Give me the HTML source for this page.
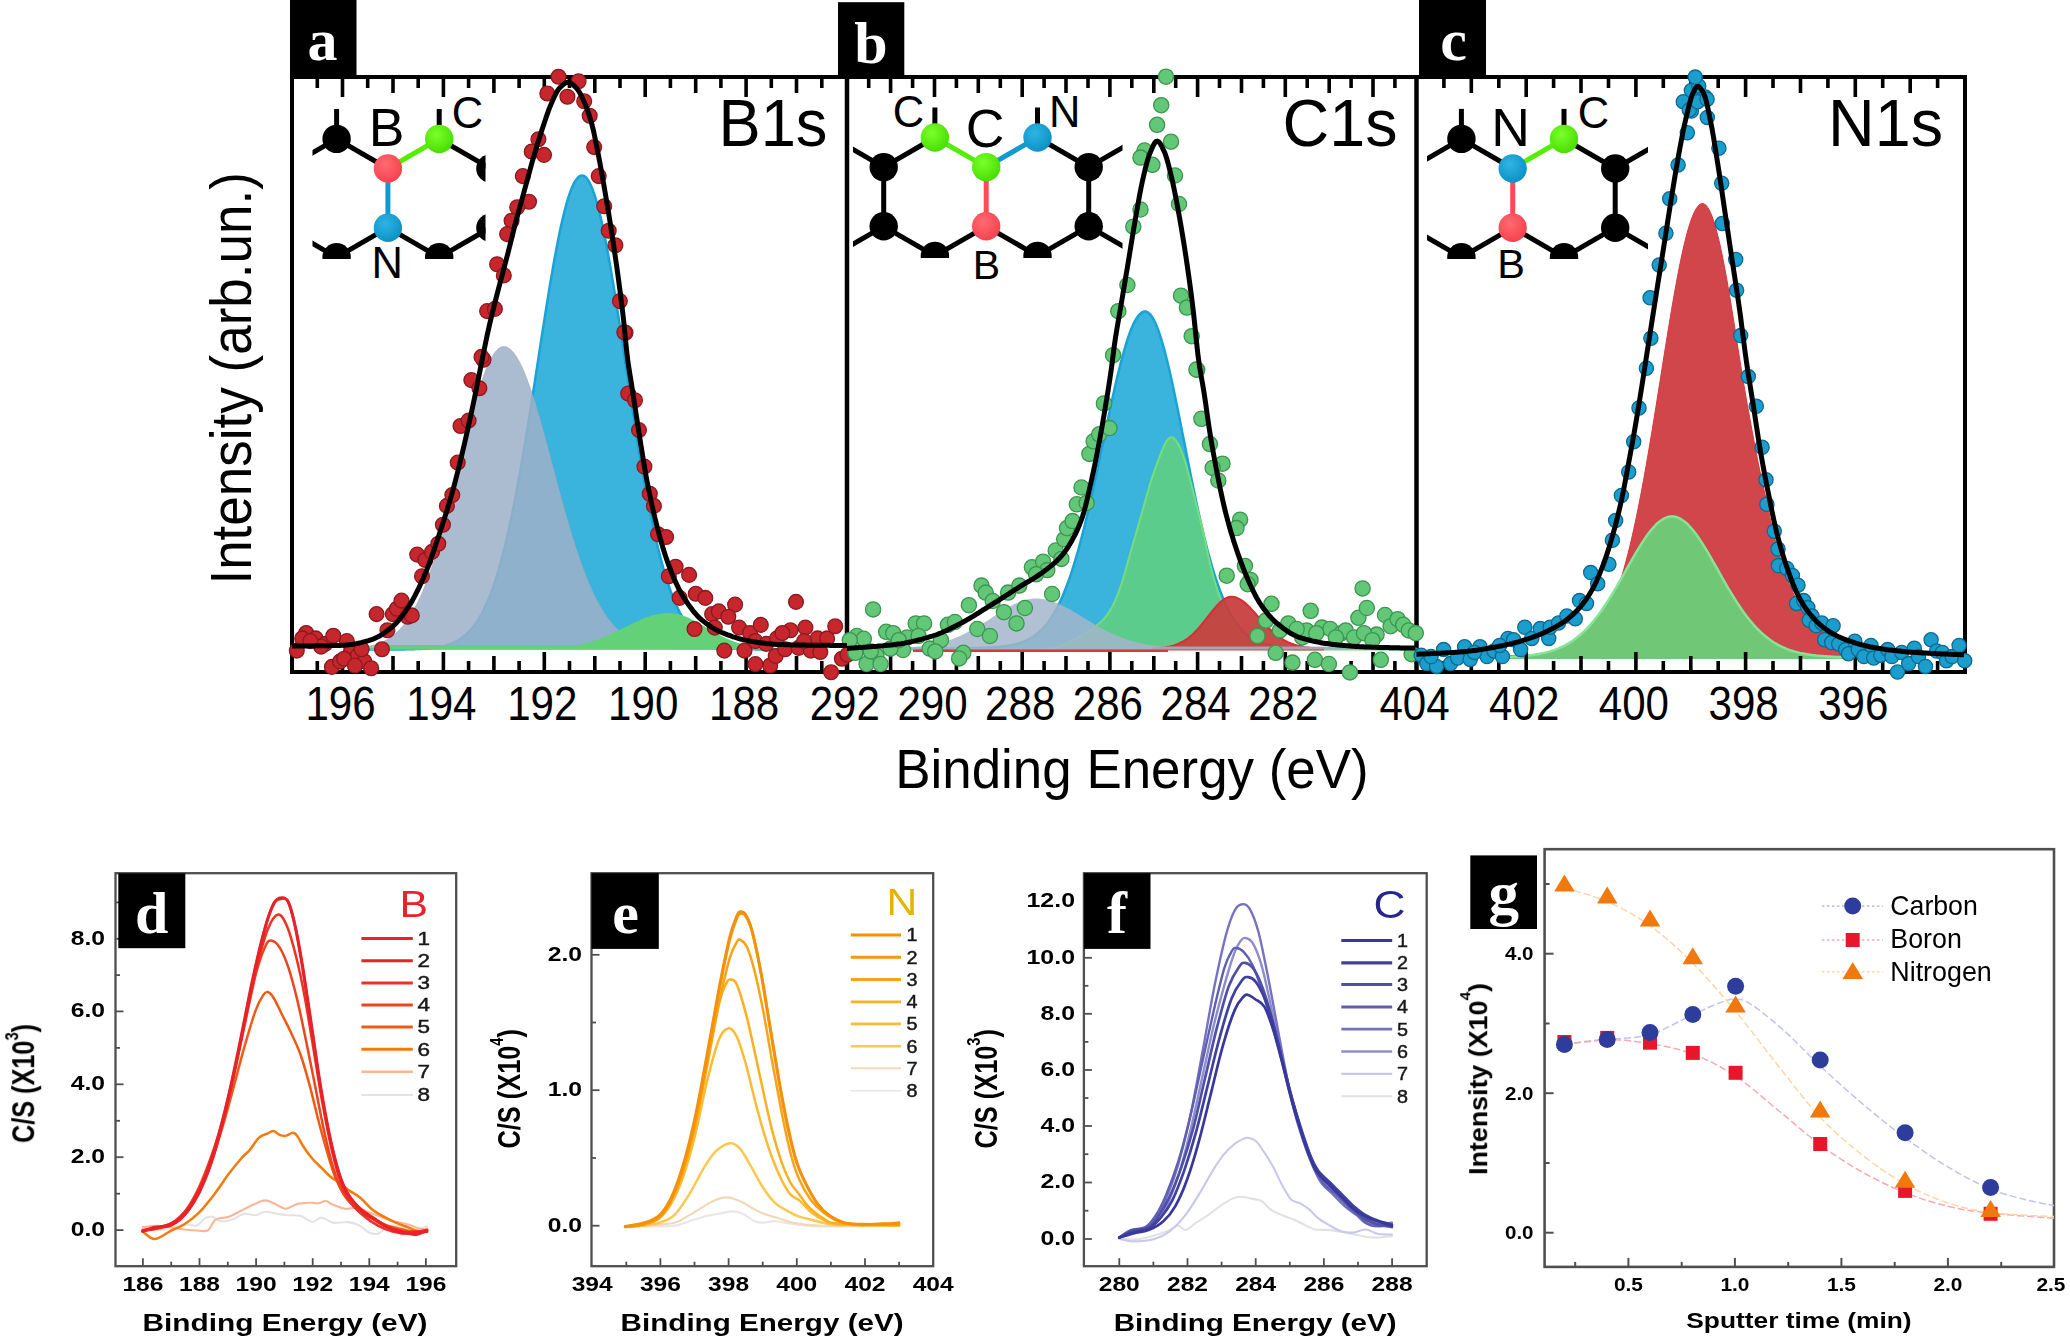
<!DOCTYPE html>
<html lang="en"><head><meta charset="utf-8"><title>XPS spectra figure</title>
<style>
html,body{margin:0;padding:0;background:#fff;}
body{width:2070px;height:1344px;overflow:hidden;}
svg{display:block;}
text{white-space:pre;}
</style></head><body>
<svg width="2070" height="1344" viewBox="0 0 2070 1344">
<rect width="2070" height="1344" fill="#fff"/>
<defs><filter id="soft" x="-2%" y="-2%" width="104%" height="104%"><feGaussianBlur stdDeviation="0.7"/></filter></defs>
<g id="top_fills">
<clipPath id="clipA"><rect x="292.0" y="77.0" width="555.0" height="595.0"/></clipPath>
<clipPath id="clipB"><rect x="847.0" y="77.0" width="569.5" height="595.0"/></clipPath>
<clipPath id="clipC"><rect x="1416.5" y="77.0" width="548.5" height="595.0"/></clipPath>
<path d="M360 649.5L362 649.5L364 649.5L366 649.5L368 649.5L370 649.5L372 649.5L374 649.5L376 649.5L378 649.5L380 649.5L382 649.5L384 649.5L386 649.5L388 649.5L390 649.5L392 649.5L394 649.4L396 649.4L398 649.4L400 649.4L402 649.4L404 649.4L406 649.3L408 649.3L410 649.3L412 649.2L414 649.2L416 649.1L418 649L420 648.9L422 648.8L424 648.7L426 648.6L428 648.4L430 648.2L432 648L434 647.8L436 647.5L438 647.2L440 646.8L442 646.4L444 645.9L446 645.4L448 644.7L450 644.1L452 643.3L454 642.4L456 641.4L458 640.3L460 639.1L462 637.7L464 636.1L466 634.4L468 632.6L470 630.5L472 628.2L474 625.7L476 622.9L478 619.9L480 616.6L482 613L484 609.1L486 604.9L488 600.3L490 595.4L492 590.1L494 584.4L496 578.3L498 571.8L500 564.9L502 557.6L504 549.9L506 541.7L508 533L510 524L512 514.5L514 504.6L516 494.3L518 483.6L520 472.6L522 461.1L524 449.4L526 437.3L528 425L530 412.5L532 399.8L534 386.9L536 373.9L538 360.9L540 347.9L542 335L544 322.1L546 309.5L548 297.1L550 284.9L552 273.2L554 261.8L556 250.9L558 240.6L560 230.8L562 221.7L564 213.3L566 205.6L568 198.7L570 192.7L572 187.5L574 183.2L576 179.9L578 177.4L580 176L582 175.5L584 176L586 177.5L588 180L590 183.5L592 188L594 193.3L596 199.6L598 206.8L600 214.7L602 223.4L604 232.9L606 242.9L608 253.6L610 264.9L612 276.6L614 288.7L616 301.2L618 313.9L620 326.9L622 340L624 353.3L626 366.5L628 379.8L630 393L632 406L634 418.9L636 431.6L638 444L640 456.1L642 467.9L644 479.3L646 490.4L648 501L650 511.3L652 521.1L654 530.4L656 539.3L658 547.8L660 555.8L662 563.4L664 570.5L666 577.2L668 583.5L670 589.3L672 594.8L674 599.8L676 604.5L678 608.8L680 612.8L682 616.5L684 619.9L686 623L688 625.8L690 628.3L692 630.6L694 632.8L696 634.7L698 636.4L700 637.9L702 639.3L704 640.5L706 641.6L708 642.6L710 643.5L712 644.3L714 644.9L716 645.5L718 646.1L720 646.5L722 646.9L724 647.3L726 647.6L728 647.9L730 648.1L732 648.3L734 648.5L736 648.6L738 648.8L740 648.9L742 649L744 649.1L746 649.1L748 649.2L750 649.2L752 649.3L754 649.3L756 649.4L758 649.4L760 649.4L762 649.4L764 649.4L766 649.4L768 649.5L770 649.5L772 649.5L774 649.5L776 649.5L778 649.5L780 649.5L782 649.5L784 649.5L786 649.5L788 649.5L790 649.5L792 649.5L794 649.5L796 649.5L798 649.5L798 649.5 L360 649.5 Z" fill="#3ab3dd"/>
<path d="M360 649.5L362 649.5L364 649.5L366 649.5L368 649.5L370 649.5L372 649.5L374 649.5L376 649.5L378 649.5L380 649.5L382 649.5L384 649.5L386 649.5L388 649.5L390 649.5L392 649.5L394 649.4L396 649.4L398 649.4L400 649.4L402 649.4L404 649.4L406 649.3L408 649.3L410 649.3L412 649.2L414 649.2L416 649.1L418 649L420 648.9L422 648.8L424 648.7L426 648.6L428 648.4L430 648.2L432 648L434 647.8L436 647.5L438 647.2L440 646.8L442 646.4L444 645.9L446 645.4L448 644.7L450 644.1L452 643.3L454 642.4L456 641.4L458 640.3L460 639.1L462 637.7L464 636.1L466 634.4L468 632.6L470 630.5L472 628.2L474 625.7L476 622.9L478 619.9L480 616.6L482 613L484 609.1L486 604.9L488 600.3L490 595.4L492 590.1L494 584.4L496 578.3L498 571.8L500 564.9L502 557.6L504 549.9L506 541.7L508 533L510 524L512 514.5L514 504.6L516 494.3L518 483.6L520 472.6L522 461.1L524 449.4L526 437.3L528 425L530 412.5L532 399.8L534 386.9L536 373.9L538 360.9L540 347.9L542 335L544 322.1L546 309.5L548 297.1L550 284.9L552 273.2L554 261.8L556 250.9L558 240.6L560 230.8L562 221.7L564 213.3L566 205.6L568 198.7L570 192.7L572 187.5L574 183.2L576 179.9L578 177.4L580 176L582 175.5L584 176L586 177.5L588 180L590 183.5L592 188L594 193.3L596 199.6L598 206.8L600 214.7L602 223.4L604 232.9L606 242.9L608 253.6L610 264.9L612 276.6L614 288.7L616 301.2L618 313.9L620 326.9L622 340L624 353.3L626 366.5L628 379.8L630 393L632 406L634 418.9L636 431.6L638 444L640 456.1L642 467.9L644 479.3L646 490.4L648 501L650 511.3L652 521.1L654 530.4L656 539.3L658 547.8L660 555.8L662 563.4L664 570.5L666 577.2L668 583.5L670 589.3L672 594.8L674 599.8L676 604.5L678 608.8L680 612.8L682 616.5L684 619.9L686 623L688 625.8L690 628.3L692 630.6L694 632.8L696 634.7L698 636.4L700 637.9L702 639.3L704 640.5L706 641.6L708 642.6L710 643.5L712 644.3L714 644.9L716 645.5L718 646.1L720 646.5L722 646.9L724 647.3L726 647.6L728 647.9L730 648.1L732 648.3L734 648.5L736 648.6L738 648.8L740 648.9L742 649L744 649.1L746 649.1L748 649.2L750 649.2L752 649.3L754 649.3L756 649.4L758 649.4L760 649.4L762 649.4L764 649.4L766 649.4L768 649.5L770 649.5L772 649.5L774 649.5L776 649.5L778 649.5L780 649.5L782 649.5L784 649.5L786 649.5L788 649.5L790 649.5L792 649.5L794 649.5L796 649.5L798 649.5" fill="none" stroke="#1aa3d6" stroke-width="2.5"/>
<path d="M360 647.8L362 647.6L364 647.3L366 646.9L368 646.5L370 646.1L372 645.6L374 645.1L376 644.5L378 643.8L380 643L382 642.2L384 641.2L386 640.2L388 639L390 637.8L392 636.4L394 634.8L396 633.1L398 631.3L400 629.2L402 627L404 624.6L406 622L408 619.2L410 616.2L412 612.9L414 609.4L416 605.7L418 601.7L420 597.5L422 593L424 588.2L426 583.1L428 577.8L430 572.2L432 566.3L434 560.2L436 553.8L438 547.2L440 540.3L442 533.2L444 525.9L446 518.3L448 510.6L450 502.8L452 494.8L454 486.7L456 478.5L458 470.3L460 462.1L462 453.8L464 445.7L466 437.6L468 429.6L470 421.8L472 414.2L474 406.8L476 399.7L478 392.9L480 386.4L482 380.3L484 374.7L486 369.5L488 364.7L490 360.5L492 356.8L494 353.6L496 351L498 349L500 347.5L502 346.7L504 346.5L506 346.8L508 347.7L510 349L512 350.8L514 353.2L516 356L518 359.2L520 362.9L522 367L524 371.6L526 376.5L528 381.8L530 387.4L532 393.3L534 399.6L536 406L538 412.7L540 419.6L542 426.7L544 433.9L546 441.3L548 448.7L550 456.2L552 463.7L554 471.2L556 478.7L558 486.2L560 493.6L562 500.9L564 508.1L566 515.2L568 522.1L570 528.9L572 535.6L574 542L576 548.2L578 554.3L580 560.1L582 565.7L584 571.1L586 576.3L588 581.2L590 585.9L592 590.4L594 594.7L596 598.7L598 602.5L600 606.1L602 609.5L604 612.7L606 615.7L608 618.5L610 621.1L612 623.6L614 625.9L616 628L618 629.9L620 631.7L622 633.4L624 634.9L626 636.3L628 637.6L630 638.8L632 639.9L634 640.9L636 641.8L638 642.6L640 643.3L642 644L644 644.6L646 645.2L648 645.6L650 646.1L652 646.5L654 646.8L656 647.2L658 647.4L660 647.7L662 647.9L664 648.1L666 648.3L668 648.4L670 648.6L672 648.7L674 648.8L676 648.9L678 649L680 649.1L682 649.1L684 649.2L686 649.2L688 649.3L690 649.3L692 649.3L694 649.3L696 649.4L698 649.4L700 649.4L702 649.4L704 649.4L706 649.4L708 649.5L710 649.5L712 649.5L714 649.5L716 649.5L718 649.5L720 649.5L722 649.5L724 649.5L726 649.5L728 649.5L730 649.5L732 649.5L734 649.5L736 649.5L738 649.5L740 649.5L742 649.5L744 649.5L746 649.5L748 649.5L750 649.5L752 649.5L754 649.5L756 649.5L758 649.5L760 649.5L762 649.5L764 649.5L766 649.5L768 649.5L770 649.5L772 649.5L774 649.5L776 649.5L778 649.5L780 649.5L782 649.5L784 649.5L786 649.5L788 649.5L790 649.5L792 649.5L794 649.5L796 649.5L798 649.5L798 649.5 L360 649.5 Z" fill="#9db1c8" fill-opacity="0.86"/>
<path d="M360 647.8L362 647.6L364 647.3L366 646.9L368 646.5L370 646.1L372 645.6L374 645.1L376 644.5L378 643.8L380 643L382 642.2L384 641.2L386 640.2L388 639L390 637.8L392 636.4L394 634.8L396 633.1L398 631.3L400 629.2L402 627L404 624.6L406 622L408 619.2L410 616.2L412 612.9L414 609.4L416 605.7L418 601.7L420 597.5L422 593L424 588.2L426 583.1L428 577.8L430 572.2L432 566.3L434 560.2L436 553.8L438 547.2L440 540.3L442 533.2L444 525.9L446 518.3L448 510.6L450 502.8L452 494.8L454 486.7L456 478.5L458 470.3L460 462.1L462 453.8L464 445.7L466 437.6L468 429.6L470 421.8L472 414.2L474 406.8L476 399.7L478 392.9L480 386.4L482 380.3L484 374.7L486 369.5L488 364.7L490 360.5L492 356.8L494 353.6L496 351L498 349L500 347.5L502 346.7L504 346.5L506 346.8L508 347.7L510 349L512 350.8L514 353.2L516 356L518 359.2L520 362.9L522 367L524 371.6L526 376.5L528 381.8L530 387.4L532 393.3L534 399.6L536 406L538 412.7L540 419.6L542 426.7L544 433.9L546 441.3L548 448.7L550 456.2L552 463.7L554 471.2L556 478.7L558 486.2L560 493.6L562 500.9L564 508.1L566 515.2L568 522.1L570 528.9L572 535.6L574 542L576 548.2L578 554.3L580 560.1L582 565.7L584 571.1L586 576.3L588 581.2L590 585.9L592 590.4L594 594.7L596 598.7L598 602.5L600 606.1L602 609.5L604 612.7L606 615.7L608 618.5L610 621.1L612 623.6L614 625.9L616 628L618 629.9L620 631.7L622 633.4L624 634.9L626 636.3L628 637.6L630 638.8L632 639.9L634 640.9L636 641.8L638 642.6L640 643.3L642 644L644 644.6L646 645.2L648 645.6L650 646.1L652 646.5L654 646.8L656 647.2L658 647.4L660 647.7L662 647.9L664 648.1L666 648.3L668 648.4L670 648.6L672 648.7L674 648.8L676 648.9L678 649L680 649.1L682 649.1L684 649.2L686 649.2L688 649.3L690 649.3L692 649.3L694 649.3L696 649.4L698 649.4L700 649.4L702 649.4L704 649.4L706 649.4L708 649.5L710 649.5L712 649.5L714 649.5L716 649.5L718 649.5L720 649.5L722 649.5L724 649.5L726 649.5L728 649.5L730 649.5L732 649.5L734 649.5L736 649.5L738 649.5L740 649.5L742 649.5L744 649.5L746 649.5L748 649.5L750 649.5L752 649.5L754 649.5L756 649.5L758 649.5L760 649.5L762 649.5L764 649.5L766 649.5L768 649.5L770 649.5L772 649.5L774 649.5L776 649.5L778 649.5L780 649.5L782 649.5L784 649.5L786 649.5L788 649.5L790 649.5L792 649.5L794 649.5L796 649.5L798 649.5" fill="none" stroke="#a9a9b8" stroke-width="1" stroke-opacity="0.6"/>
<path d="M360 649.5L362 649.5L364 649.5L366 649.3L368 648.8L370 648.4L372 647.9L374 647.5L376 647L378 646.6L380 646.1L382 645.7L384 645.2L386 645L388 645L390 645L392 645L394 645L396 645L398 645L400 645L402 645L404 645L406 645L408 645L410 645L412 645L414 645L416 645L418 645L420 645L422 645L424 645L426 645L428 645L430 645L432 645L434 645L436 645L438 645L440 645L442 645L444 645L446 645L448 645L450 645L452 645L454 645L456 645L458 645L460 645L462 645L464 645L466 645L468 645L470 645L472 645L474 645L476 645L478 645L480 645L482 645L484 645L486 645L488 645L490 645L492 645L494 645L496 645L498 645L500 645L502 645L504 645L506 645L508 645L510 645L512 645L514 645L516 645L518 645L520 645L522 645L524 645L526 645L528 645L530 645L532 645L534 645L536 645L538 645L540 645L542 645L544 645L546 645L548 645L550 645L552 645L554 645L556 645L558 645L560 645L562 645L564 645L566 645L568 645L570 645L572 645L574 645L576 645L578 645L580 644.7L582 644.2L584 643.7L586 643.2L588 642.7L590 642.1L592 641.5L594 640.8L596 640.1L598 639.4L600 638.7L602 637.9L604 637.1L606 636.2L608 635.4L610 634.5L612 633.5L614 632.6L616 631.6L618 630.7L620 629.7L622 628.7L624 627.7L626 626.7L628 625.7L630 624.7L632 623.7L634 622.7L636 621.8L638 620.9L640 620L642 619.1L644 618.3L646 617.6L648 616.8L650 616.2L652 615.5L654 615L656 614.5L658 614.1L660 613.7L662 613.4L664 613.2L666 613.1L668 613L670 613L672 613.1L674 613.4L676 613.7L678 614.1L680 614.6L682 615.2L684 615.9L686 616.7L688 617.5L690 618.4L692 619.4L694 620.4L696 621.5L698 622.6L700 623.7L702 624.9L704 626.1L706 627.3L708 628.4L710 629.6L712 630.8L714 631.9L716 633.1L718 634.2L720 635.2L722 636.2L724 637.2L726 638.2L728 639.1L730 640L732 640.8L734 641.5L736 642.3L738 642.9L740 643.6L742 644.1L744 644.7L746 645.1L748 645.5L750 645.8L752 646L754 646.4L756 646.6L758 647L760 647.2L762 647.5L764 647.9L766 648.1L768 648.4L770 648.6L772 648.7L774 648.8L776 648.9L778 649L780 649.1L782 649.1L784 649.2L786 649.2L788 649.3L790 649.3L792 649.3L794 649.4L796 649.4L798 649.4L798 649.5 L360 649.5 Z" fill="#63d177"/>
<path d="M900 648.8L902 648.8L904 648.8L906 648.8L908 648.8L910 648.8L912 648.8L914 648.7L916 648.7L918 648.7L920 648.7L922 648.7L924 648.7L926 648.7L928 648.6L930 648.6L932 648.6L934 648.6L936 648.6L938 648.6L940 648.5L942 648.5L944 648.5L946 648.5L948 648.5L950 648.4L952 648.4L954 648.4L956 648.4L958 648.4L960 648.3L962 648.3L964 648.3L966 648.2L968 648.2L970 648.2L972 648.1L974 648.1L976 648L978 648L980 647.9L982 647.8L984 647.8L986 647.7L988 647.6L990 647.5L992 647.4L994 647.3L996 647.1L998 646.9L1000 646.8L1002 646.6L1004 646.3L1006 646L1008 645.7L1010 645.4L1012 645L1014 644.6L1016 644.1L1018 643.6L1020 643L1022 642.3L1024 641.5L1026 640.6L1028 639.7L1030 638.6L1032 637.4L1034 636.1L1036 634.6L1038 633L1040 631.3L1042 629.3L1044 627.2L1046 624.9L1048 622.3L1050 619.5L1052 616.5L1054 613.3L1056 609.7L1058 605.9L1060 601.8L1062 597.5L1064 592.8L1066 587.8L1068 582.4L1070 576.8L1072 570.8L1074 564.5L1076 557.9L1078 551L1080 543.7L1082 536.1L1084 528.3L1086 520.1L1088 511.7L1090 503.1L1092 494.2L1094 485.1L1096 475.9L1098 466.5L1100 457L1102 447.5L1104 437.9L1106 428.4L1108 418.9L1110 409.5L1112 400.3L1114 391.3L1116 382.5L1118 374.1L1120 366L1122 358.3L1124 351L1126 344.2L1128 338L1130 332.3L1132 327.3L1134 322.9L1136 319.2L1138 316.2L1140 313.9L1142 312.4L1144 311.6L1146 311.6L1148 312.5L1150 314.2L1152 316.8L1154 320.2L1156 324.4L1158 329.4L1160 335.1L1162 341.5L1164 348.6L1166 356.2L1168 364.3L1170 372.9L1172 381.9L1174 391.2L1176 400.9L1178 410.7L1180 420.8L1182 430.9L1184 441.1L1186 451.3L1188 461.5L1190 471.5L1192 481.5L1194 491.2L1196 500.8L1198 510.1L1200 519.1L1202 527.9L1204 536.3L1206 544.3L1208 552.1L1210 559.4L1212 566.4L1214 573L1216 579.2L1218 585.1L1220 590.6L1222 595.8L1224 600.6L1226 605L1228 609.1L1230 612.9L1232 616.4L1234 619.7L1236 622.6L1238 625.3L1240 627.7L1242 630L1244 632L1246 633.8L1248 635.4L1250 636.9L1252 638.2L1254 639.4L1256 640.4L1258 641.4L1260 642.2L1262 643L1264 643.6L1266 644.2L1268 644.7L1270 645.1L1272 645.5L1274 645.9L1276 646.2L1278 646.4L1280 646.7L1282 646.9L1284 647.1L1286 647.2L1288 647.4L1290 647.5L1292 647.6L1294 647.7L1296 647.8L1298 647.9L1300 647.9L1302 648L1304 648L1306 648.1L1308 648.1L1310 648.2L1312 648.2L1314 648.3L1316 648.3L1318 648.3L1320 648.4L1322 648.4L1324 648.4L1326 648.4L1328 648.5L1330 648.5L1332 648.5L1334 648.5L1336 648.5L1338 648.6L1340 648.6L1342 648.6L1344 648.6L1346 648.6L1348 648.6L1350 648.7L1352 648.7L1354 648.7L1356 648.7L1358 648.7L1360 648.7L1362 648.7L1364 648.8L1366 648.8L1368 648.8L1370 648.8L1372 648.8L1374 648.8L1376 648.8L1378 648.8L1380 648.9L1382 648.9L1384 648.9L1386 648.9L1388 648.9L1390 648.9L1392 648.9L1394 648.9L1396 648.9L1398 648.9L1400 648.9L1402 649L1404 649L1406 649L1408 649L1410 649L1410 649.5 L900 649.5 Z" fill="#3ab3dd"/>
<path d="M900 648.8L902 648.8L904 648.8L906 648.8L908 648.8L910 648.8L912 648.8L914 648.7L916 648.7L918 648.7L920 648.7L922 648.7L924 648.7L926 648.7L928 648.6L930 648.6L932 648.6L934 648.6L936 648.6L938 648.6L940 648.5L942 648.5L944 648.5L946 648.5L948 648.5L950 648.4L952 648.4L954 648.4L956 648.4L958 648.4L960 648.3L962 648.3L964 648.3L966 648.2L968 648.2L970 648.2L972 648.1L974 648.1L976 648L978 648L980 647.9L982 647.8L984 647.8L986 647.7L988 647.6L990 647.5L992 647.4L994 647.3L996 647.1L998 646.9L1000 646.8L1002 646.6L1004 646.3L1006 646L1008 645.7L1010 645.4L1012 645L1014 644.6L1016 644.1L1018 643.6L1020 643L1022 642.3L1024 641.5L1026 640.6L1028 639.7L1030 638.6L1032 637.4L1034 636.1L1036 634.6L1038 633L1040 631.3L1042 629.3L1044 627.2L1046 624.9L1048 622.3L1050 619.5L1052 616.5L1054 613.3L1056 609.7L1058 605.9L1060 601.8L1062 597.5L1064 592.8L1066 587.8L1068 582.4L1070 576.8L1072 570.8L1074 564.5L1076 557.9L1078 551L1080 543.7L1082 536.1L1084 528.3L1086 520.1L1088 511.7L1090 503.1L1092 494.2L1094 485.1L1096 475.9L1098 466.5L1100 457L1102 447.5L1104 437.9L1106 428.4L1108 418.9L1110 409.5L1112 400.3L1114 391.3L1116 382.5L1118 374.1L1120 366L1122 358.3L1124 351L1126 344.2L1128 338L1130 332.3L1132 327.3L1134 322.9L1136 319.2L1138 316.2L1140 313.9L1142 312.4L1144 311.6L1146 311.6L1148 312.5L1150 314.2L1152 316.8L1154 320.2L1156 324.4L1158 329.4L1160 335.1L1162 341.5L1164 348.6L1166 356.2L1168 364.3L1170 372.9L1172 381.9L1174 391.2L1176 400.9L1178 410.7L1180 420.8L1182 430.9L1184 441.1L1186 451.3L1188 461.5L1190 471.5L1192 481.5L1194 491.2L1196 500.8L1198 510.1L1200 519.1L1202 527.9L1204 536.3L1206 544.3L1208 552.1L1210 559.4L1212 566.4L1214 573L1216 579.2L1218 585.1L1220 590.6L1222 595.8L1224 600.6L1226 605L1228 609.1L1230 612.9L1232 616.4L1234 619.7L1236 622.6L1238 625.3L1240 627.7L1242 630L1244 632L1246 633.8L1248 635.4L1250 636.9L1252 638.2L1254 639.4L1256 640.4L1258 641.4L1260 642.2L1262 643L1264 643.6L1266 644.2L1268 644.7L1270 645.1L1272 645.5L1274 645.9L1276 646.2L1278 646.4L1280 646.7L1282 646.9L1284 647.1L1286 647.2L1288 647.4L1290 647.5L1292 647.6L1294 647.7L1296 647.8L1298 647.9L1300 647.9L1302 648L1304 648L1306 648.1L1308 648.1L1310 648.2L1312 648.2L1314 648.3L1316 648.3L1318 648.3L1320 648.4L1322 648.4L1324 648.4L1326 648.4L1328 648.5L1330 648.5L1332 648.5L1334 648.5L1336 648.5L1338 648.6L1340 648.6L1342 648.6L1344 648.6L1346 648.6L1348 648.6L1350 648.7L1352 648.7L1354 648.7L1356 648.7L1358 648.7L1360 648.7L1362 648.7L1364 648.8L1366 648.8L1368 648.8L1370 648.8L1372 648.8L1374 648.8L1376 648.8L1378 648.8L1380 648.9L1382 648.9L1384 648.9L1386 648.9L1388 648.9L1390 648.9L1392 648.9L1394 648.9L1396 648.9L1398 648.9L1400 648.9L1402 649L1404 649L1406 649L1408 649L1410 649" fill="none" stroke="#1aa3d6" stroke-width="2.5"/>
<path d="M900 649.5L902 649.5L904 649.5L906 649.5L908 649.5L910 649.5L912 649.5L914 649.5L916 649.5L918 649.5L920 649.5L922 649.5L924 649.5L926 649.5L928 649.5L930 649.5L932 649.5L934 649.5L936 649.5L938 649.5L940 649.5L942 649.5L944 649.5L946 649.5L948 649.5L950 649.5L952 649.5L954 649.5L956 649.5L958 649.5L960 649.5L962 649.5L964 649.5L966 649.5L968 649.5L970 649.5L972 649.5L974 649.5L976 649.5L978 649.5L980 649.5L982 649.5L984 649.5L986 649.5L988 649.5L990 649.5L992 649.5L994 649.5L996 649.5L998 649.5L1000 649.5L1002 649.5L1004 649.5L1006 649.5L1008 649.5L1010 649.5L1012 649.5L1014 649.5L1016 649.5L1018 649.5L1020 649.5L1022 649.5L1024 649.5L1026 649.5L1028 649.5L1030 649.5L1032 649.5L1034 649.5L1036 649.5L1038 649.5L1040 649.5L1042 649.4L1044 649.3L1046 649L1048 648.8L1050 648.4L1052 648.1L1054 647.7L1056 647.3L1058 646.8L1060 646.1L1062 645.4L1064 644.6L1066 643.8L1068 642.9L1070 642L1072 641L1074 640L1076 638.8L1078 637.6L1080 636.4L1082 635.1L1084 633.8L1086 632.5L1088 631.3L1090 630L1092 628.8L1094 627.4L1096 626L1098 624.4L1100 622.7L1102 620.9L1104 618.8L1106 616.4L1108 613.6L1110 610.4L1112 607L1114 603.2L1116 598.8L1118 593.7L1120 588.1L1122 582.2L1124 575.9L1126 568.8L1128 561.5L1130 554.3L1132 547.4L1134 540.4L1136 533.5L1138 526.5L1140 519.4L1142 512.4L1144 505.3L1146 498.2L1148 491.1L1150 484.2L1152 477.9L1154 472L1156 466.3L1158 460.8L1160 455.7L1162 450.5L1164 445.6L1166 442L1168 439.5L1170 437.6L1172 437L1174 438.3L1176 440.7L1178 443.5L1180 447.5L1182 452.5L1184 458L1186 464.4L1188 471.7L1190 479.2L1192 486.9L1194 495.1L1196 503.3L1198 511.2L1200 518.9L1202 526.9L1204 535.7L1206 545.4L1208 554.8L1210 563.4L1212 571.6L1214 579L1216 585.5L1218 591.5L1220 596.9L1222 601.7L1224 606.3L1226 610.6L1228 614.5L1230 618L1232 621.2L1234 624.3L1236 627.2L1238 629.8L1240 632.1L1242 634L1244 635.7L1246 637.3L1248 638.7L1250 640.1L1252 641.3L1254 642.4L1256 643.3L1258 644L1260 644.6L1262 645.2L1264 645.7L1266 646.2L1268 646.7L1270 647.1L1272 647.5L1274 647.8L1276 648.1L1278 648.3L1280 648.5L1282 648.7L1284 648.8L1286 648.9L1288 649.1L1290 649.2L1292 649.3L1294 649.4L1296 649.4L1298 649.5L1300 649.5L1302 649.5L1304 649.5L1306 649.5L1308 649.5L1310 649.5L1312 649.5L1314 649.5L1316 649.5L1318 649.5L1320 649.5L1322 649.5L1324 649.5L1326 649.5L1328 649.5L1330 649.5L1332 649.5L1334 649.5L1336 649.5L1338 649.5L1340 649.5L1342 649.5L1344 649.5L1346 649.5L1348 649.5L1350 649.5L1352 649.5L1354 649.5L1356 649.5L1358 649.5L1360 649.5L1362 649.5L1364 649.5L1366 649.5L1368 649.5L1370 649.5L1372 649.5L1374 649.5L1376 649.5L1378 649.5L1380 649.5L1382 649.5L1384 649.5L1386 649.5L1388 649.5L1390 649.5L1392 649.5L1394 649.5L1396 649.5L1398 649.5L1400 649.5L1402 649.5L1404 649.5L1406 649.5L1408 649.5L1410 649.5L1410 649.5 L900 649.5 Z" fill="#5bcc8c"/>
<path d="M900 649.5L902 649.5L904 649.5L906 649.5L908 649.5L910 649.5L912 649.5L914 649.5L916 649.5L918 649.5L920 649.5L922 649.5L924 649.5L926 649.5L928 649.5L930 649.5L932 649.5L934 649.5L936 649.5L938 649.5L940 649.5L942 649.5L944 649.5L946 649.5L948 649.5L950 649.5L952 649.5L954 649.5L956 649.5L958 649.5L960 649.5L962 649.5L964 649.5L966 649.5L968 649.5L970 649.5L972 649.5L974 649.5L976 649.5L978 649.5L980 649.5L982 649.5L984 649.5L986 649.5L988 649.5L990 649.5L992 649.5L994 649.5L996 649.5L998 649.5L1000 649.5L1002 649.5L1004 649.5L1006 649.5L1008 649.5L1010 649.5L1012 649.5L1014 649.5L1016 649.5L1018 649.5L1020 649.5L1022 649.5L1024 649.5L1026 649.5L1028 649.5L1030 649.5L1032 649.5L1034 649.5L1036 649.5L1038 649.5L1040 649.5L1042 649.4L1044 649.3L1046 649L1048 648.8L1050 648.4L1052 648.1L1054 647.7L1056 647.3L1058 646.8L1060 646.1L1062 645.4L1064 644.6L1066 643.8L1068 642.9L1070 642L1072 641L1074 640L1076 638.8L1078 637.6L1080 636.4L1082 635.1L1084 633.8L1086 632.5L1088 631.3L1090 630L1092 628.8L1094 627.4L1096 626L1098 624.4L1100 622.7L1102 620.9L1104 618.8L1106 616.4L1108 613.6L1110 610.4L1112 607L1114 603.2L1116 598.8L1118 593.7L1120 588.1L1122 582.2L1124 575.9L1126 568.8L1128 561.5L1130 554.3L1132 547.4L1134 540.4L1136 533.5L1138 526.5L1140 519.4L1142 512.4L1144 505.3L1146 498.2L1148 491.1L1150 484.2L1152 477.9L1154 472L1156 466.3L1158 460.8L1160 455.7L1162 450.5L1164 445.6L1166 442L1168 439.5L1170 437.6L1172 437L1174 438.3L1176 440.7L1178 443.5L1180 447.5L1182 452.5L1184 458L1186 464.4L1188 471.7L1190 479.2L1192 486.9L1194 495.1L1196 503.3L1198 511.2L1200 518.9L1202 526.9L1204 535.7L1206 545.4L1208 554.8L1210 563.4L1212 571.6L1214 579L1216 585.5L1218 591.5L1220 596.9L1222 601.7L1224 606.3L1226 610.6L1228 614.5L1230 618L1232 621.2L1234 624.3L1236 627.2L1238 629.8L1240 632.1L1242 634L1244 635.7L1246 637.3L1248 638.7L1250 640.1L1252 641.3L1254 642.4L1256 643.3L1258 644L1260 644.6L1262 645.2L1264 645.7L1266 646.2L1268 646.7L1270 647.1L1272 647.5L1274 647.8L1276 648.1L1278 648.3L1280 648.5L1282 648.7L1284 648.8L1286 648.9L1288 649.1L1290 649.2L1292 649.3L1294 649.4L1296 649.4L1298 649.5L1300 649.5L1302 649.5L1304 649.5L1306 649.5L1308 649.5L1310 649.5L1312 649.5L1314 649.5L1316 649.5L1318 649.5L1320 649.5L1322 649.5L1324 649.5L1326 649.5L1328 649.5L1330 649.5L1332 649.5L1334 649.5L1336 649.5L1338 649.5L1340 649.5L1342 649.5L1344 649.5L1346 649.5L1348 649.5L1350 649.5L1352 649.5L1354 649.5L1356 649.5L1358 649.5L1360 649.5L1362 649.5L1364 649.5L1366 649.5L1368 649.5L1370 649.5L1372 649.5L1374 649.5L1376 649.5L1378 649.5L1380 649.5L1382 649.5L1384 649.5L1386 649.5L1388 649.5L1390 649.5L1392 649.5L1394 649.5L1396 649.5L1398 649.5L1400 649.5L1402 649.5L1404 649.5L1406 649.5L1408 649.5L1410 649.5" fill="none" stroke="#76dd7c" stroke-width="2"/>
<rect x="913" y="649" width="255" height="3" fill="#d43b41"/>
<path d="M1152 648.6L1154 648.5L1156 648.3L1158 648.2L1160 648L1162 647.8L1164 647.6L1166 647.3L1168 646.9L1170 646.5L1172 646L1174 645.5L1176 644.8L1178 644L1180 643.1L1182 642.1L1184 641L1186 639.7L1188 638.3L1190 636.7L1192 635L1194 633.1L1196 631.1L1198 628.9L1200 626.7L1202 624.3L1204 621.8L1206 619.2L1208 616.7L1210 614.1L1212 611.5L1214 609.1L1216 606.7L1218 604.5L1220 602.5L1222 600.8L1224 599.3L1226 598.2L1228 597.3L1230 596.9L1232 596.8L1234 597L1236 597.6L1238 598.4L1240 599.4L1242 600.7L1244 602.2L1246 603.9L1248 605.8L1250 607.8L1252 609.9L1254 612.1L1256 614.3L1258 616.6L1260 618.8L1262 621.1L1264 623.3L1266 625.4L1268 627.5L1270 629.4L1272 631.3L1274 633.1L1276 634.7L1278 636.3L1280 637.7L1282 639L1284 640.2L1286 641.3L1288 642.3L1290 643.1L1292 643.9L1294 644.6L1296 645.2L1298 645.8L1300 646.2L1302 646.6L1304 647L1306 647.3L1308 647.5L1310 647.8L1312 648L1314 648.1L1316 648.3L1318 648.4L1320 648.5L1322 648.6L1324 648.6L1324 650.5 L1152 650.5 Z" fill="#c7403f" fill-opacity="0.95"/>
<path d="M1152 648.6L1154 648.5L1156 648.3L1158 648.2L1160 648L1162 647.8L1164 647.6L1166 647.3L1168 646.9L1170 646.5L1172 646L1174 645.5L1176 644.8L1178 644L1180 643.1L1182 642.1L1184 641L1186 639.7L1188 638.3L1190 636.7L1192 635L1194 633.1L1196 631.1L1198 628.9L1200 626.7L1202 624.3L1204 621.8L1206 619.2L1208 616.7L1210 614.1L1212 611.5L1214 609.1L1216 606.7L1218 604.5L1220 602.5L1222 600.8L1224 599.3L1226 598.2L1228 597.3L1230 596.9L1232 596.8L1234 597L1236 597.6L1238 598.4L1240 599.4L1242 600.7L1244 602.2L1246 603.9L1248 605.8L1250 607.8L1252 609.9L1254 612.1L1256 614.3L1258 616.6L1260 618.8L1262 621.1L1264 623.3L1266 625.4L1268 627.5L1270 629.4L1272 631.3L1274 633.1L1276 634.7L1278 636.3L1280 637.7L1282 639L1284 640.2L1286 641.3L1288 642.3L1290 643.1L1292 643.9L1294 644.6L1296 645.2L1298 645.8L1300 646.2L1302 646.6L1304 647L1306 647.3L1308 647.5L1310 647.8L1312 648L1314 648.1L1316 648.3L1318 648.4L1320 648.5L1322 648.6L1324 648.6" fill="none" stroke="#db2f37" stroke-width="2.2"/>
<path d="M900 647.9L902 647.8L904 647.7L906 647.6L908 647.5L910 647.3L912 647.2L914 647L916 646.8L918 646.6L920 646.4L922 646.1L924 645.9L926 645.6L928 645.3L930 644.9L932 644.6L934 644.2L936 643.7L938 643.3L940 642.8L942 642.3L944 641.7L946 641.2L948 640.5L950 639.9L952 639.2L954 638.4L956 637.6L958 636.8L960 636L962 635L964 634.1L966 633.1L968 632.1L970 631L972 629.9L974 628.8L976 627.7L978 626.5L980 625.2L982 624L984 622.7L986 621.5L988 620.2L990 618.9L992 617.5L994 616.2L996 614.9L998 613.6L1000 612.3L1002 611.1L1004 609.9L1006 608.7L1008 607.5L1010 606.4L1012 605.3L1014 604.3L1016 603.4L1018 602.5L1020 601.7L1022 601L1024 600.3L1026 599.8L1028 599.3L1030 599L1032 598.7L1034 598.6L1036 598.5L1038 598.5L1040 598.7L1042 598.9L1044 599.2L1046 599.6L1048 600.1L1050 600.6L1052 601.3L1054 602L1056 602.7L1058 603.6L1060 604.5L1062 605.4L1064 606.4L1066 607.5L1068 608.5L1070 609.6L1072 610.8L1074 612L1076 613.1L1078 614.3L1080 615.6L1082 616.8L1084 618L1086 619.2L1088 620.4L1090 621.6L1092 622.8L1094 624L1096 625.2L1098 626.3L1100 627.4L1102 628.5L1104 629.6L1106 630.6L1108 631.6L1110 632.6L1112 633.5L1114 634.4L1116 635.3L1118 636.1L1120 636.9L1122 637.7L1124 638.4L1126 639.1L1128 639.7L1130 640.4L1132 641L1134 641.5L1136 642.1L1138 642.5L1140 643L1142 643.5L1144 643.9L1146 644.3L1148 644.6L1150 644.9L1152 645.3L1154 645.6L1156 645.8L1158 646.1L1160 646.3L1162 646.5L1164 646.5L1166 646.5L1168 646.5L1170 646.5L1172 646.5L1174 646.5L1176 646.5L1178 646.5L1180 646.5L1182 646.5L1184 646.5L1186 646.5L1188 646.5L1190 646.5L1192 646.5L1194 646.5L1196 646.5L1198 646.5L1200 646.5L1202 646.5L1204 646.5L1206 646.5L1208 646.5L1210 646.5L1212 646.5L1214 646.5L1216 646.5L1218 646.5L1220 646.5L1222 646.5L1224 646.5L1226 646.5L1228 646.5L1230 646.5L1232 646.5L1234 646.5L1236 646.5L1238 646.5L1240 646.5L1242 646.5L1244 646.5L1246 646.5L1248 646.5L1250 646.5L1252 646.5L1254 646.5L1256 646.5L1258 646.5L1260 646.5L1262 646.5L1264 646.5L1266 646.5L1268 646.5L1270 646.5L1272 646.5L1274 646.5L1276 646.5L1278 646.5L1280 646.5L1282 646.5L1284 646.5L1286 646.5L1288 646.5L1290 646.5L1292 646.5L1294 646.5L1296 646.5L1298 646.5L1300 646.5L1302 646.5L1304 646.5L1306 646.5L1308 646.5L1310 646.5L1312 646.5L1314 646.5L1316 646.5L1318 646.5L1320 646.5L1322 646.5L1324 646.5L1326 646.5L1328 646.5L1330 646.5L1332 646.5L1334 646.5L1336 646.5L1338 646.5L1340 646.5L1342 646.5L1344 646.5L1346 646.5L1348 646.5L1350 646.5L1352 646.5L1354 646.5L1356 646.6L1358 646.7L1360 646.9L1362 647L1364 647.2L1366 647.3L1368 647.5L1370 647.6L1372 647.8L1374 647.9L1376 648.1L1378 648.2L1380 648.4L1382 648.5L1384 648.7L1386 648.8L1388 649L1390 649.1L1392 649.3L1394 649.3L1396 649.3L1398 649.3L1400 649.3L1402 649.3L1404 649.3L1406 649.3L1408 649.3L1410 649.3L1410 649.5 L900 649.5 Z" fill="#a3b5ca" fill-opacity="0.85"/>
<path d="M1480 656.3L1482 656.2L1484 656.2L1486 656.2L1488 656.1L1490 656.1L1492 656L1494 656L1496 655.9L1498 655.9L1500 655.8L1502 655.8L1504 655.7L1506 655.7L1508 655.6L1510 655.6L1512 655.5L1514 655.4L1516 655.4L1518 655.3L1520 655.2L1522 655.1L1524 655.1L1526 655L1528 654.9L1530 654.8L1532 654.7L1534 654.6L1536 654.4L1538 654.3L1540 654.2L1542 654L1544 653.9L1546 653.7L1548 653.5L1550 653.3L1552 653L1554 652.8L1556 652.5L1558 652.1L1560 651.8L1562 651.4L1564 650.9L1566 650.4L1568 649.9L1570 649.3L1572 648.6L1574 647.8L1576 647L1578 646L1580 645L1582 643.8L1584 642.5L1586 641.1L1588 639.5L1590 637.7L1592 635.8L1594 633.7L1596 631.4L1598 628.8L1600 626.1L1602 623L1604 619.7L1606 616.1L1608 612.2L1610 608L1612 603.5L1614 598.6L1616 593.3L1618 587.7L1620 581.7L1622 575.3L1624 568.5L1626 561.2L1628 553.6L1630 545.5L1632 537L1634 528.1L1636 518.8L1638 509L1640 498.9L1642 488.4L1644 477.5L1646 466.3L1648 454.8L1650 443L1652 431L1654 418.8L1656 406.4L1658 393.8L1660 381.2L1662 368.6L1664 356L1666 343.5L1668 331.2L1670 319L1672 307.1L1674 295.6L1676 284.5L1678 273.8L1680 263.7L1682 254.1L1684 245.3L1686 237.1L1688 229.7L1690 223.2L1692 217.5L1694 212.7L1696 208.9L1698 206.1L1700 204.3L1702 203.5L1704 203.8L1706 205.2L1708 207.8L1710 211.5L1712 216.2L1714 221.9L1716 228.7L1718 236.4L1720 244.9L1722 254.2L1724 264.3L1726 275L1728 286.3L1730 298.1L1732 310.3L1734 322.9L1736 335.7L1738 348.5L1740 361.1L1742 373.4L1744 385.5L1746 397.2L1748 408.5L1750 419.4L1752 430.3L1754 441.1L1756 451.8L1758 461.9L1760 471.4L1762 480.7L1764 489.8L1766 498.8L1768 508.2L1770 517.6L1772 526.8L1774 535.2L1776 542.9L1778 550L1780 556.8L1782 563.1L1784 569.1L1786 574.8L1788 580.3L1790 585.5L1792 590.3L1794 594.7L1796 598.6L1798 602.3L1800 605.7L1802 608.8L1804 611.7L1806 614.4L1808 616.8L1810 619.1L1812 621.3L1814 623.3L1816 625.2L1818 627L1820 628.6L1822 630.2L1824 631.6L1826 632.9L1828 634.1L1830 635.2L1832 638.1L1834 640.7L1836 643.1L1838 645.3L1840 647.4L1842 649.3L1844 651L1846 652.6L1848 654.1L1850 655.5L1852 656.7L1854 657.9L1856 659L1858 659L1860 659L1862 659L1864 659L1866 659L1868 659L1870 659L1872 659L1874 659L1876 659L1878 659L1880 659L1882 659L1884 659L1886 659L1888 659L1890 659L1892 659L1894 659L1896 659L1898 659L1898 659 L1480 659 Z" fill="#d0464b"/>
<path d="M1480 656.3L1482 656.2L1484 656.2L1486 656.2L1488 656.1L1490 656.1L1492 656L1494 656L1496 655.9L1498 655.9L1500 655.8L1502 655.8L1504 655.7L1506 655.7L1508 655.6L1510 655.6L1512 655.5L1514 655.4L1516 655.4L1518 655.3L1520 655.2L1522 655.1L1524 655.1L1526 655L1528 654.9L1530 654.8L1532 654.7L1534 654.6L1536 654.4L1538 654.3L1540 654.2L1542 654L1544 653.9L1546 653.7L1548 653.5L1550 653.3L1552 653L1554 652.8L1556 652.5L1558 652.1L1560 651.8L1562 651.4L1564 650.9L1566 650.4L1568 649.9L1570 649.3L1572 648.6L1574 647.8L1576 647L1578 646L1580 645L1582 643.8L1584 642.5L1586 641.1L1588 639.5L1590 637.7L1592 635.8L1594 633.7L1596 631.4L1598 628.8L1600 626.1L1602 623L1604 619.7L1606 616.1L1608 612.2L1610 608L1612 603.5L1614 598.6L1616 593.3L1618 587.7L1620 581.7L1622 575.3L1624 568.5L1626 561.2L1628 553.6L1630 545.5L1632 537L1634 528.1L1636 518.8L1638 509L1640 498.9L1642 488.4L1644 477.5L1646 466.3L1648 454.8L1650 443L1652 431L1654 418.8L1656 406.4L1658 393.8L1660 381.2L1662 368.6L1664 356L1666 343.5L1668 331.2L1670 319L1672 307.1L1674 295.6L1676 284.5L1678 273.8L1680 263.7L1682 254.1L1684 245.3L1686 237.1L1688 229.7L1690 223.2L1692 217.5L1694 212.7L1696 208.9L1698 206.1L1700 204.3L1702 203.5L1704 203.8L1706 205.2L1708 207.8L1710 211.5L1712 216.2L1714 221.9L1716 228.7L1718 236.4L1720 244.9L1722 254.2L1724 264.3L1726 275L1728 286.3L1730 298.1L1732 310.3L1734 322.9L1736 335.7L1738 348.5L1740 361.1L1742 373.4L1744 385.5L1746 397.2L1748 408.5L1750 419.4L1752 430.3L1754 441.1L1756 451.8L1758 461.9L1760 471.4L1762 480.7L1764 489.8L1766 498.8L1768 508.2L1770 517.6L1772 526.8L1774 535.2L1776 542.9L1778 550L1780 556.8L1782 563.1L1784 569.1L1786 574.8L1788 580.3L1790 585.5L1792 590.3L1794 594.7L1796 598.6L1798 602.3L1800 605.7L1802 608.8L1804 611.7L1806 614.4L1808 616.8L1810 619.1L1812 621.3L1814 623.3L1816 625.2L1818 627L1820 628.6L1822 630.2L1824 631.6L1826 632.9L1828 634.1L1830 635.2L1832 638.1L1834 640.7L1836 643.1L1838 645.3L1840 647.4L1842 649.3L1844 651L1846 652.6L1848 654.1L1850 655.5L1852 656.7L1854 657.9L1856 659L1858 659L1860 659L1862 659L1864 659L1866 659L1868 659L1870 659L1872 659L1874 659L1876 659L1878 659L1880 659L1882 659L1884 659L1886 659L1888 659L1890 659L1892 659L1894 659L1896 659L1898 659" fill="none" stroke="#d9383f" stroke-width="1"/>
<path d="M1480 657.6L1482 657.6L1484 657.6L1486 657.5L1488 657.5L1490 657.4L1492 657.4L1494 657.3L1496 657.3L1498 657.2L1500 657.2L1502 657.1L1504 657L1506 657L1508 656.9L1510 656.8L1512 656.7L1514 656.6L1516 656.5L1518 656.3L1520 656.2L1522 656L1524 655.9L1526 655.7L1528 655.5L1530 655.2L1532 655L1534 654.7L1536 654.4L1538 654.1L1540 653.7L1542 653.3L1544 652.9L1546 652.4L1548 651.9L1550 651.4L1552 650.7L1554 650.1L1556 649.4L1558 648.6L1560 647.7L1562 646.8L1564 645.9L1566 644.8L1568 643.7L1570 642.5L1572 641.2L1574 639.8L1576 638.3L1578 636.7L1580 635.1L1582 633.3L1584 631.4L1586 629.5L1588 627.4L1590 625.2L1592 622.9L1594 620.5L1596 618L1598 615.4L1600 612.7L1602 609.9L1604 607L1606 604L1608 600.9L1610 597.7L1612 594.5L1614 591.1L1616 587.8L1618 584.3L1620 580.8L1622 577.3L1624 573.8L1626 570.2L1628 566.7L1630 563.1L1632 559.6L1634 556.2L1636 552.7L1638 549.4L1640 546.1L1642 542.9L1644 539.9L1646 536.9L1648 534.1L1650 531.5L1652 529L1654 526.8L1656 524.7L1658 522.8L1660 521.2L1662 519.8L1664 518.6L1666 517.7L1668 517L1670 516.6L1672 516.5L1674 516.6L1676 517L1678 517.7L1680 518.6L1682 519.8L1684 521.2L1686 522.8L1688 524.7L1690 526.8L1692 529L1694 531.5L1696 534.1L1698 536.9L1700 539.9L1702 542.9L1704 546.1L1706 549.4L1708 552.7L1710 556.2L1712 559.6L1714 563.1L1716 566.7L1718 570.2L1720 573.8L1722 577.3L1724 580.8L1726 584.3L1728 587.8L1730 591.1L1732 594.5L1734 597.7L1736 600.9L1738 604L1740 607L1742 609.9L1744 612.7L1746 615.4L1748 618L1750 620.5L1752 622.9L1754 625.2L1756 627.4L1758 629.5L1760 631.4L1762 633.3L1764 635.1L1766 636.7L1768 638.3L1770 639.8L1772 641.2L1774 642.5L1776 643.7L1778 644.8L1780 645.9L1782 646.8L1784 647.7L1786 648.6L1788 649.4L1790 650.1L1792 650.7L1794 651.4L1796 651.9L1798 652.4L1800 652.9L1802 653.3L1804 653.7L1806 654.1L1808 654.4L1810 654.7L1812 655L1814 655.2L1816 655.5L1818 655.7L1820 655.9L1822 656L1824 656.2L1826 656.3L1828 656.5L1830 656.6L1832 656.7L1834 656.8L1836 656.9L1838 657L1840 657L1842 657.1L1844 657.2L1846 657.2L1848 657.3L1850 657.3L1852 657.4L1854 657.4L1856 657.5L1858 657.5L1860 657.6L1862 657.6L1864 657.6L1866 657.7L1868 657.7L1870 657.7L1872 657.7L1874 657.8L1876 657.8L1878 657.8L1880 657.8L1882 657.9L1884 657.9L1886 657.9L1888 657.9L1890 657.9L1892 658L1894 658L1896 658L1898 658L1898 659 L1480 659 Z" fill="#70c876"/>
<path d="M1480 657.6L1482 657.6L1484 657.6L1486 657.5L1488 657.5L1490 657.4L1492 657.4L1494 657.3L1496 657.3L1498 657.2L1500 657.2L1502 657.1L1504 657L1506 657L1508 656.9L1510 656.8L1512 656.7L1514 656.6L1516 656.5L1518 656.3L1520 656.2L1522 656L1524 655.9L1526 655.7L1528 655.5L1530 655.2L1532 655L1534 654.7L1536 654.4L1538 654.1L1540 653.7L1542 653.3L1544 652.9L1546 652.4L1548 651.9L1550 651.4L1552 650.7L1554 650.1L1556 649.4L1558 648.6L1560 647.7L1562 646.8L1564 645.9L1566 644.8L1568 643.7L1570 642.5L1572 641.2L1574 639.8L1576 638.3L1578 636.7L1580 635.1L1582 633.3L1584 631.4L1586 629.5L1588 627.4L1590 625.2L1592 622.9L1594 620.5L1596 618L1598 615.4L1600 612.7L1602 609.9L1604 607L1606 604L1608 600.9L1610 597.7L1612 594.5L1614 591.1L1616 587.8L1618 584.3L1620 580.8L1622 577.3L1624 573.8L1626 570.2L1628 566.7L1630 563.1L1632 559.6L1634 556.2L1636 552.7L1638 549.4L1640 546.1L1642 542.9L1644 539.9L1646 536.9L1648 534.1L1650 531.5L1652 529L1654 526.8L1656 524.7L1658 522.8L1660 521.2L1662 519.8L1664 518.6L1666 517.7L1668 517L1670 516.6L1672 516.5L1674 516.6L1676 517L1678 517.7L1680 518.6L1682 519.8L1684 521.2L1686 522.8L1688 524.7L1690 526.8L1692 529L1694 531.5L1696 534.1L1698 536.9L1700 539.9L1702 542.9L1704 546.1L1706 549.4L1708 552.7L1710 556.2L1712 559.6L1714 563.1L1716 566.7L1718 570.2L1720 573.8L1722 577.3L1724 580.8L1726 584.3L1728 587.8L1730 591.1L1732 594.5L1734 597.7L1736 600.9L1738 604L1740 607L1742 609.9L1744 612.7L1746 615.4L1748 618L1750 620.5L1752 622.9L1754 625.2L1756 627.4L1758 629.5L1760 631.4L1762 633.3L1764 635.1L1766 636.7L1768 638.3L1770 639.8L1772 641.2L1774 642.5L1776 643.7L1778 644.8L1780 645.9L1782 646.8L1784 647.7L1786 648.6L1788 649.4L1790 650.1L1792 650.7L1794 651.4L1796 651.9L1798 652.4L1800 652.9L1802 653.3L1804 653.7L1806 654.1L1808 654.4L1810 654.7L1812 655L1814 655.2L1816 655.5L1818 655.7L1820 655.9L1822 656L1824 656.2L1826 656.3L1828 656.5L1830 656.6L1832 656.7L1834 656.8L1836 656.9L1838 657L1840 657L1842 657.1L1844 657.2L1846 657.2L1848 657.3L1850 657.3L1852 657.4L1854 657.4L1856 657.5L1858 657.5L1860 657.6L1862 657.6L1864 657.6L1866 657.7L1868 657.7L1870 657.7L1872 657.7L1874 657.8L1876 657.8L1878 657.8L1880 657.8L1882 657.9L1884 657.9L1886 657.9L1888 657.9L1890 657.9L1892 658L1894 658L1896 658L1898 658" fill="none" stroke="#85e596" stroke-width="2.5"/>
</g>
<g id="top_frame">
<g stroke="#000" fill="none">
<rect x="292.0" y="77.0" width="1673.0" height="595.0" stroke-width="4"/>
<line x1="847.0" y1="77.0" x2="847.0" y2="672.0" stroke-width="4.5"/>
<line x1="1416.5" y1="77.0" x2="1416.5" y2="672.0" stroke-width="4.5"/>
</g>
<g stroke="#000" stroke-width="3.6">
<line x1="317.3" y1="77" x2="317.3" y2="88"/>
<line x1="317.3" y1="672" x2="317.3" y2="661"/>
<line x1="342.5" y1="77" x2="342.5" y2="97"/>
<line x1="342.5" y1="672" x2="342.5" y2="652"/>
<line x1="367.7" y1="77" x2="367.7" y2="88"/>
<line x1="367.7" y1="672" x2="367.7" y2="661"/>
<line x1="393" y1="77" x2="393" y2="93"/>
<line x1="393" y1="672" x2="393" y2="656"/>
<line x1="418.2" y1="77" x2="418.2" y2="88"/>
<line x1="418.2" y1="672" x2="418.2" y2="661"/>
<line x1="443.4" y1="77" x2="443.4" y2="97"/>
<line x1="443.4" y1="672" x2="443.4" y2="652"/>
<line x1="468.6" y1="77" x2="468.6" y2="88"/>
<line x1="468.6" y1="672" x2="468.6" y2="661"/>
<line x1="493.9" y1="77" x2="493.9" y2="93"/>
<line x1="493.9" y1="672" x2="493.9" y2="656"/>
<line x1="519.1" y1="77" x2="519.1" y2="88"/>
<line x1="519.1" y1="672" x2="519.1" y2="661"/>
<line x1="544.3" y1="77" x2="544.3" y2="97"/>
<line x1="544.3" y1="672" x2="544.3" y2="652"/>
<line x1="569.5" y1="77" x2="569.5" y2="88"/>
<line x1="569.5" y1="672" x2="569.5" y2="661"/>
<line x1="594.8" y1="77" x2="594.8" y2="93"/>
<line x1="594.8" y1="672" x2="594.8" y2="656"/>
<line x1="620" y1="77" x2="620" y2="88"/>
<line x1="620" y1="672" x2="620" y2="661"/>
<line x1="645.2" y1="77" x2="645.2" y2="97"/>
<line x1="645.2" y1="672" x2="645.2" y2="652"/>
<line x1="670.4" y1="77" x2="670.4" y2="88"/>
<line x1="670.4" y1="672" x2="670.4" y2="661"/>
<line x1="695.7" y1="77" x2="695.7" y2="93"/>
<line x1="695.7" y1="672" x2="695.7" y2="656"/>
<line x1="720.9" y1="77" x2="720.9" y2="88"/>
<line x1="720.9" y1="672" x2="720.9" y2="661"/>
<line x1="746.1" y1="77" x2="746.1" y2="97"/>
<line x1="746.1" y1="672" x2="746.1" y2="652"/>
<line x1="771.3" y1="77" x2="771.3" y2="88"/>
<line x1="771.3" y1="672" x2="771.3" y2="661"/>
<line x1="796.5" y1="77" x2="796.5" y2="93"/>
<line x1="796.5" y1="672" x2="796.5" y2="656"/>
<line x1="821.8" y1="77" x2="821.8" y2="88"/>
<line x1="821.8" y1="672" x2="821.8" y2="661"/>
</g>
<g stroke="#000" stroke-width="3.6">
<line x1="868.7" y1="77" x2="868.7" y2="88"/>
<line x1="868.7" y1="672" x2="868.7" y2="661"/>
<line x1="890.6" y1="77" x2="890.6" y2="93"/>
<line x1="890.6" y1="672" x2="890.6" y2="656"/>
<line x1="912.6" y1="77" x2="912.6" y2="88"/>
<line x1="912.6" y1="672" x2="912.6" y2="661"/>
<line x1="934.5" y1="77" x2="934.5" y2="97"/>
<line x1="934.5" y1="672" x2="934.5" y2="652"/>
<line x1="956.4" y1="77" x2="956.4" y2="88"/>
<line x1="956.4" y1="672" x2="956.4" y2="661"/>
<line x1="978.3" y1="77" x2="978.3" y2="93"/>
<line x1="978.3" y1="672" x2="978.3" y2="656"/>
<line x1="1000.3" y1="77" x2="1000.3" y2="88"/>
<line x1="1000.3" y1="672" x2="1000.3" y2="661"/>
<line x1="1022.2" y1="77" x2="1022.2" y2="97"/>
<line x1="1022.2" y1="672" x2="1022.2" y2="652"/>
<line x1="1044.1" y1="77" x2="1044.1" y2="88"/>
<line x1="1044.1" y1="672" x2="1044.1" y2="661"/>
<line x1="1066" y1="77" x2="1066" y2="93"/>
<line x1="1066" y1="672" x2="1066" y2="656"/>
<line x1="1088" y1="77" x2="1088" y2="88"/>
<line x1="1088" y1="672" x2="1088" y2="661"/>
<line x1="1109.9" y1="77" x2="1109.9" y2="97"/>
<line x1="1109.9" y1="672" x2="1109.9" y2="652"/>
<line x1="1131.8" y1="77" x2="1131.8" y2="88"/>
<line x1="1131.8" y1="672" x2="1131.8" y2="661"/>
<line x1="1153.8" y1="77" x2="1153.8" y2="93"/>
<line x1="1153.8" y1="672" x2="1153.8" y2="656"/>
<line x1="1175.7" y1="77" x2="1175.7" y2="88"/>
<line x1="1175.7" y1="672" x2="1175.7" y2="661"/>
<line x1="1197.6" y1="77" x2="1197.6" y2="97"/>
<line x1="1197.6" y1="672" x2="1197.6" y2="652"/>
<line x1="1219.5" y1="77" x2="1219.5" y2="88"/>
<line x1="1219.5" y1="672" x2="1219.5" y2="661"/>
<line x1="1241.5" y1="77" x2="1241.5" y2="93"/>
<line x1="1241.5" y1="672" x2="1241.5" y2="656"/>
<line x1="1263.4" y1="77" x2="1263.4" y2="88"/>
<line x1="1263.4" y1="672" x2="1263.4" y2="661"/>
<line x1="1285.3" y1="77" x2="1285.3" y2="97"/>
<line x1="1285.3" y1="672" x2="1285.3" y2="652"/>
<line x1="1307.2" y1="77" x2="1307.2" y2="88"/>
<line x1="1307.2" y1="672" x2="1307.2" y2="661"/>
<line x1="1329.2" y1="77" x2="1329.2" y2="93"/>
<line x1="1329.2" y1="672" x2="1329.2" y2="656"/>
<line x1="1351.1" y1="77" x2="1351.1" y2="88"/>
<line x1="1351.1" y1="672" x2="1351.1" y2="661"/>
<line x1="1373" y1="77" x2="1373" y2="97"/>
<line x1="1373" y1="672" x2="1373" y2="652"/>
<line x1="1394.9" y1="77" x2="1394.9" y2="88"/>
<line x1="1394.9" y1="672" x2="1394.9" y2="661"/>
</g>
<g stroke="#000" stroke-width="3.6">
<line x1="1443.9" y1="77" x2="1443.9" y2="88"/>
<line x1="1443.9" y1="672" x2="1443.9" y2="661"/>
<line x1="1471.3" y1="77" x2="1471.3" y2="93"/>
<line x1="1471.3" y1="672" x2="1471.3" y2="656"/>
<line x1="1498.8" y1="77" x2="1498.8" y2="88"/>
<line x1="1498.8" y1="672" x2="1498.8" y2="661"/>
<line x1="1526.2" y1="77" x2="1526.2" y2="97"/>
<line x1="1526.2" y1="672" x2="1526.2" y2="652"/>
<line x1="1553.6" y1="77" x2="1553.6" y2="88"/>
<line x1="1553.6" y1="672" x2="1553.6" y2="661"/>
<line x1="1581" y1="77" x2="1581" y2="93"/>
<line x1="1581" y1="672" x2="1581" y2="656"/>
<line x1="1608.5" y1="77" x2="1608.5" y2="88"/>
<line x1="1608.5" y1="672" x2="1608.5" y2="661"/>
<line x1="1635.9" y1="77" x2="1635.9" y2="97"/>
<line x1="1635.9" y1="672" x2="1635.9" y2="652"/>
<line x1="1663.3" y1="77" x2="1663.3" y2="88"/>
<line x1="1663.3" y1="672" x2="1663.3" y2="661"/>
<line x1="1690.8" y1="77" x2="1690.8" y2="93"/>
<line x1="1690.8" y1="672" x2="1690.8" y2="656"/>
<line x1="1718.2" y1="77" x2="1718.2" y2="88"/>
<line x1="1718.2" y1="672" x2="1718.2" y2="661"/>
<line x1="1745.6" y1="77" x2="1745.6" y2="97"/>
<line x1="1745.6" y1="672" x2="1745.6" y2="652"/>
<line x1="1773" y1="77" x2="1773" y2="88"/>
<line x1="1773" y1="672" x2="1773" y2="661"/>
<line x1="1800.5" y1="77" x2="1800.5" y2="93"/>
<line x1="1800.5" y1="672" x2="1800.5" y2="656"/>
<line x1="1827.9" y1="77" x2="1827.9" y2="88"/>
<line x1="1827.9" y1="672" x2="1827.9" y2="661"/>
<line x1="1855.3" y1="77" x2="1855.3" y2="97"/>
<line x1="1855.3" y1="672" x2="1855.3" y2="652"/>
<line x1="1882.7" y1="77" x2="1882.7" y2="88"/>
<line x1="1882.7" y1="672" x2="1882.7" y2="661"/>
<line x1="1910.2" y1="77" x2="1910.2" y2="93"/>
<line x1="1910.2" y1="672" x2="1910.2" y2="656"/>
<line x1="1937.6" y1="77" x2="1937.6" y2="88"/>
<line x1="1937.6" y1="672" x2="1937.6" y2="661"/>
</g>
<text x="340.5" y="719.5" font-family="'Liberation Sans',sans-serif" font-size="48" font-weight="normal" fill="#000" text-anchor="middle" textLength="70.2" lengthAdjust="spacingAndGlyphs">196</text>
<text x="441.4" y="719.5" font-family="'Liberation Sans',sans-serif" font-size="48" font-weight="normal" fill="#000" text-anchor="middle" textLength="70.2" lengthAdjust="spacingAndGlyphs">194</text>
<text x="542.3" y="719.5" font-family="'Liberation Sans',sans-serif" font-size="48" font-weight="normal" fill="#000" text-anchor="middle" textLength="70.2" lengthAdjust="spacingAndGlyphs">192</text>
<text x="643.2" y="719.5" font-family="'Liberation Sans',sans-serif" font-size="48" font-weight="normal" fill="#000" text-anchor="middle" textLength="70.2" lengthAdjust="spacingAndGlyphs">190</text>
<text x="744.1" y="719.5" font-family="'Liberation Sans',sans-serif" font-size="48" font-weight="normal" fill="#000" text-anchor="middle" textLength="70.2" lengthAdjust="spacingAndGlyphs">188</text>
<text x="844.8" y="719.5" font-family="'Liberation Sans',sans-serif" font-size="48" font-weight="normal" fill="#000" text-anchor="middle" textLength="70.2" lengthAdjust="spacingAndGlyphs">292</text>
<text x="932.5" y="719.5" font-family="'Liberation Sans',sans-serif" font-size="48" font-weight="normal" fill="#000" text-anchor="middle" textLength="70.2" lengthAdjust="spacingAndGlyphs">290</text>
<text x="1020.2" y="719.5" font-family="'Liberation Sans',sans-serif" font-size="48" font-weight="normal" fill="#000" text-anchor="middle" textLength="70.2" lengthAdjust="spacingAndGlyphs">288</text>
<text x="1107.9" y="719.5" font-family="'Liberation Sans',sans-serif" font-size="48" font-weight="normal" fill="#000" text-anchor="middle" textLength="70.2" lengthAdjust="spacingAndGlyphs">286</text>
<text x="1195.6" y="719.5" font-family="'Liberation Sans',sans-serif" font-size="48" font-weight="normal" fill="#000" text-anchor="middle" textLength="70.2" lengthAdjust="spacingAndGlyphs">284</text>
<text x="1283.3" y="719.5" font-family="'Liberation Sans',sans-serif" font-size="48" font-weight="normal" fill="#000" text-anchor="middle" textLength="70.2" lengthAdjust="spacingAndGlyphs">282</text>
<text x="1414.5" y="719.5" font-family="'Liberation Sans',sans-serif" font-size="48" font-weight="normal" fill="#000" text-anchor="middle" textLength="70.2" lengthAdjust="spacingAndGlyphs">404</text>
<text x="1524.2" y="719.5" font-family="'Liberation Sans',sans-serif" font-size="48" font-weight="normal" fill="#000" text-anchor="middle" textLength="70.2" lengthAdjust="spacingAndGlyphs">402</text>
<text x="1633.9" y="719.5" font-family="'Liberation Sans',sans-serif" font-size="48" font-weight="normal" fill="#000" text-anchor="middle" textLength="70.2" lengthAdjust="spacingAndGlyphs">400</text>
<text x="1743.6" y="719.5" font-family="'Liberation Sans',sans-serif" font-size="48" font-weight="normal" fill="#000" text-anchor="middle" textLength="70.2" lengthAdjust="spacingAndGlyphs">398</text>
<text x="1853.3" y="719.5" font-family="'Liberation Sans',sans-serif" font-size="48" font-weight="normal" fill="#000" text-anchor="middle" textLength="70.2" lengthAdjust="spacingAndGlyphs">396</text>
<text x="895.2" y="788" font-family="'Liberation Sans',sans-serif" font-size="55" font-weight="normal" fill="#000" text-anchor="start" textLength="473.5" lengthAdjust="spacingAndGlyphs">Binding Energy (eV)</text>
<text x="251" y="584.6" font-family="'Liberation Sans',sans-serif" font-size="56.5" font-weight="normal" fill="#000" text-anchor="start" textLength="412.5" lengthAdjust="spacingAndGlyphs" transform="rotate(-90 251 584.6)">Intensity (arb.un.)</text>
<text x="718.5" y="146" font-family="'Liberation Sans',sans-serif" font-size="66" font-weight="normal" fill="#000" text-anchor="start" textLength="109" lengthAdjust="spacingAndGlyphs">B1s</text>
<text x="1282.5" y="146" font-family="'Liberation Sans',sans-serif" font-size="66" font-weight="normal" fill="#000" text-anchor="start" textLength="115" lengthAdjust="spacingAndGlyphs">C1s</text>
<text x="1828" y="146" font-family="'Liberation Sans',sans-serif" font-size="66" font-weight="normal" fill="#000" text-anchor="start" textLength="115" lengthAdjust="spacingAndGlyphs">N1s</text>
<rect x="290" y="0" width="66.5" height="75" fill="#000"/>
<text x="322.5" y="59.8" font-family="'Liberation Serif',serif" font-size="60" font-weight="bold" fill="#fff" text-anchor="middle">a</text>
<rect x="838" y="2.2" width="66.3" height="73" fill="#000"/>
<text x="871" y="62.8" font-family="'Liberation Serif',serif" font-size="60" font-weight="bold" fill="#fff" text-anchor="middle">b</text>
<rect x="1419" y="0" width="67" height="75" fill="#000"/>
<text x="1453.6" y="59.8" font-family="'Liberation Serif',serif" font-size="60" font-weight="bold" fill="#fff" text-anchor="middle">c</text>
</g>
<g id="top_mol">
<defs>
<radialGradient id="gr_r" cx="0.4" cy="0.35" r="0.7"><stop offset="0" stop-color="#ff6a72"/><stop offset="1" stop-color="#f4404c"/></radialGradient>
<radialGradient id="gr_g" cx="0.4" cy="0.35" r="0.7"><stop offset="0" stop-color="#7cff2a"/><stop offset="1" stop-color="#44dc00"/></radialGradient>
<radialGradient id="gr_b" cx="0.4" cy="0.35" r="0.7"><stop offset="0" stop-color="#2fb4e4"/><stop offset="1" stop-color="#0a8fc4"/></radialGradient>
<radialGradient id="gr_k" cx="0.4" cy="0.35" r="0.7"><stop offset="0" stop-color="#000"/><stop offset="1" stop-color="#000"/></radialGradient>
</defs>
<clipPath id="molA"><rect x="312.5" y="100" width="173" height="159"/></clipPath>
<g clip-path="url(#molA)">
<line x1="336.6" y1="138.9" x2="285.4" y2="168.5" stroke="#000" stroke-width="5.0"/>
<line x1="336.6" y1="138.9" x2="387.9" y2="168.5" stroke="#000" stroke-width="5.0"/>
<line x1="336.6" y1="138.9" x2="336.6" y2="108.9" stroke="#000" stroke-width="5.0"/>
<line x1="439.2" y1="138.9" x2="439.2" y2="108.9" stroke="#000" stroke-width="5.0"/>
<line x1="439.2" y1="138.9" x2="490.4" y2="168.5" stroke="#000" stroke-width="5.0"/>
<line x1="490.4" y1="227.7" x2="439.2" y2="257.3" stroke="#000" stroke-width="5.0"/>
<line x1="336.6" y1="257.3" x2="285.4" y2="227.7" stroke="#000" stroke-width="5.0"/>
<line x1="387.9" y1="227.7" x2="336.6" y2="257.3" stroke="#000" stroke-width="5.0"/>
<line x1="387.9" y1="227.7" x2="439.2" y2="257.3" stroke="#000" stroke-width="5.0"/>
<line x1="387.9" y1="168.5" x2="439.2" y2="138.9" stroke="#55ee00" stroke-width="5.0"/>
<line x1="387.9" y1="168.5" x2="387.9" y2="227.7" stroke="#0f9bd0" stroke-width="5.0"/>
<circle cx="336.6" cy="138.9" r="14.2" fill="url(#gr_k)"/>
<circle cx="490.4" cy="168.5" r="14.2" fill="url(#gr_k)"/>
<circle cx="490.4" cy="227.7" r="14.2" fill="url(#gr_k)"/>
<circle cx="336.6" cy="257.3" r="14.2" fill="url(#gr_k)"/>
<circle cx="439.2" cy="257.3" r="14.2" fill="url(#gr_k)"/>
<circle cx="387.9" cy="168.5" r="14.2" fill="url(#gr_r)"/>
<circle cx="439.2" cy="138.9" r="14.2" fill="url(#gr_g)"/>
<circle cx="387.9" cy="227.7" r="14.2" fill="url(#gr_b)"/>
</g>
<text x="386.5" y="146.2" font-family="'Liberation Sans',sans-serif" font-size="53.5" font-weight="normal" fill="#000" text-anchor="middle">B</text>
<text x="467.5" y="128.3" font-family="'Liberation Sans',sans-serif" font-size="43.5" font-weight="normal" fill="#000" text-anchor="middle">C</text>
<text x="387.2" y="278" font-family="'Liberation Sans',sans-serif" font-size="43.5" font-weight="normal" fill="#000" text-anchor="middle">N</text>
<clipPath id="molB"><rect x="853" y="100" width="269.5" height="158"/></clipPath>
<g clip-path="url(#molB)">
<line x1="934.9" y1="137.5" x2="934.9" y2="107.5" stroke="#000" stroke-width="5.0"/>
<line x1="1037.5" y1="137.5" x2="1037.5" y2="107.5" stroke="#000" stroke-width="5.0"/>
<line x1="883.7" y1="167.1" x2="934.9" y2="137.5" stroke="#000" stroke-width="5.0"/>
<line x1="883.7" y1="167.1" x2="883.7" y2="226.3" stroke="#000" stroke-width="5.0"/>
<line x1="883.7" y1="167.1" x2="832.4" y2="137.5" stroke="#000" stroke-width="5.0"/>
<line x1="883.7" y1="226.3" x2="832.4" y2="255.9" stroke="#000" stroke-width="5.0"/>
<line x1="883.7" y1="226.3" x2="934.9" y2="255.9" stroke="#000" stroke-width="5.0"/>
<line x1="934.9" y1="255.9" x2="986.2" y2="226.3" stroke="#000" stroke-width="5.0"/>
<line x1="986.2" y1="226.3" x2="1037.5" y2="255.9" stroke="#000" stroke-width="5.0"/>
<line x1="1037.5" y1="255.9" x2="1088.7" y2="226.3" stroke="#000" stroke-width="5.0"/>
<line x1="1088.7" y1="226.3" x2="1088.7" y2="167.1" stroke="#000" stroke-width="5.0"/>
<line x1="1088.7" y1="167.1" x2="1037.5" y2="137.5" stroke="#000" stroke-width="5.0"/>
<line x1="1088.7" y1="167.1" x2="1140" y2="137.5" stroke="#000" stroke-width="5.0"/>
<line x1="1088.7" y1="226.3" x2="1140" y2="255.9" stroke="#000" stroke-width="5.0"/>
<line x1="934.9" y1="137.5" x2="986.2" y2="167.1" stroke="#55ee00" stroke-width="5.0"/>
<line x1="986.2" y1="167.1" x2="1037.5" y2="137.5" stroke="#0f9bd0" stroke-width="5.0"/>
<line x1="986.2" y1="167.1" x2="986.2" y2="226.3" stroke="#ff4a55" stroke-width="5.0"/>
<circle cx="883.7" cy="167.1" r="14.2" fill="url(#gr_k)"/>
<circle cx="883.7" cy="226.3" r="14.2" fill="url(#gr_k)"/>
<circle cx="1088.7" cy="167.1" r="14.2" fill="url(#gr_k)"/>
<circle cx="1088.7" cy="226.3" r="14.2" fill="url(#gr_k)"/>
<circle cx="934.9" cy="255.9" r="14.2" fill="url(#gr_k)"/>
<circle cx="1037.5" cy="255.9" r="14.2" fill="url(#gr_k)"/>
<circle cx="934.9" cy="137.5" r="14.2" fill="url(#gr_g)"/>
<circle cx="986.2" cy="167.1" r="14.2" fill="url(#gr_g)"/>
<circle cx="1037.5" cy="137.5" r="14.2" fill="url(#gr_b)"/>
<circle cx="986.2" cy="226.3" r="14.2" fill="url(#gr_r)"/>
</g>
<text x="908.5" y="127" font-family="'Liberation Sans',sans-serif" font-size="43.5" font-weight="normal" fill="#000" text-anchor="middle">C</text>
<text x="985" y="146.6" font-family="'Liberation Sans',sans-serif" font-size="53.5" font-weight="normal" fill="#000" text-anchor="middle">C</text>
<text x="1064.8" y="127" font-family="'Liberation Sans',sans-serif" font-size="43.5" font-weight="normal" fill="#000" text-anchor="middle">N</text>
<text x="986.4" y="278.8" font-family="'Liberation Sans',sans-serif" font-size="41" font-weight="normal" fill="#000" text-anchor="middle">B</text>
<clipPath id="molC"><rect x="1427" y="100" width="221" height="159"/></clipPath>
<g clip-path="url(#molC)">
<line x1="1461.4" y1="138.9" x2="1461.4" y2="108.9" stroke="#000" stroke-width="5.0"/>
<line x1="1564" y1="138.9" x2="1564" y2="108.9" stroke="#000" stroke-width="5.0"/>
<line x1="1461.4" y1="138.9" x2="1410.2" y2="168.5" stroke="#000" stroke-width="5.0"/>
<line x1="1461.4" y1="138.9" x2="1512.7" y2="168.5" stroke="#000" stroke-width="5.0"/>
<line x1="1564" y1="138.9" x2="1615.2" y2="168.5" stroke="#000" stroke-width="5.0"/>
<line x1="1615.2" y1="168.5" x2="1615.2" y2="227.7" stroke="#000" stroke-width="5.0"/>
<line x1="1615.2" y1="227.7" x2="1564" y2="257.3" stroke="#000" stroke-width="5.0"/>
<line x1="1564" y1="257.3" x2="1512.7" y2="227.7" stroke="#000" stroke-width="5.0"/>
<line x1="1512.7" y1="227.7" x2="1461.4" y2="257.3" stroke="#000" stroke-width="5.0"/>
<line x1="1461.4" y1="257.3" x2="1410.2" y2="227.7" stroke="#000" stroke-width="5.0"/>
<line x1="1615.2" y1="168.5" x2="1666.5" y2="138.9" stroke="#000" stroke-width="5.0"/>
<line x1="1615.2" y1="227.7" x2="1666.5" y2="257.3" stroke="#000" stroke-width="5.0"/>
<line x1="1512.7" y1="168.5" x2="1564" y2="138.9" stroke="#55ee00" stroke-width="5.0"/>
<line x1="1512.7" y1="168.5" x2="1512.7" y2="227.7" stroke="#ff4a55" stroke-width="5.0"/>
<circle cx="1461.4" cy="138.9" r="14.2" fill="url(#gr_k)"/>
<circle cx="1615.2" cy="168.5" r="14.2" fill="url(#gr_k)"/>
<circle cx="1615.2" cy="227.7" r="14.2" fill="url(#gr_k)"/>
<circle cx="1461.4" cy="257.3" r="14.2" fill="url(#gr_k)"/>
<circle cx="1564" cy="257.3" r="14.2" fill="url(#gr_k)"/>
<circle cx="1512.7" cy="168.5" r="14.2" fill="url(#gr_b)"/>
<circle cx="1564" cy="138.9" r="14.2" fill="url(#gr_g)"/>
<circle cx="1512.7" cy="227.7" r="14.2" fill="url(#gr_r)"/>
</g>
<text x="1510.5" y="146.2" font-family="'Liberation Sans',sans-serif" font-size="53.5" font-weight="normal" fill="#000" text-anchor="middle">N</text>
<text x="1593.5" y="128.3" font-family="'Liberation Sans',sans-serif" font-size="43.5" font-weight="normal" fill="#000" text-anchor="middle">C</text>
<text x="1511" y="278" font-family="'Liberation Sans',sans-serif" font-size="41.5" font-weight="normal" fill="#000" text-anchor="middle">B</text>
</g>
<g id="top_dots">
<g fill="#c8262d" stroke="#8a1a20" stroke-width="1.3">
<circle cx="296.8" cy="650.6" r="7.4"/>
<circle cx="306.2" cy="633" r="7.4"/>
<circle cx="302.2" cy="638.4" r="7.4"/>
<circle cx="315.7" cy="638.4" r="7.4"/>
<circle cx="325.2" cy="643.9" r="7.4"/>
<circle cx="321.1" cy="646.6" r="7.4"/>
<circle cx="331.9" cy="666.9" r="7.4"/>
<circle cx="340.1" cy="661.4" r="7.4"/>
<circle cx="346.8" cy="641.1" r="7.4"/>
<circle cx="350.9" cy="652" r="7.4"/>
<circle cx="357.6" cy="656" r="7.4"/>
<circle cx="364.4" cy="661.4" r="7.4"/>
<circle cx="371.2" cy="668.2" r="7.4"/>
<circle cx="382" cy="649.3" r="7.4"/>
<circle cx="376.6" cy="614.1" r="7.4"/>
<circle cx="387.4" cy="630.3" r="7.4"/>
<circle cx="392.8" cy="614.1" r="7.4"/>
<circle cx="396.9" cy="608.7" r="7.4"/>
<circle cx="401.5" cy="600.6" r="7.4"/>
<circle cx="407.7" cy="616.8" r="7.4"/>
<circle cx="411.8" cy="615.4" r="7.4"/>
<circle cx="417.2" cy="554.6" r="7.4"/>
<circle cx="425.3" cy="560" r="7.4"/>
<circle cx="422" cy="576.2" r="7.4"/>
<circle cx="432" cy="551.9" r="7.4"/>
<circle cx="438.3" cy="543.7" r="7.4"/>
<circle cx="442.9" cy="524.8" r="7.4"/>
<circle cx="446.9" cy="505.9" r="7.4"/>
<circle cx="452.3" cy="495" r="7.4"/>
<circle cx="457.7" cy="462.6" r="7.4"/>
<circle cx="460.5" cy="426" r="7.4"/>
<circle cx="468.6" cy="420.6" r="7.4"/>
<circle cx="471.3" cy="380.1" r="7.4"/>
<circle cx="479.4" cy="388.2" r="7.4"/>
<circle cx="483.5" cy="359.8" r="7.4"/>
<circle cx="625.5" cy="332.7" r="7.4"/>
<circle cx="628.2" cy="393.6" r="7.4"/>
<circle cx="635" cy="400.3" r="7.4"/>
<circle cx="639" cy="430.1" r="7.4"/>
<circle cx="644.4" cy="466.6" r="7.4"/>
<circle cx="649.8" cy="493.7" r="7.4"/>
<circle cx="653.9" cy="505.9" r="7.4"/>
<circle cx="658" cy="534.3" r="7.4"/>
<circle cx="666.1" cy="537" r="7.4"/>
<circle cx="668.8" cy="576.2" r="7.4"/>
<circle cx="675.6" cy="566.7" r="7.4"/>
<circle cx="689.1" cy="574.9" r="7.4"/>
<circle cx="679.6" cy="597.9" r="7.4"/>
<circle cx="695.8" cy="593.8" r="7.4"/>
<circle cx="705.3" cy="597.9" r="7.4"/>
<circle cx="694.5" cy="629" r="7.4"/>
<circle cx="712.1" cy="614.1" r="7.4"/>
<circle cx="718.8" cy="611.4" r="7.4"/>
<circle cx="735.1" cy="604.6" r="7.4"/>
<circle cx="714.8" cy="627.6" r="7.4"/>
<circle cx="728.3" cy="616.8" r="7.4"/>
<circle cx="739.1" cy="627.6" r="7.4"/>
<circle cx="724.3" cy="650.6" r="7.4"/>
<circle cx="744.5" cy="650.6" r="7.4"/>
<circle cx="750" cy="633" r="7.4"/>
<circle cx="760.8" cy="624.9" r="7.4"/>
<circle cx="755.4" cy="641.1" r="7.4"/>
<circle cx="766.2" cy="643.9" r="7.4"/>
<circle cx="777" cy="638.4" r="7.4"/>
<circle cx="770.2" cy="665.5" r="7.4"/>
<circle cx="775.7" cy="656" r="7.4"/>
<circle cx="785.1" cy="649.3" r="7.4"/>
<circle cx="790.5" cy="630.3" r="7.4"/>
<circle cx="796" cy="601.9" r="7.4"/>
<circle cx="798.7" cy="647.9" r="7.4"/>
<circle cx="805.4" cy="627.6" r="7.4"/>
<circle cx="810.8" cy="650.6" r="7.4"/>
<circle cx="817.6" cy="638.4" r="7.4"/>
<circle cx="827.1" cy="638.4" r="7.4"/>
<circle cx="835.2" cy="626.3" r="7.4"/>
<circle cx="831.1" cy="672.3" r="7.4"/>
<circle cx="841.9" cy="658.7" r="7.4"/>
<circle cx="847.4" cy="654.7" r="7.4"/>
<circle cx="310.3" cy="641.1" r="7.4"/>
<circle cx="333.3" cy="635.7" r="7.4"/>
<circle cx="344.1" cy="658.7" r="7.4"/>
<circle cx="354.9" cy="665.5" r="7.4"/>
<circle cx="361.7" cy="649.3" r="7.4"/>
<circle cx="755.4" cy="664.1" r="7.4"/>
<circle cx="782.4" cy="633" r="7.4"/>
<circle cx="820.3" cy="652" r="7.4"/>
<circle cx="804.1" cy="641.1" r="7.4"/>
<circle cx="558.5" cy="76.7" r="7.4"/>
<circle cx="578.6" cy="81.2" r="7.4"/>
<circle cx="547.3" cy="93.5" r="7.4"/>
<circle cx="567.4" cy="96.8" r="7.4"/>
<circle cx="584.2" cy="101.3" r="7.4"/>
<circle cx="589.7" cy="115.8" r="7.4"/>
<circle cx="594.2" cy="147.1" r="7.4"/>
<circle cx="538.4" cy="139.2" r="7.4"/>
<circle cx="531.7" cy="151.5" r="7.4"/>
<circle cx="544" cy="154.9" r="7.4"/>
<circle cx="522.8" cy="176.1" r="7.4"/>
<circle cx="598.7" cy="176.1" r="7.4"/>
<circle cx="529" cy="201.7" r="7.4"/>
<circle cx="517.2" cy="207.3" r="7.4"/>
<circle cx="604.2" cy="206.2" r="7.4"/>
<circle cx="511.6" cy="220.7" r="7.4"/>
<circle cx="507.1" cy="234.1" r="7.4"/>
<circle cx="608.7" cy="230.8" r="7.4"/>
<circle cx="615.4" cy="245.3" r="7.4"/>
<circle cx="497.1" cy="264.2" r="7.4"/>
<circle cx="503.8" cy="275.4" r="7.4"/>
<circle cx="619.9" cy="301.1" r="7.4"/>
<circle cx="487.1" cy="311.1" r="7.4"/>
<circle cx="494.9" cy="308.9" r="7.4"/>
<circle cx="624.3" cy="332.3" r="7.4"/>
<circle cx="481.5" cy="356.9" r="7.4"/>
</g>
<g fill="#62c878" stroke="#3c9650" stroke-width="1.3">
<circle cx="873.1" cy="609.4" r="7.6"/>
<circle cx="856.8" cy="636" r="7.6"/>
<circle cx="863.8" cy="638.8" r="7.6"/>
<circle cx="886.2" cy="631.8" r="7.6"/>
<circle cx="893.2" cy="633.2" r="7.6"/>
<circle cx="915.7" cy="623.4" r="7.6"/>
<circle cx="924.1" cy="623.4" r="7.6"/>
<circle cx="907.2" cy="637.4" r="7.6"/>
<circle cx="903" cy="650" r="7.6"/>
<circle cx="876.4" cy="655.6" r="7.6"/>
<circle cx="866.6" cy="664" r="7.6"/>
<circle cx="880.6" cy="664" r="7.6"/>
<circle cx="855.4" cy="652.8" r="7.6"/>
<circle cx="929.7" cy="648.6" r="7.6"/>
<circle cx="940.9" cy="640.2" r="7.6"/>
<circle cx="947.9" cy="624.8" r="7.6"/>
<circle cx="954.9" cy="622" r="7.6"/>
<circle cx="963.3" cy="652.8" r="7.6"/>
<circle cx="959.1" cy="658.4" r="7.6"/>
<circle cx="968.9" cy="605.2" r="7.6"/>
<circle cx="977.3" cy="629" r="7.6"/>
<circle cx="989.9" cy="636" r="7.6"/>
<circle cx="981.5" cy="585.6" r="7.6"/>
<circle cx="985.7" cy="592.6" r="7.6"/>
<circle cx="992.7" cy="601" r="7.6"/>
<circle cx="1003.9" cy="612.2" r="7.6"/>
<circle cx="1008.1" cy="592.6" r="7.6"/>
<circle cx="1016.5" cy="623.4" r="7.6"/>
<circle cx="1024.9" cy="608" r="7.6"/>
<circle cx="1019.3" cy="585.6" r="7.6"/>
<circle cx="1031.9" cy="567.3" r="7.6"/>
<circle cx="1043.1" cy="561.7" r="7.6"/>
<circle cx="1047.3" cy="570.1" r="7.6"/>
<circle cx="1036.1" cy="574.3" r="7.6"/>
<circle cx="1052.1" cy="594" r="7.6"/>
<circle cx="1055.7" cy="550.5" r="7.6"/>
<circle cx="1064.2" cy="539.3" r="7.6"/>
<circle cx="1061.4" cy="558.9" r="7.6"/>
<circle cx="1067" cy="528.1" r="7.6"/>
<circle cx="1072.6" cy="521.1" r="7.6"/>
<circle cx="1076.8" cy="504.3" r="7.6"/>
<circle cx="1086.6" cy="502.9" r="7.6"/>
<circle cx="1081.5" cy="487.5" r="7.6"/>
<circle cx="1089.4" cy="453.9" r="7.6"/>
<circle cx="1093.6" cy="441.3" r="7.6"/>
<circle cx="1099.2" cy="434.3" r="7.6"/>
<circle cx="1109.5" cy="428.1" r="7.6"/>
<circle cx="1103.9" cy="403.4" r="7.6"/>
<circle cx="1197.2" cy="369.8" r="7.6"/>
<circle cx="1201.4" cy="418.8" r="7.6"/>
<circle cx="1209.9" cy="444.1" r="7.6"/>
<circle cx="1222.5" cy="463.7" r="7.6"/>
<circle cx="1212.7" cy="467.9" r="7.6"/>
<circle cx="1218.3" cy="480.5" r="7.6"/>
<circle cx="1240.1" cy="519.7" r="7.6"/>
<circle cx="1236.5" cy="528.1" r="7.6"/>
<circle cx="1226.7" cy="575.7" r="7.6"/>
<circle cx="1244.9" cy="565.9" r="7.6"/>
<circle cx="1250.5" cy="579.9" r="7.6"/>
<circle cx="1247.7" cy="584.2" r="7.6"/>
<circle cx="1257.5" cy="636" r="7.6"/>
<circle cx="1265.9" cy="620.6" r="7.6"/>
<circle cx="1271.5" cy="603.8" r="7.6"/>
<circle cx="1275.7" cy="652.8" r="7.6"/>
<circle cx="1279.9" cy="630.4" r="7.6"/>
<circle cx="1288.3" cy="623.4" r="7.6"/>
<circle cx="1292.5" cy="662.6" r="7.6"/>
<circle cx="1302.3" cy="637.4" r="7.6"/>
<circle cx="1310.7" cy="610.8" r="7.6"/>
<circle cx="1306.5" cy="630.4" r="7.6"/>
<circle cx="1314.9" cy="659.8" r="7.6"/>
<circle cx="1321.9" cy="627.6" r="7.6"/>
<circle cx="1328.9" cy="664" r="7.6"/>
<circle cx="1330.3" cy="629" r="7.6"/>
<circle cx="1341.5" cy="633.2" r="7.6"/>
<circle cx="1345.7" cy="630.4" r="7.6"/>
<circle cx="1349.9" cy="672.4" r="7.6"/>
<circle cx="1354.1" cy="637.4" r="7.6"/>
<circle cx="1358.4" cy="617.8" r="7.6"/>
<circle cx="1362.6" cy="588.4" r="7.6"/>
<circle cx="1366.8" cy="608" r="7.6"/>
<circle cx="1376.6" cy="634.6" r="7.6"/>
<circle cx="1380.8" cy="659.8" r="7.6"/>
<circle cx="1385" cy="615" r="7.6"/>
<circle cx="1390.6" cy="626.2" r="7.6"/>
<circle cx="1397.6" cy="619.2" r="7.6"/>
<circle cx="1403.2" cy="624.8" r="7.6"/>
<circle cx="1408.8" cy="630.4" r="7.6"/>
<circle cx="1411.6" cy="654.2" r="7.6"/>
<circle cx="1415.8" cy="633.2" r="7.6"/>
<circle cx="849.8" cy="640.2" r="7.6"/>
<circle cx="870.8" cy="651.4" r="7.6"/>
<circle cx="890.4" cy="648.6" r="7.6"/>
<circle cx="898.8" cy="640.2" r="7.6"/>
<circle cx="918.5" cy="636" r="7.6"/>
<circle cx="935.3" cy="651.4" r="7.6"/>
<circle cx="1296.7" cy="629" r="7.6"/>
<circle cx="1316.3" cy="633.2" r="7.6"/>
<circle cx="1335.9" cy="637.4" r="7.6"/>
<circle cx="1364" cy="633.2" r="7.6"/>
<circle cx="1372.4" cy="640.2" r="7.6"/>
<circle cx="1166" cy="76.7" r="7.6"/>
<circle cx="1161.2" cy="105.2" r="7.6"/>
<circle cx="1157.1" cy="124.8" r="7.6"/>
<circle cx="1171" cy="141.7" r="7.6"/>
<circle cx="1144.5" cy="150.5" r="7.6"/>
<circle cx="1152.4" cy="164.8" r="7.6"/>
<circle cx="1140.5" cy="157.6" r="7.6"/>
<circle cx="1175" cy="175.5" r="7.6"/>
<circle cx="1179" cy="204" r="7.6"/>
<circle cx="1140.5" cy="209.5" r="7.6"/>
<circle cx="1133.3" cy="226.7" r="7.6"/>
<circle cx="1127.4" cy="285" r="7.6"/>
<circle cx="1181" cy="295.7" r="7.6"/>
<circle cx="1186.9" cy="307.6" r="7.6"/>
<circle cx="1118.3" cy="311.2" r="7.6"/>
<circle cx="1191.7" cy="336.2" r="7.6"/>
<circle cx="1113.1" cy="355.2" r="7.6"/>
<circle cx="1196.4" cy="369.5" r="7.6"/>
</g>
<g fill="#1b9dcd" stroke="#0d6a90" stroke-width="1.3">
<circle cx="1612.4" cy="540.3" r="7.1"/>
<circle cx="1615.6" cy="520.5" r="7.1"/>
<circle cx="1621.4" cy="495.4" r="7.1"/>
<circle cx="1628.7" cy="471.9" r="7.1"/>
<circle cx="1633.7" cy="441.8" r="7.1"/>
<circle cx="1639" cy="408" r="7.1"/>
<circle cx="1646.4" cy="368.2" r="7.1"/>
<circle cx="1650.9" cy="338.3" r="7.1"/>
<circle cx="1650.1" cy="297.7" r="7.1"/>
<circle cx="1659.2" cy="265" r="7.1"/>
<circle cx="1665.9" cy="233.2" r="7.1"/>
<circle cx="1669.7" cy="198.8" r="7.1"/>
<circle cx="1678.1" cy="165" r="7.1"/>
<circle cx="1687.3" cy="132.8" r="7.1"/>
<circle cx="1691.4" cy="111.1" r="7.1"/>
<circle cx="1691.4" cy="90.5" r="7.1"/>
<circle cx="1698.7" cy="85.9" r="7.1"/>
<circle cx="1705.2" cy="96.9" r="7.1"/>
<circle cx="1707.3" cy="117.4" r="7.1"/>
<circle cx="1718.9" cy="148.2" r="7.1"/>
<circle cx="1721.7" cy="183.2" r="7.1"/>
<circle cx="1722.3" cy="223.5" r="7.1"/>
<circle cx="1735.7" cy="259.5" r="7.1"/>
<circle cx="1736.6" cy="290.2" r="7.1"/>
<circle cx="1740.7" cy="335.6" r="7.1"/>
<circle cx="1748.3" cy="376.5" r="7.1"/>
<circle cx="1756.3" cy="406.3" r="7.1"/>
<circle cx="1762.1" cy="447.2" r="7.1"/>
<circle cx="1766" cy="479.8" r="7.1"/>
<circle cx="1766.9" cy="504.3" r="7.1"/>
<circle cx="1774.3" cy="531.2" r="7.1"/>
<circle cx="1778" cy="549.1" r="7.1"/>
<circle cx="1695.2" cy="77.1" r="7.1"/>
<circle cx="1683.3" cy="101.7" r="7.1"/>
<circle cx="1689.3" cy="110" r="7.1"/>
<circle cx="1697.6" cy="101.7" r="7.1"/>
<circle cx="1707.1" cy="99.3" r="7.1"/>
<circle cx="1421.2" cy="655.2" r="7.1"/>
<circle cx="1426.8" cy="663.6" r="7.1"/>
<circle cx="1436.6" cy="666.4" r="7.1"/>
<circle cx="1443.6" cy="649.6" r="7.1"/>
<circle cx="1450.6" cy="663.6" r="7.1"/>
<circle cx="1457.6" cy="658" r="7.1"/>
<circle cx="1464.6" cy="646.8" r="7.1"/>
<circle cx="1470.2" cy="659.4" r="7.1"/>
<circle cx="1480" cy="646.8" r="7.1"/>
<circle cx="1487" cy="656.6" r="7.1"/>
<circle cx="1494" cy="651" r="7.1"/>
<circle cx="1502.4" cy="656.6" r="7.1"/>
<circle cx="1508" cy="638.4" r="7.1"/>
<circle cx="1513.6" cy="639.8" r="7.1"/>
<circle cx="1520.6" cy="649.6" r="7.1"/>
<circle cx="1524.8" cy="627.2" r="7.1"/>
<circle cx="1531.8" cy="638.4" r="7.1"/>
<circle cx="1540.3" cy="628.6" r="7.1"/>
<circle cx="1548.7" cy="638.4" r="7.1"/>
<circle cx="1550.1" cy="627.2" r="7.1"/>
<circle cx="1558.5" cy="623" r="7.1"/>
<circle cx="1566.9" cy="616" r="7.1"/>
<circle cx="1575.3" cy="618.8" r="7.1"/>
<circle cx="1579.5" cy="600.6" r="7.1"/>
<circle cx="1586.5" cy="603.4" r="7.1"/>
<circle cx="1590.7" cy="572.6" r="7.1"/>
<circle cx="1597.7" cy="583.8" r="7.1"/>
<circle cx="1608.9" cy="564.2" r="7.1"/>
<circle cx="1431" cy="656.6" r="7.1"/>
<circle cx="1474.4" cy="652.4" r="7.1"/>
<circle cx="1499.6" cy="645.4" r="7.1"/>
<circle cx="1778.4" cy="565.6" r="7.1"/>
<circle cx="1786.8" cy="568.4" r="7.1"/>
<circle cx="1792.4" cy="575.4" r="7.1"/>
<circle cx="1798" cy="585.2" r="7.1"/>
<circle cx="1796.6" cy="603.4" r="7.1"/>
<circle cx="1803.6" cy="600.6" r="7.1"/>
<circle cx="1807.8" cy="607.6" r="7.1"/>
<circle cx="1812" cy="616" r="7.1"/>
<circle cx="1809.2" cy="620.2" r="7.1"/>
<circle cx="1816.2" cy="625.8" r="7.1"/>
<circle cx="1821.8" cy="623" r="7.1"/>
<circle cx="1833.1" cy="625.8" r="7.1"/>
<circle cx="1824.6" cy="639.8" r="7.1"/>
<circle cx="1831.7" cy="642.6" r="7.1"/>
<circle cx="1838.7" cy="644" r="7.1"/>
<circle cx="1845.7" cy="649.6" r="7.1"/>
<circle cx="1848.5" cy="653.8" r="7.1"/>
<circle cx="1854.8" cy="641.2" r="7.1"/>
<circle cx="1858.3" cy="649.6" r="7.1"/>
<circle cx="1863.9" cy="656.6" r="7.1"/>
<circle cx="1870.9" cy="645.4" r="7.1"/>
<circle cx="1873.7" cy="658" r="7.1"/>
<circle cx="1880.7" cy="655.2" r="7.1"/>
<circle cx="1887.7" cy="649.6" r="7.1"/>
<circle cx="1891.9" cy="656.6" r="7.1"/>
<circle cx="1897.5" cy="672" r="7.1"/>
<circle cx="1901.7" cy="652.4" r="7.1"/>
<circle cx="1908.7" cy="663.6" r="7.1"/>
<circle cx="1914.3" cy="648.2" r="7.1"/>
<circle cx="1918.5" cy="656.6" r="7.1"/>
<circle cx="1925.5" cy="666.4" r="7.1"/>
<circle cx="1931.1" cy="639.8" r="7.1"/>
<circle cx="1936.7" cy="651" r="7.1"/>
<circle cx="1942.3" cy="652.4" r="7.1"/>
<circle cx="1946.5" cy="660.8" r="7.1"/>
<circle cx="1952.1" cy="656.6" r="7.1"/>
<circle cx="1959.1" cy="645.4" r="7.1"/>
<circle cx="1964.7" cy="660.8" r="7.1"/>
</g>
</g>
<g id="top_black">
<path d="M292 646L293.5 646L295 646L296.5 646L298 646L299.5 646L301 646L302.5 646L304 646L305.5 645.9L307 645.9L308.5 645.9L310 645.9L311.5 645.9L313 645.9L314.5 645.9L316 645.8L317.5 645.8L319 645.8L320.5 645.8L322 645.8L323.5 645.8L325 645.7L326.5 645.7L328 645.7L329.5 645.7L331 645.6L332.5 645.6L334 645.5L335.5 645.5L337 645.5L338.5 645.4L340 645.4L341.5 645.3L343 645.2L344.5 645.2L346 645.1L347.5 645L349 644.8L350.5 644.6L352 644.4L353.5 644.2L355 643.9L356.5 643.6L358 643.3L359.5 642.9L361 642.6L362.5 642.2L364 641.8L365.5 641.4L367 641L368.5 640.6L370 640.1L371.5 639.6L373 639.1L374.5 638.5L376 637.8L377.5 637.1L379 636.3L380.5 635.4L382 634.4L383.5 633.5L385 632.4L386.5 631.3L388 630.2L389.5 629L391 627.8L392.5 626.6L394 625.2L395.5 623.8L397 622.2L398.5 620.5L400 618.7L401.5 616.8L403 614.8L404.5 612.7L406 610.5L407.5 608.3L409 606L410.5 603.6L412 601.1L413.5 598.4L415 595.6L416.5 592.7L418 589.7L419.5 586.5L421 583.3L422.5 579.9L424 576.5L425.5 573L427 569.4L428.5 565.5L430 561.4L431.5 557.2L433 552.9L434.5 548.5L436 544L437.5 539.5L439 535L440.5 530.5L442 525.9L443.5 521.3L445 516.6L446.5 511.9L448 507L449.5 502L451 496.9L452.5 491.6L454 486.1L455.5 480.4L457 474.5L458.5 468.5L460 462.4L461.5 456.1L463 449.8L464.5 443.5L466 436.9L467.5 430.3L469 423.5L470.5 416.7L472 409.7L473.5 402.7L475 395.5L476.5 388.1L478 380.5L479.5 372.9L481 365.4L482.5 358L484 350.7L485.5 343.3L487 336.1L488.5 329.2L490 322.6L491.5 316.3L493 310.2L494.5 304.3L496 298.5L497.5 292.7L499 286.9L500.5 281.2L502 275.6L503.5 270L505 264.4L506.5 258.7L508 252.9L509.5 246.9L511 240.9L512.5 234.8L514 228.8L515.5 223L517 217.3L518.5 211.8L520 206.4L521.5 201L523 195.6L524.5 190.2L526 184.7L527.5 179.2L529 173.6L530.5 168.1L532 162.7L533.5 157.4L535 152.3L536.5 147.2L538 142.3L539.5 137.5L541 132.8L542.5 128.2L544 123.7L545.5 119.2L547 114.9L548.5 110.6L550 106.7L551.5 103.1L553 99.7L554.5 96.4L556 93.4L557.5 90.7L559 88.6L560.5 87L562 85.6L563.5 84.3L565 83.2L566.5 82.5L568 82.3L569.5 82.6L571 83.3L572.5 84.4L574 85.7L575.5 87.1L577 88.7L578.5 90.7L580 93.2L581.5 96.1L583 99.4L584.5 102.8L586 106.3L587.5 110.2L589 114.6L590.5 119.4L592 124.7L593.5 130.8L595 137.9L596.5 145.3L598 152.9L599.5 160.8L601 168.9L602.5 177.3L604 185.9L605.5 194.6L607 203.4L608.5 212.4L610 221.7L611.5 231.2L613 240.9L614.5 251.1L616 261.5L617.5 272.1L619 283.1L620.5 294.6L622 306.6L623.5 319.3L625 334.2L626.5 349.5L628 362.2L629.5 372L631 381L632.5 390.6L634 400.4L635.5 410.2L637 420L638.5 429.7L640 439.1L641.5 448.6L643 457.9L644.5 467L646 475.6L647.5 483.6L649 491.1L650.5 498.3L652 505.3L653.5 511.9L655 518.3L656.5 524.4L658 530.2L659.5 535.8L661 541.1L662.5 546.3L664 551.3L665.5 556L667 560.4L668.5 564.6L670 568.5L671.5 572.3L673 576L674.5 579.6L676 582.9L677.5 586.1L679 589.2L680.5 592L682 594.6L683.5 597.1L685 599.4L686.5 601.7L688 604L689.5 606.1L691 608.1L692.5 610.1L694 612L695.5 613.7L697 615.4L698.5 616.9L700 618.4L701.5 619.7L703 620.9L704.5 622.1L706 623.2L707.5 624.3L709 625.4L710.5 626.4L712 627.4L713.5 628.3L715 629.2L716.5 630L718 630.8L719.5 631.5L721 632.2L722.5 632.8L724 633.4L725.5 634L727 634.6L728.5 635.2L730 635.7L731.5 636.2L733 636.8L734.5 637.2L736 637.7L737.5 638.2L739 638.6L740.5 639L742 639.4L743.5 639.8L745 640.1L746.5 640.4L748 640.7L749.5 641L751 641.3L752.5 641.5L754 641.8L755.5 642L757 642.3L758.5 642.5L760 642.7L761.5 642.9L763 643.1L764.5 643.3L766 643.5L767.5 643.7L769 643.8L770.5 644L772 644.1L773.5 644.2L775 644.3L776.5 644.4L778 644.4L779.5 644.5L781 644.6L782.5 644.6L784 644.7L785.5 644.7L787 644.8L788.5 644.8L790 644.8L791.5 644.9L793 644.9L794.5 645L796 645L797.5 645L799 645.1L800.5 645.1L802 645.1L803.5 645.1L805 645.1L806.5 645.2L808 645.2L809.5 645.2L811 645.2L812.5 645.2L814 645.2L815.5 645.2L817 645.3L818.5 645.3L820 645.3L821.5 645.3L823 645.3L824.5 645.3L826 645.3L827.5 645.3L829 645.3L830.5 645.4L832 645.4L833.5 645.4L835 645.4L836.5 645.4L838 645.4L839.5 645.4L841 645.4L842.5 645.4L844 645.4L845.5 645.4L847 645.4" fill="none" stroke="#000" stroke-width="5" stroke-linejoin="round" stroke-linecap="butt"/>
<path d="M847 648.4L848.5 648.3L850 648.2L851.5 648.1L853 648L854.5 647.9L856 647.8L857.5 647.7L859 647.6L860.5 647.5L862 647.4L863.5 647.3L865 647.2L866.5 647.1L868 647L869.5 646.8L871 646.7L872.5 646.6L874 646.5L875.5 646.4L877 646.3L878.5 646.1L880 646L881.5 645.9L883 645.8L884.5 645.6L886 645.5L887.5 645.3L889 645.2L890.5 645L892 644.9L893.5 644.7L895 644.5L896.5 644.3L898 644.1L899.5 643.9L901 643.7L902.5 643.4L904 643.2L905.5 642.9L907 642.6L908.5 642.3L910 642L911.5 641.7L913 641.3L914.5 641L916 640.6L917.5 640.2L919 639.8L920.5 639.5L922 639.1L923.5 638.6L925 638.2L926.5 637.8L928 637.4L929.5 636.9L931 636.5L932.5 636L934 635.5L935.5 635L937 634.5L938.5 633.9L940 633.3L941.5 632.7L943 632L944.5 631.3L946 630.7L947.5 629.9L949 629.2L950.5 628.5L952 627.7L953.5 627L955 626.2L956.5 625.5L958 624.7L959.5 623.9L961 623.1L962.5 622.4L964 621.5L965.5 620.7L967 619.8L968.5 619L970 618.1L971.5 617.2L973 616.3L974.5 615.4L976 614.4L977.5 613.5L979 612.6L980.5 611.6L982 610.7L983.5 609.7L985 608.8L986.5 607.8L988 606.9L989.5 606L991 605L992.5 604.1L994 603.2L995.5 602.2L997 601.3L998.5 600.3L1000 599.4L1001.5 598.4L1003 597.4L1004.5 596.5L1006 595.5L1007.5 594.5L1009 593.6L1010.5 592.6L1012 591.6L1013.5 590.7L1015 589.7L1016.5 588.8L1018 587.8L1019.5 586.9L1021 585.9L1022.5 585L1024 584.1L1025.5 583.2L1027 582.3L1028.5 581.5L1030 580.6L1031.5 579.7L1033 578.8L1034.5 577.8L1036 576.9L1037.5 575.9L1039 574.9L1040.5 573.9L1042 572.8L1043.5 571.7L1045 570.6L1046.5 569.5L1048 568.3L1049.5 567.1L1051 565.9L1052.5 564.7L1054 563.4L1055.5 562L1057 560.6L1058.5 559.1L1060 557.5L1061.5 555.9L1063 554.1L1064.5 552.2L1066 550.1L1067.5 547.8L1069 545.5L1070.5 543L1072 540.4L1073.5 537.6L1075 534.8L1076.5 531.7L1078 528.3L1079.5 524.7L1081 520.8L1082.5 516.6L1084 511.7L1085.5 506.1L1087 499.9L1088.5 493.4L1090 486.8L1091.5 480.2L1093 473.4L1094.5 466.2L1096 458.9L1097.5 451.2L1099 443.4L1100.5 435.2L1102 426.8L1103.5 418.1L1105 409.2L1106.5 400.2L1108 391L1109.5 381.4L1111 371.3L1112.5 360.2L1114 347.9L1115.5 337.6L1117 328.4L1118.5 319.7L1120 311.1L1121.5 302.3L1123 293.3L1124.5 284.4L1126 275.5L1127.5 266.6L1129 257.6L1130.5 248.4L1132 239.2L1133.5 230L1135 221.1L1136.5 212.6L1138 204.1L1139.5 195.8L1141 187.9L1142.5 180.8L1144 174.2L1145.5 167.9L1147 162.1L1148.5 157L1150 152.9L1151.5 149.4L1153 146L1154.5 143.2L1156 141.4L1157.5 141.1L1159 142.1L1160.5 144.1L1162 146.9L1163.5 150L1165 153.3L1166.5 157.7L1168 163L1169.5 168.9L1171 175L1172.5 181.4L1174 188.4L1175.5 195.9L1177 203.8L1178.5 211.9L1180 220.2L1181.5 228.9L1183 238L1184.5 247.4L1186 257.2L1187.5 267.3L1189 277.8L1190.5 288.8L1192 300.4L1193.5 312.7L1195 327L1196.5 341.8L1198 355.4L1199.5 366.1L1201 375.1L1202.5 383.5L1204 392.3L1205.5 402.3L1207 413L1208.5 423.6L1210 433.4L1211.5 442.5L1213 451.1L1214.5 459.4L1216 467.4L1217.5 475.1L1219 482.6L1220.5 489.9L1222 497L1223.5 503.8L1225 510.1L1226.5 516L1228 521.6L1229.5 527L1231 532.2L1232.5 537.1L1234 541.9L1235.5 546.5L1237 551L1238.5 555.4L1240 559.6L1241.5 563.7L1243 567.6L1244.5 571.4L1246 575L1247.5 578.5L1249 581.9L1250.5 585.2L1252 588.5L1253.5 591.6L1255 594.6L1256.5 597.5L1258 600.1L1259.5 602.6L1261 604.8L1262.5 607L1264 609.1L1265.5 611L1267 612.9L1268.5 614.8L1270 616.5L1271.5 618.1L1273 619.7L1274.5 621.1L1276 622.5L1277.5 623.7L1279 625L1280.5 626.1L1282 627.3L1283.5 628.4L1285 629.5L1286.5 630.6L1288 631.6L1289.5 632.6L1291 633.5L1292.5 634.3L1294 635.1L1295.5 635.8L1297 636.5L1298.5 637.1L1300 637.6L1301.5 638L1303 638.5L1304.5 638.9L1306 639.3L1307.5 639.7L1309 640.1L1310.5 640.5L1312 640.9L1313.5 641.2L1315 641.5L1316.5 641.8L1318 642.1L1319.5 642.4L1321 642.7L1322.5 643L1324 643.2L1325.5 643.4L1327 643.6L1328.5 643.8L1330 644L1331.5 644.2L1333 644.4L1334.5 644.5L1336 644.7L1337.5 644.9L1339 645L1340.5 645.2L1342 645.3L1343.5 645.4L1345 645.6L1346.5 645.7L1348 645.8L1349.5 645.9L1351 646.1L1352.5 646.2L1354 646.3L1355.5 646.4L1357 646.5L1358.5 646.6L1360 646.7L1361.5 646.7L1363 646.8L1364.5 646.9L1366 647L1367.5 647L1369 647.1L1370.5 647.1L1372 647.2L1373.5 647.2L1375 647.3L1376.5 647.3L1378 647.4L1379.5 647.4L1381 647.4L1382.5 647.5L1384 647.5L1385.5 647.6L1387 647.6L1388.5 647.6L1390 647.7L1391.5 647.7L1393 647.7L1394.5 647.8L1396 647.8L1397.5 647.8L1399 647.8L1400.5 647.9L1402 647.9L1403.5 647.9L1405 647.9L1406.5 648L1408 648L1409.5 648L1411 648L1412.5 648L1414 648L1415.5 648" fill="none" stroke="#000" stroke-width="5" stroke-linejoin="round" stroke-linecap="butt"/>
<path d="M1416.5 654.2L1418 654.2L1419.5 654.1L1421 654.1L1422.5 654L1424 653.9L1425.5 653.9L1427 653.8L1428.5 653.8L1430 653.7L1431.5 653.6L1433 653.6L1434.5 653.5L1436 653.4L1437.5 653.3L1439 653.3L1440.5 653.2L1442 653.1L1443.5 653L1445 652.9L1446.5 652.8L1448 652.8L1449.5 652.7L1451 652.6L1452.5 652.5L1454 652.4L1455.5 652.3L1457 652.2L1458.5 652L1460 651.9L1461.5 651.8L1463 651.7L1464.5 651.5L1466 651.4L1467.5 651.3L1469 651.1L1470.5 650.9L1472 650.8L1473.5 650.6L1475 650.4L1476.5 650.2L1478 650L1479.5 649.7L1481 649.5L1482.5 649.3L1484 649.1L1485.5 648.8L1487 648.5L1488.5 648.3L1490 648L1491.5 647.7L1493 647.5L1494.5 647.2L1496 646.9L1497.5 646.6L1499 646.3L1500.5 646L1502 645.7L1503.5 645.4L1505 645L1506.5 644.7L1508 644.4L1509.5 644.1L1511 643.7L1512.5 643.4L1514 643L1515.5 642.6L1517 642.2L1518.5 641.8L1520 641.3L1521.5 640.9L1523 640.4L1524.5 640L1526 639.5L1527.5 639L1529 638.5L1530.5 638L1532 637.5L1533.5 636.9L1535 636.4L1536.5 635.8L1538 635.2L1539.5 634.6L1541 634L1542.5 633.4L1544 632.7L1545.5 632L1547 631.3L1548.5 630.6L1550 629.8L1551.5 629.1L1553 628.3L1554.5 627.4L1556 626.6L1557.5 625.7L1559 624.8L1560.5 623.9L1562 623L1563.5 622L1565 620.9L1566.5 619.8L1568 618.7L1569.5 617.4L1571 616.2L1572.5 614.9L1574 613.5L1575.5 612L1577 610.5L1578.5 609L1580 607.3L1581.5 605.5L1583 603.6L1584.5 601.6L1586 599.5L1587.5 597.3L1589 595L1590.5 592.5L1592 590L1593.5 587.2L1595 584.3L1596.5 581.1L1598 577.7L1599.5 574.2L1601 570.4L1602.5 566.6L1604 562.6L1605.5 558.4L1607 553.9L1608.5 549.2L1610 544.4L1611.5 539.3L1613 534.1L1614.5 528.6L1616 523L1617.5 517.1L1619 510.9L1620.5 504.5L1622 497.7L1623.5 490.4L1625 482.6L1626.5 474.5L1628 466.4L1629.5 458.3L1631 450.2L1632.5 442L1634 433.6L1635.5 425L1637 416.1L1638.5 407L1640 397.7L1641.5 388.3L1643 378.8L1644.5 369.1L1646 359.4L1647.5 349.8L1649 340.2L1650.5 330.6L1652 321L1653.5 311.5L1655 301.9L1656.5 292.4L1658 282.9L1659.5 273.5L1661 264.1L1662.5 254.7L1664 245.2L1665.5 235.7L1667 226L1668.5 216.4L1670 206.8L1671.5 197.5L1673 188.2L1674.5 179L1676 170L1677.5 161.3L1679 153L1680.5 144.9L1682 137L1683.5 129.5L1685 122.5L1686.5 116.1L1688 109.7L1689.5 103.7L1691 98.4L1692.5 94.2L1694 91L1695.5 88.1L1697 86.4L1698.5 86.4L1700 87.7L1701.5 89.7L1703 92.2L1704.5 95.3L1706 100.2L1707.5 106.5L1709 113.6L1710.5 120.9L1712 128.6L1713.5 137.1L1715 146.4L1716.5 155.9L1718 165.4L1719.5 175.1L1721 185.2L1722.5 195.4L1724 205.6L1725.5 215.8L1727 225.8L1728.5 235.9L1730 246L1731.5 256L1733 265.9L1734.5 275.7L1736 285.4L1737.5 295.2L1739 305.5L1740.5 316.4L1742 328L1743.5 339.8L1745 351.3L1746.5 362.1L1748 372.1L1749.5 381.6L1751 391L1752.5 400.4L1754 410L1755.5 419.8L1757 429.7L1758.5 439.4L1760 448.5L1761.5 457.2L1763 465.5L1764.5 473.5L1766 481.4L1767.5 489L1769 496.5L1770.5 504L1772 511.3L1773.5 518.5L1775 525.3L1776.5 531.7L1778 537.6L1779.5 543.2L1781 548.5L1782.5 553.6L1784 558.5L1785.5 563.2L1787 567.6L1788.5 571.9L1790 576.1L1791.5 580.1L1793 584L1794.5 587.6L1796 591.1L1797.5 594.2L1799 597.1L1800.5 599.9L1802 602.5L1803.5 605L1805 607.3L1806.5 609.5L1808 611.6L1809.5 613.6L1811 615.3L1812.5 617.1L1814 618.7L1815.5 620.3L1817 621.8L1818.5 623.2L1820 624.6L1821.5 625.9L1823 627.1L1824.5 628.3L1826 629.4L1827.5 630.4L1829 631.4L1830.5 632.3L1832 633.2L1833.5 634L1835 634.8L1836.5 635.6L1838 636.4L1839.5 637.1L1841 637.7L1842.5 638.4L1844 639L1845.5 639.6L1847 640.2L1848.5 640.7L1850 641.2L1851.5 641.7L1853 642.2L1854.5 642.7L1856 643.2L1857.5 643.6L1859 644.1L1860.5 644.5L1862 644.9L1863.5 645.3L1865 645.6L1866.5 646L1868 646.3L1869.5 646.7L1871 647L1872.5 647.2L1874 647.5L1875.5 647.8L1877 648L1878.5 648.3L1880 648.5L1881.5 648.8L1883 649L1884.5 649.2L1886 649.4L1887.5 649.7L1889 649.9L1890.5 650.1L1892 650.3L1893.5 650.5L1895 650.6L1896.5 650.8L1898 651L1899.5 651.1L1901 651.3L1902.5 651.5L1904 651.6L1905.5 651.7L1907 651.9L1908.5 652L1910 652.1L1911.5 652.2L1913 652.3L1914.5 652.4L1916 652.5L1917.5 652.6L1919 652.7L1920.5 652.8L1922 652.9L1923.5 653L1925 653.1L1926.5 653.1L1928 653.2L1929.5 653.3L1931 653.4L1932.5 653.4L1934 653.5L1935.5 653.6L1937 653.7L1938.5 653.7L1940 653.8L1941.5 653.9L1943 653.9L1944.5 654L1946 654.1L1947.5 654.1L1949 654.2L1950.5 654.3L1952 654.3L1953.5 654.4L1955 654.4L1956.5 654.5L1958 654.6L1959.5 654.6L1961 654.7L1962.5 654.7L1964 654.8" fill="none" stroke="#000" stroke-width="5" stroke-linejoin="round" stroke-linecap="butt"/>
</g>
<g id="bottom" filter="url(#soft)">
<rect x="115.5" y="873.2" width="340.7" height="393" fill="none" stroke="#505050" stroke-width="2.3"/>
<g stroke="#505050" stroke-width="1.8">
<line x1="142.9" y1="1266.2" x2="142.9" y2="1258.2"/>
<line x1="199.5" y1="1266.2" x2="199.5" y2="1258.2"/>
<line x1="256.1" y1="1266.2" x2="256.1" y2="1258.2"/>
<line x1="312.7" y1="1266.2" x2="312.7" y2="1258.2"/>
<line x1="369.3" y1="1266.2" x2="369.3" y2="1258.2"/>
<line x1="425.9" y1="1266.2" x2="425.9" y2="1258.2"/>
<line x1="171.2" y1="1266.2" x2="171.2" y2="1261.7"/>
<line x1="227.8" y1="1266.2" x2="227.8" y2="1261.7"/>
<line x1="284.4" y1="1266.2" x2="284.4" y2="1261.7"/>
<line x1="341" y1="1266.2" x2="341" y2="1261.7"/>
<line x1="397.6" y1="1266.2" x2="397.6" y2="1261.7"/>
<line x1="115.5" y1="938.8" x2="123.5" y2="938.8"/>
<line x1="115.5" y1="1011.4" x2="123.5" y2="1011.4"/>
<line x1="115.5" y1="1084.3" x2="123.5" y2="1084.3"/>
<line x1="115.5" y1="1157.2" x2="123.5" y2="1157.2"/>
<line x1="115.5" y1="1230.1" x2="123.5" y2="1230.1"/>
<line x1="115.5" y1="902.4" x2="120" y2="902.4"/>
<line x1="115.5" y1="975.1" x2="120" y2="975.1"/>
<line x1="115.5" y1="1047.9" x2="120" y2="1047.9"/>
<line x1="115.5" y1="1120.8" x2="120" y2="1120.8"/>
<line x1="115.5" y1="1193.7" x2="120" y2="1193.7"/>
</g>
<path d="M142.7 1228.6C145.2 1228.9 153.2 1230.1 157.6 1230.1C162.1 1230.1 165.1 1229.6 169.5 1228.6C174 1227.6 179.9 1224.7 184.4 1224.2C188.9 1223.7 192.8 1226.6 196.3 1225.7C199.8 1224.7 202.5 1219.7 205.2 1218.2C208 1216.7 210.2 1216.2 212.7 1216.7C215.2 1217.2 216.9 1220.7 220.1 1221.2C223.3 1221.7 228.1 1220.9 232 1219.7C236 1218.5 240 1214.5 243.9 1213.8C247.9 1213 252.4 1215.6 255.8 1215.2C259.3 1214.9 261.3 1211.9 264.8 1211.7C268.2 1211.4 272.7 1213.2 276.7 1213.8C280.6 1214.3 284.6 1214.9 288.6 1215.2C292.5 1215.6 296.5 1214.7 300.5 1215.8C304.4 1216.9 308.9 1221.5 312.4 1221.8C315.9 1222.1 317.8 1217.5 321.3 1217.6C324.8 1217.8 328.8 1221.9 333.2 1222.7C337.7 1223.4 343.6 1221.6 348.1 1222.1C352.6 1222.6 356.5 1223.9 360 1225.7C363.5 1227.4 366 1231.2 368.9 1232.5C371.9 1233.8 374.4 1234.8 377.9 1233.7C381.3 1232.5 385.8 1226.7 389.8 1225.7C393.7 1224.6 397.7 1226.4 401.7 1227.1C405.6 1227.9 409.4 1230.2 413.6 1230.1C417.8 1230 424.7 1227.1 427 1226.5" fill="none" stroke="#e6e2e4" stroke-width="2.1" stroke-linejoin="round" stroke-linecap="round"/>
<path d="M142.7 1227.1C145.2 1226.9 153.2 1225.7 157.6 1225.7C162.1 1225.7 165.1 1226.5 169.5 1227.1C174 1227.8 179.4 1228.9 184.4 1229.5C189.4 1230.1 195.3 1230.6 199.3 1230.7C203.3 1230.8 205.5 1232 208.2 1230.1C210.9 1228.3 212.2 1221.9 215.7 1219.7C219.1 1217.5 224.8 1218.2 229 1216.7C233.3 1215.2 237 1212.8 241 1210.8C244.9 1208.8 248.9 1206.6 252.9 1204.8C256.8 1203.1 261.3 1200.6 264.8 1200.4C268.2 1200.1 270.2 1201.9 273.7 1203.3C277.2 1204.7 281.6 1208.6 285.6 1208.7C289.6 1208.8 293.5 1204.9 297.5 1203.9C301.5 1202.9 305.9 1202.8 309.4 1202.7C312.9 1202.6 315.6 1203.6 318.3 1203.3C321.1 1203 323.3 1200.7 325.8 1201C328.3 1201.2 330 1203.5 333.2 1204.8C336.4 1206.1 341.2 1208.2 345.1 1208.7C349.1 1209.2 353.1 1207.2 357 1207.8C361 1208.4 365 1210.8 368.9 1212.3C372.9 1213.8 376.9 1215.2 380.8 1216.7C384.8 1218.2 388.3 1220 392.7 1221.2C397.2 1222.4 403.2 1222.9 407.6 1224.2C412.1 1225.4 416.3 1227.9 419.5 1228.6C422.7 1229.4 425.7 1228.6 427 1228.6" fill="none" stroke="#f9b596" stroke-width="2.1" stroke-linejoin="round" stroke-linecap="round"/>
<path d="M142.7 1231.6C144.7 1232.8 150.2 1239 154.6 1239C159.1 1239 164.6 1234.1 169.5 1231.6C174.5 1229.1 179.4 1227.4 184.4 1224.2C189.4 1220.9 194.3 1217.2 199.3 1212.3C204.2 1207.3 209.2 1200.9 214.2 1194.4C219.1 1188 224.6 1179.5 229 1173.6C233.5 1167.6 237.5 1162.7 241 1158.7C244.4 1154.7 246.9 1153.2 249.9 1149.8C252.9 1146.3 255.8 1140.6 258.8 1137.9C261.8 1135.1 265.3 1134.5 267.7 1133.4C270.2 1132.3 271.7 1130.8 273.7 1131C275.7 1131.3 277.7 1134.1 279.6 1134.9C281.6 1135.7 283.4 1136.1 285.6 1135.8C287.8 1135.4 291.1 1132.7 293 1132.8C295 1132.9 295.8 1134 297.5 1136.4C299.2 1138.7 301 1143.1 303.5 1146.8C305.9 1150.5 309.4 1155.2 312.4 1158.7C315.4 1162.2 318.3 1164.6 321.3 1167.6C324.3 1170.6 327.3 1174.1 330.2 1176.5C333.2 1179 336.2 1180.3 339.2 1182.5C342.1 1184.7 344.6 1187.5 348.1 1189.9C351.6 1192.4 356 1194.2 360 1197.4C364 1200.6 367.9 1206.1 371.9 1209.3C375.9 1212.5 379.8 1214.5 383.8 1216.7C387.8 1219 391.7 1220.9 395.7 1222.7C399.7 1224.4 403.7 1225.7 407.6 1227.1C411.6 1228.6 416.3 1231.1 419.5 1231.6C422.7 1232.1 425.7 1230.4 427 1230.1" fill="none" stroke="#f37a0c" stroke-width="2.5" stroke-linejoin="round" stroke-linecap="round"/>
<path d="M142.7 1230.7C147.2 1229.9 162.6 1228.2 169.5 1225.7C176.5 1223.1 179.9 1220 184.4 1215.2C188.9 1210.5 192.3 1204.8 196.3 1197.4C200.3 1189.9 204.2 1181 208.2 1170.6C212.2 1160.2 216.2 1147.8 220.1 1134.9C224.1 1122 228.1 1107.6 232 1093.2C236 1078.8 240 1062.5 243.9 1048.6C247.9 1034.7 252.6 1018.8 255.8 1009.9C259.1 1001 261.3 998 263.3 995C265.3 992 266 991.5 267.7 992C269.5 992.5 271.2 994 273.7 998C276.2 1001.9 279.6 1009.9 282.6 1015.8C285.6 1021.8 288.6 1027.2 291.5 1033.7C294.5 1040.1 297.5 1046.1 300.5 1054.5C303.5 1063 306.4 1073.4 309.4 1084.3C312.4 1095.2 315.4 1108.6 318.3 1120C321.3 1131.4 324.3 1142.8 327.3 1152.7C330.2 1162.7 332.7 1171.6 336.2 1179.5C339.7 1187.5 344.1 1195.4 348.1 1200.4C352.1 1205.3 356 1206.6 360 1209.3C364 1212 367.9 1214.2 371.9 1216.7C375.9 1219.2 379.3 1222.2 383.8 1224.2C388.3 1226.2 393.7 1227.4 398.7 1228.6C403.7 1229.9 408.9 1231.3 413.6 1231.6C418.3 1232 424.7 1230.9 427 1230.7" fill="none" stroke="#f05a14" stroke-width="2.5" stroke-linejoin="round" stroke-linecap="round"/>
<path d="M142.7 1230.7C147.2 1229.7 162.6 1227.8 169.5 1224.8C176.5 1221.7 179.9 1217.6 184.4 1212.3C188.9 1207 192.3 1200.9 196.3 1192.9C200.3 1185 204.2 1175.3 208.2 1164.6C212.2 1154 216.2 1142.8 220.1 1128.9C224.1 1115 228.1 1098.2 232 1081.3C236 1064.4 240 1045.6 243.9 1027.7C247.9 1009.9 252.4 987.6 255.8 974.2C259.3 960.8 262.3 953 264.8 947.4C267.2 941.8 268.2 940.5 270.7 940.5C273.2 940.5 276.7 942.8 279.6 947.4C282.6 952 285.6 959.3 288.6 968.2C291.5 977.1 294.5 988.6 297.5 1001C300.5 1013.4 303.5 1028.2 306.4 1042.6C309.4 1057 312.4 1072.4 315.4 1087.3C318.3 1102.1 321.3 1118.5 324.3 1131.9C327.3 1145.3 330.2 1157.7 333.2 1167.6C336.2 1177.5 338.7 1185 342.1 1191.4C345.6 1197.9 350.1 1202.3 354 1206.3C358 1210.3 362 1212.8 366 1215.2C369.9 1217.7 373.9 1219.2 377.9 1221.2C381.8 1223.2 384.8 1225.4 389.8 1227.1C394.7 1228.9 401.4 1231 407.6 1231.6C413.8 1232.2 423.7 1230.9 427 1230.7" fill="none" stroke="#ee441c" stroke-width="2.5" stroke-linejoin="round" stroke-linecap="round"/>
<path d="M142.7 1230.1C147.2 1229.1 162.6 1227.1 169.5 1224.2C176.5 1221.2 179.9 1217.2 184.4 1212.3C188.9 1207.3 192.3 1201.8 196.3 1194.4C200.3 1187 204.2 1178 208.2 1167.6C212.2 1157.2 216.2 1145.8 220.1 1131.9C224.1 1118 228.1 1101.6 232 1084.3C236 1066.9 240 1046.6 243.9 1027.7C247.9 1008.9 251.9 987.6 255.8 971.2C259.8 954.8 264 938.9 267.7 929.5C271.5 920.1 274.9 915.1 278.2 914.6C281.4 914.1 284.1 919.6 287.1 926.5C290.1 933.5 293 944.4 296 956.3C299 968.2 302 982.1 304.9 998C307.9 1013.8 310.9 1033.7 313.9 1051.5C316.8 1069.4 319.8 1088.8 322.8 1105.1C325.8 1121.5 328.8 1136.9 331.7 1149.8C334.7 1162.7 337.4 1173.6 340.7 1182.5C343.9 1191.4 347.4 1197.9 351.1 1203.3C354.8 1208.8 358.5 1211.5 363 1215.2C367.4 1219 372.9 1222.9 377.9 1225.7C382.8 1228.4 387.8 1230.4 392.7 1231.6C397.7 1232.8 401.9 1233.3 407.6 1233.1C413.3 1232.8 423.7 1230.6 427 1230.1" fill="none" stroke="#ec3222" stroke-width="2.5" stroke-linejoin="round" stroke-linecap="round"/>
<path d="M142.7 1230.7C144.7 1230.4 150.2 1229.7 154.6 1228.6C159.1 1227.5 165.1 1226.2 169.5 1224.2C174 1222.2 177.5 1220.6 181.4 1216.7C185.4 1212.9 189.4 1207.6 193.3 1201C197.3 1194.3 201.3 1186.7 205.2 1176.5C209.2 1166.4 213.2 1154.1 217.1 1140.2C221.1 1126.3 225.1 1110.5 229 1093.2C233 1076 237 1055.9 241 1036.7C244.9 1017.4 248.9 995.8 252.9 977.7C256.8 959.7 261.3 940.7 264.8 928.3C268.2 915.9 271.1 908.2 273.7 903.3C276.3 898.4 278.2 899.2 280.5 898.9C282.9 898.6 285.5 896.9 288 901.5C290.4 906.2 292.7 915.4 295.1 926.5C297.5 937.7 299.8 951.3 302.6 968.2C305.3 985.1 308.5 1007.9 311.5 1027.7C314.5 1047.6 317.4 1069.3 320.4 1087.3C323.4 1105.2 326.4 1121.5 329.3 1135.5C332.3 1149.5 335.3 1161.7 338.3 1171.2C341.2 1180.7 343.7 1186.6 347.2 1192.6C350.7 1198.7 355.1 1203.5 359.1 1207.5C363.1 1211.5 366.5 1213.4 371 1216.4C375.5 1219.5 380.9 1223.2 385.9 1226C390.9 1228.7 395.8 1232 400.8 1233.1C405.7 1234.2 411.3 1232.7 415.7 1232.5C420 1232.3 425.1 1231.8 427 1231.6" fill="none" stroke="#ea2426" stroke-width="2.8" stroke-linejoin="round" stroke-linecap="round"/>
<path d="M142.7 1231.6C144.7 1230.9 150.2 1228.1 154.6 1227.1C159.1 1226.2 165.1 1227.1 169.5 1225.7C174 1224.2 177.5 1221.9 181.4 1218.2C185.4 1214.5 189.4 1209.8 193.3 1203.3C197.3 1196.9 201.3 1189.4 205.2 1179.5C209.2 1169.6 213.2 1157.7 217.1 1143.8C221.1 1129.9 225.1 1113.6 229 1096.2C233 1078.8 237 1059 241 1039.6C244.9 1020.3 248.9 998.5 252.9 980.1C256.8 961.8 261.3 942.2 264.8 929.5C268.2 916.9 271 909.5 273.7 904.2C276.4 898.9 278.7 897.9 281.1 897.7C283.6 897.4 286.1 897.4 288.6 902.7C291.1 908 293.5 918.1 296 929.5C298.5 940.9 300.7 954.3 303.5 971.2C306.2 988.1 309.4 1010.9 312.4 1030.7C315.4 1050.6 318.3 1072.4 321.3 1090.2C324.3 1108.1 327.3 1124 330.2 1137.9C333.2 1151.7 336.2 1164.1 339.2 1173.6C342.1 1183 344.6 1188.5 348.1 1194.4C351.6 1200.4 356 1205.3 360 1209.3C364 1213.3 367.4 1215.2 371.9 1218.2C376.4 1221.2 381.8 1224.9 386.8 1227.1C391.7 1229.4 396.7 1230.4 401.7 1231.6C406.6 1232.8 412.3 1234.8 416.5 1234.6C420.8 1234.3 425.2 1230.9 427 1230.1" fill="none" stroke="#e8202a" stroke-width="2.8" stroke-linejoin="round" stroke-linecap="round"/>
<line x1="361.4" y1="938.6" x2="412.8" y2="938.6" stroke="#e8202a" stroke-width="3"/>
<text x="417.5" y="944.9" font-family="'Liberation Sans',sans-serif" font-size="17.5" font-weight="normal" fill="#1a1a1a" text-anchor="start" textLength="12.5" lengthAdjust="spacingAndGlyphs" stroke="#1a1a1a" stroke-width="0.45">1</text>
<line x1="361.4" y1="960.7" x2="412.8" y2="960.7" stroke="#ea2426" stroke-width="3"/>
<text x="417.5" y="967" font-family="'Liberation Sans',sans-serif" font-size="17.5" font-weight="normal" fill="#1a1a1a" text-anchor="start" textLength="12.5" lengthAdjust="spacingAndGlyphs" stroke="#1a1a1a" stroke-width="0.45">2</text>
<line x1="361.4" y1="982.9" x2="412.8" y2="982.9" stroke="#ec3222" stroke-width="3"/>
<text x="417.5" y="989.2" font-family="'Liberation Sans',sans-serif" font-size="17.5" font-weight="normal" fill="#1a1a1a" text-anchor="start" textLength="12.5" lengthAdjust="spacingAndGlyphs" stroke="#1a1a1a" stroke-width="0.45">3</text>
<line x1="361.4" y1="1005" x2="412.8" y2="1005" stroke="#ee441c" stroke-width="3"/>
<text x="417.5" y="1011.3" font-family="'Liberation Sans',sans-serif" font-size="17.5" font-weight="normal" fill="#1a1a1a" text-anchor="start" textLength="12.5" lengthAdjust="spacingAndGlyphs" stroke="#1a1a1a" stroke-width="0.45">4</text>
<line x1="361.4" y1="1027.1" x2="412.8" y2="1027.1" stroke="#f05a14" stroke-width="3"/>
<text x="417.5" y="1033.4" font-family="'Liberation Sans',sans-serif" font-size="17.5" font-weight="normal" fill="#1a1a1a" text-anchor="start" textLength="12.5" lengthAdjust="spacingAndGlyphs" stroke="#1a1a1a" stroke-width="0.45">5</text>
<line x1="361.4" y1="1049.2" x2="412.8" y2="1049.2" stroke="#f37a0c" stroke-width="3"/>
<text x="417.5" y="1055.5" font-family="'Liberation Sans',sans-serif" font-size="17.5" font-weight="normal" fill="#1a1a1a" text-anchor="start" textLength="12.5" lengthAdjust="spacingAndGlyphs" stroke="#1a1a1a" stroke-width="0.45">6</text>
<line x1="361.4" y1="1071.7" x2="412.8" y2="1071.7" stroke="#f9b596" stroke-width="2.4"/>
<text x="417.5" y="1078" font-family="'Liberation Sans',sans-serif" font-size="17.5" font-weight="normal" fill="#1a1a1a" text-anchor="start" textLength="12.5" lengthAdjust="spacingAndGlyphs" stroke="#1a1a1a" stroke-width="0.45">7</text>
<line x1="361.4" y1="1095" x2="412.8" y2="1095" stroke="#e6e2e4" stroke-width="2"/>
<text x="417.5" y="1101.3" font-family="'Liberation Sans',sans-serif" font-size="17.5" font-weight="normal" fill="#1a1a1a" text-anchor="start" textLength="12.5" lengthAdjust="spacingAndGlyphs" stroke="#1a1a1a" stroke-width="0.45">8</text>
<text x="399.5" y="916.8" font-family="'Liberation Sans',sans-serif" font-size="36" font-weight="normal" fill="#e8242c" text-anchor="start" textLength="28.6" lengthAdjust="spacingAndGlyphs">B</text>
<text x="70.7" y="944.6" font-family="'Liberation Sans',sans-serif" font-size="20.5" font-weight="bold" fill="#000" text-anchor="start" textLength="34.3" lengthAdjust="spacingAndGlyphs">8.0</text>
<text x="70.7" y="1017.2" font-family="'Liberation Sans',sans-serif" font-size="20.5" font-weight="bold" fill="#000" text-anchor="start" textLength="34.3" lengthAdjust="spacingAndGlyphs">6.0</text>
<text x="70.7" y="1090.1" font-family="'Liberation Sans',sans-serif" font-size="20.5" font-weight="bold" fill="#000" text-anchor="start" textLength="34.3" lengthAdjust="spacingAndGlyphs">4.0</text>
<text x="70.7" y="1163" font-family="'Liberation Sans',sans-serif" font-size="20.5" font-weight="bold" fill="#000" text-anchor="start" textLength="34.3" lengthAdjust="spacingAndGlyphs">2.0</text>
<text x="70.7" y="1235.9" font-family="'Liberation Sans',sans-serif" font-size="20.5" font-weight="bold" fill="#000" text-anchor="start" textLength="34.3" lengthAdjust="spacingAndGlyphs">0.0</text>
<text x="122.4" y="1291" font-family="'Liberation Sans',sans-serif" font-size="20.5" font-weight="bold" fill="#000" text-anchor="start" textLength="41" lengthAdjust="spacingAndGlyphs">186</text>
<text x="179" y="1291" font-family="'Liberation Sans',sans-serif" font-size="20.5" font-weight="bold" fill="#000" text-anchor="start" textLength="41" lengthAdjust="spacingAndGlyphs">188</text>
<text x="235.6" y="1291" font-family="'Liberation Sans',sans-serif" font-size="20.5" font-weight="bold" fill="#000" text-anchor="start" textLength="41" lengthAdjust="spacingAndGlyphs">190</text>
<text x="292.2" y="1291" font-family="'Liberation Sans',sans-serif" font-size="20.5" font-weight="bold" fill="#000" text-anchor="start" textLength="41" lengthAdjust="spacingAndGlyphs">192</text>
<text x="348.8" y="1291" font-family="'Liberation Sans',sans-serif" font-size="20.5" font-weight="bold" fill="#000" text-anchor="start" textLength="41" lengthAdjust="spacingAndGlyphs">194</text>
<text x="405.4" y="1291" font-family="'Liberation Sans',sans-serif" font-size="20.5" font-weight="bold" fill="#000" text-anchor="start" textLength="41" lengthAdjust="spacingAndGlyphs">196</text>
<text x="142.5" y="1331" font-family="'Liberation Sans',sans-serif" font-size="24" font-weight="bold" fill="#000" text-anchor="start" textLength="285" lengthAdjust="spacingAndGlyphs">Binding Energy (eV)</text>
<text x="34.2" y="1143" transform="rotate(-90 34.2 1143)" font-family="'Liberation Sans',sans-serif" font-size="31" font-weight="bold" fill="#000" textLength="119" lengthAdjust="spacingAndGlyphs">C/S (X10<tspan font-size="18" dy="-16.5">3</tspan><tspan dy="16.5">)</tspan></text>
<rect x="118.3" y="873.4" width="67" height="74.8" fill="#000"/>
<text x="151.8" y="932.6" font-family="'Liberation Serif',serif" font-size="60" font-weight="bold" fill="#fff" text-anchor="middle">d</text>
<rect x="591.5" y="873.2" width="341.7" height="393" fill="none" stroke="#505050" stroke-width="2.3"/>
<g stroke="#505050" stroke-width="1.8">
<line x1="660.4" y1="1266.2" x2="660.4" y2="1258.2"/>
<line x1="728.6" y1="1266.2" x2="728.6" y2="1258.2"/>
<line x1="796.8" y1="1266.2" x2="796.8" y2="1258.2"/>
<line x1="865" y1="1266.2" x2="865" y2="1258.2"/>
<line x1="626.3" y1="1266.2" x2="626.3" y2="1261.7"/>
<line x1="694.5" y1="1266.2" x2="694.5" y2="1261.7"/>
<line x1="762.7" y1="1266.2" x2="762.7" y2="1261.7"/>
<line x1="830.9" y1="1266.2" x2="830.9" y2="1261.7"/>
<line x1="899.1" y1="1266.2" x2="899.1" y2="1261.7"/>
<line x1="591.5" y1="954.8" x2="599.5" y2="954.8"/>
<line x1="591.5" y1="1090.2" x2="599.5" y2="1090.2"/>
<line x1="591.5" y1="1225.7" x2="599.5" y2="1225.7"/>
<line x1="591.5" y1="887.1" x2="596" y2="887.1"/>
<line x1="591.5" y1="1022.5" x2="596" y2="1022.5"/>
<line x1="591.5" y1="1158" x2="596" y2="1158"/>
</g>
<path d="M625.2 1227.1C628.4 1227 636.3 1226.8 644.5 1226.5C652.7 1226.3 666.8 1226.5 674.3 1225.7C681.7 1224.8 684.2 1222.7 689.2 1221.2C694.1 1219.7 699.1 1218 704 1216.7C709 1215.5 714.2 1214.6 718.9 1213.8C723.6 1212.9 728.4 1211.4 732.3 1211.4C736.3 1211.4 739 1212.1 742.7 1213.8C746.5 1215.4 751.2 1219.7 754.6 1221.2C758.1 1222.7 760.1 1222.7 763.6 1222.7C767 1222.7 770.5 1220.9 775.5 1221.2C780.4 1221.4 785.4 1223.3 793.3 1224.2C801.3 1225.1 805.5 1226.3 823.1 1226.5C840.7 1226.8 886.3 1225.8 899 1225.7" fill="none" stroke="#e8e6e8" stroke-width="2.1" stroke-linejoin="round" stroke-linecap="round"/>
<path d="M625.2 1226.5C628.4 1226.4 636.3 1226.3 644.5 1225.7C652.7 1225 666.8 1224.4 674.3 1222.7C681.7 1220.9 684.2 1218 689.2 1215.2C694.1 1212.5 699.6 1208.9 704 1206.3C708.5 1203.7 712.2 1201.2 716 1199.8C719.7 1198.3 722.4 1197.2 726.4 1197.4C730.3 1197.6 735.5 1199.2 739.8 1201C744 1202.7 747.7 1205.7 751.7 1207.8C755.6 1209.9 759.1 1212 763.6 1213.8C768 1215.5 773.5 1216.7 778.5 1218.2C783.4 1219.7 785.9 1221.4 793.3 1222.7C800.8 1223.9 805.5 1225.1 823.1 1225.7C840.7 1226.2 886.3 1225.9 899 1226" fill="none" stroke="#f3d8b6" stroke-width="2.1" stroke-linejoin="round" stroke-linecap="round"/>
<path d="M625.2 1226.5C628.4 1226.3 638.8 1226 644.5 1225.4C650.2 1224.7 654.4 1224.4 659.4 1222.7C664.4 1221 669.3 1220 674.3 1215.2C679.2 1210.5 684.2 1202.3 689.2 1194.4C694.1 1186.5 699.6 1174.8 704 1167.6C708.5 1160.4 711.6 1155.3 716 1151.2C720.3 1147.2 726 1143.7 729.9 1143.2C733.9 1142.7 736.1 1144.2 739.8 1148.3C743.4 1152.3 747.7 1160.9 751.7 1167.6C755.6 1174.3 759.6 1182.5 763.6 1188.5C767.5 1194.4 771.5 1199.6 775.5 1203.3C779.4 1207.1 783.4 1208.5 787.4 1210.8C791.3 1213 795.3 1215.2 799.3 1216.7C803.3 1218.2 807.2 1218.7 811.2 1219.7C815.2 1220.7 818.6 1221.8 823.1 1222.7C827.6 1223.5 825.3 1224.3 838 1224.8C850.6 1225.3 888.8 1225.5 899 1225.7" fill="none" stroke="#fdc850" stroke-width="2.5" stroke-linejoin="round" stroke-linecap="round"/>
<path d="M625.2 1226.5C628.4 1226.2 638.8 1226.2 644.5 1224.8C650.2 1223.4 654.9 1221.8 659.4 1218.2C663.9 1214.6 667.3 1210.3 671.3 1203.3C675.3 1196.4 679.2 1188 683.2 1176.5C687.2 1165.1 691.2 1150.8 695.1 1134.9C699.1 1119 703.1 1097.2 707 1081.3C711 1065.4 715.4 1048.5 718.9 1039.6C722.5 1030.8 725.5 1028.8 728.5 1028.3C731.4 1027.8 733.9 1030.8 736.8 1036.7C739.7 1042.5 742.7 1053 745.7 1063.5C748.7 1073.9 751.7 1087.8 754.6 1099.2C757.6 1110.6 760.6 1122 763.6 1131.9C766.5 1141.8 769.5 1150.8 772.5 1158.7C775.5 1166.6 778.5 1173.6 781.4 1179.5C784.4 1185.5 787.4 1190.9 790.4 1194.4C793.3 1197.9 795.8 1197.4 799.3 1200.4C802.8 1203.3 807.2 1209 811.2 1212.3C815.2 1215.5 818.6 1217.7 823.1 1219.7C827.6 1221.7 825.3 1223.2 838 1224.2C850.6 1225.1 888.8 1225.2 899 1225.4" fill="none" stroke="#fcbb30" stroke-width="2.5" stroke-linejoin="round" stroke-linecap="round"/>
<path d="M625.2 1226.5C628.4 1226.2 638.8 1225.8 644.5 1224.2C650.2 1222.5 654.9 1220.9 659.4 1216.7C663.9 1212.5 667.3 1207.1 671.3 1198.9C675.3 1190.7 679.2 1180.8 683.2 1167.6C687.2 1154.5 691.2 1137.9 695.1 1120C699.1 1102.1 703.1 1079.8 707 1060.5C711 1041.1 715.7 1016.8 718.9 1003.9C722.2 991 724.4 987.2 726.4 983.1C728.4 979 729.1 979.3 730.8 979.5C732.6 979.8 734.3 979 736.8 984.6C739.3 990.1 742.7 1001.7 745.7 1012.9C748.7 1024 751.7 1038.2 754.6 1051.5C757.6 1064.9 760.6 1079.8 763.6 1093.2C766.5 1106.6 769.5 1120.5 772.5 1131.9C775.5 1143.3 778.5 1153.2 781.4 1161.7C784.4 1170.1 787.4 1177 790.4 1182.5C793.3 1188 796.3 1190.4 799.3 1194.4C802.3 1198.4 804.2 1202.3 808.2 1206.3C812.2 1210.3 818.1 1215.3 823.1 1218.2C828.1 1221.1 825.3 1222.4 838 1223.6C850.6 1224.7 888.8 1224.8 899 1225.1" fill="none" stroke="#fbb020" stroke-width="2.5" stroke-linejoin="round" stroke-linecap="round"/>
<path d="M625.2 1226.5C628.4 1226.2 638.8 1225.7 644.5 1224.2C650.2 1222.7 654.9 1221.6 659.4 1217.6C663.9 1213.7 667.3 1208.2 671.3 1200.4C675.3 1192.5 679.2 1183 683.2 1170.6C687.2 1158.2 691.2 1143.3 695.1 1126C699.1 1108.6 703.1 1086.8 707 1066.4C711 1046.1 715.2 1021.8 718.9 1003.9C722.6 986.1 726.4 969.6 729.3 959.3C732.3 949 735 945.2 736.8 942C738.6 938.8 738.6 939 740.4 939.9C742.1 940.8 744.8 942.2 747.2 947.4C749.6 952.6 751.9 960.3 754.6 971.2C757.4 982.1 760.6 997.5 763.6 1012.9C766.5 1028.2 769.5 1047.1 772.5 1063.5C775.5 1079.8 778.5 1096.2 781.4 1111.1C784.4 1126 787.4 1141.3 790.4 1152.7C793.3 1164.1 795.8 1171.6 799.3 1179.5C802.8 1187.5 807.2 1194.9 811.2 1200.4C815.2 1205.8 818.6 1208.8 823.1 1212.3C827.6 1215.7 833 1219.2 838 1221.2C842.9 1223.2 842.7 1223.6 852.9 1224.2C863 1224.8 891.3 1224.7 899 1224.8" fill="none" stroke="#f9a414" stroke-width="2.5" stroke-linejoin="round" stroke-linecap="round"/>
<path d="M625.2 1227.1C628.4 1226.5 638.8 1225.4 644.5 1223.6C650.2 1221.8 654.9 1220.5 659.4 1216.4C663.9 1212.4 667.3 1207.4 671.3 1199.2C675.3 1190.9 679.2 1180.2 683.2 1167C687.2 1153.8 691.2 1138.2 695.1 1120C699.1 1101.8 703.1 1079.4 707 1058.1C711 1036.8 715.2 1011.5 718.9 992C722.6 972.6 726.4 953.7 729.3 941.4C732.3 929.1 734.9 922.9 736.8 918.2C738.7 913.6 739.4 913.7 741 913.5C742.5 913.3 744.4 913.8 746.3 917C748.2 920.3 750 923.5 752.6 933.1C755.1 942.7 758.5 958.9 761.5 974.8C764.5 990.6 767.4 1010.5 770.4 1028.3C773.4 1046.2 776.4 1065.2 779.3 1081.9C782.3 1098.6 785.3 1114.7 788.3 1128.3C791.2 1141.9 794.2 1154.1 797.2 1163.5C800.2 1172.8 802.7 1177.4 806.1 1184.3C809.6 1191.1 814.1 1199.3 818 1204.5C822 1209.8 825.5 1212.8 829.9 1215.8C834.4 1218.9 839.5 1221.5 844.8 1223C850.1 1224.5 855.5 1224.7 861.8 1224.8C868.1 1224.9 876.4 1223.7 882.6 1223.6C888.8 1223.5 896.3 1224.1 899 1224.2" fill="none" stroke="#f69612" stroke-width="2.8" stroke-linejoin="round" stroke-linecap="round"/>
<path d="M625.2 1226.5C628.4 1225.9 638.8 1224.6 644.5 1222.7C650.2 1220.8 654.9 1219.5 659.4 1215.2C663.9 1211 667.3 1205.8 671.3 1197.4C675.3 1188.9 679.2 1178 683.2 1164.6C687.2 1151.2 691.2 1135.4 695.1 1117C699.1 1098.7 703.1 1075.9 707 1054.5C711 1033.2 715.2 1008.4 718.9 989C722.6 969.7 726.4 950.6 729.3 938.5C732.3 926.3 735 920.6 736.8 916.1C738.6 911.7 738.9 911.9 740.4 911.7C741.8 911.4 743.8 911.7 745.7 914.6C747.6 917.6 749.2 920.1 751.7 929.5C754.1 938.9 757.6 955.3 760.6 971.2C763.6 987.1 766.5 1006.9 769.5 1024.8C772.5 1042.6 775.5 1061.5 778.5 1078.3C781.4 1095.2 784.4 1112.1 787.4 1126C790.4 1139.8 793.3 1152.2 796.3 1161.7C799.3 1171.1 801.8 1175.6 805.2 1182.5C808.7 1189.4 813.2 1197.9 817.1 1203.3C821.1 1208.8 824.6 1212 829 1215.2C833.5 1218.5 838.5 1221.2 843.9 1222.7C849.4 1224.2 855.3 1223.9 861.8 1224.2C868.2 1224.4 876.4 1224.4 882.6 1224.2C888.8 1223.9 896.3 1222.9 899 1222.7" fill="none" stroke="#f4900c" stroke-width="2.8" stroke-linejoin="round" stroke-linecap="round"/>
<line x1="850.8" y1="934.9" x2="901" y2="934.9" stroke="#f4900c" stroke-width="3"/>
<text x="906.4" y="941.2" font-family="'Liberation Sans',sans-serif" font-size="17.5" font-weight="normal" fill="#1a1a1a" text-anchor="start" textLength="11" lengthAdjust="spacingAndGlyphs" stroke="#1a1a1a" stroke-width="0.45">1</text>
<line x1="850.8" y1="957.2" x2="901" y2="957.2" stroke="#f69612" stroke-width="3"/>
<text x="906.4" y="963.5" font-family="'Liberation Sans',sans-serif" font-size="17.5" font-weight="normal" fill="#1a1a1a" text-anchor="start" textLength="11" lengthAdjust="spacingAndGlyphs" stroke="#1a1a1a" stroke-width="0.45">2</text>
<line x1="850.8" y1="979.5" x2="901" y2="979.5" stroke="#f9a414" stroke-width="2.8"/>
<text x="906.4" y="985.8" font-family="'Liberation Sans',sans-serif" font-size="17.5" font-weight="normal" fill="#1a1a1a" text-anchor="start" textLength="11" lengthAdjust="spacingAndGlyphs" stroke="#1a1a1a" stroke-width="0.45">3</text>
<line x1="850.8" y1="1001.8" x2="901" y2="1001.8" stroke="#fbb020" stroke-width="2.8"/>
<text x="906.4" y="1008.1" font-family="'Liberation Sans',sans-serif" font-size="17.5" font-weight="normal" fill="#1a1a1a" text-anchor="start" textLength="11" lengthAdjust="spacingAndGlyphs" stroke="#1a1a1a" stroke-width="0.45">4</text>
<line x1="850.8" y1="1023.9" x2="901" y2="1023.9" stroke="#fcbb30" stroke-width="2.8"/>
<text x="906.4" y="1030.2" font-family="'Liberation Sans',sans-serif" font-size="17.5" font-weight="normal" fill="#1a1a1a" text-anchor="start" textLength="11" lengthAdjust="spacingAndGlyphs" stroke="#1a1a1a" stroke-width="0.45">5</text>
<line x1="850.8" y1="1046.2" x2="901" y2="1046.2" stroke="#fdc850" stroke-width="2.5"/>
<text x="906.4" y="1052.5" font-family="'Liberation Sans',sans-serif" font-size="17.5" font-weight="normal" fill="#1a1a1a" text-anchor="start" textLength="11" lengthAdjust="spacingAndGlyphs" stroke="#1a1a1a" stroke-width="0.45">6</text>
<line x1="850.8" y1="1068.2" x2="901" y2="1068.2" stroke="#f3d8b6" stroke-width="2"/>
<text x="906.4" y="1074.5" font-family="'Liberation Sans',sans-serif" font-size="17.5" font-weight="normal" fill="#1a1a1a" text-anchor="start" textLength="11" lengthAdjust="spacingAndGlyphs" stroke="#1a1a1a" stroke-width="0.45">7</text>
<line x1="850.8" y1="1090.8" x2="901" y2="1090.8" stroke="#e8e6e8" stroke-width="1.6"/>
<text x="906.4" y="1097.1" font-family="'Liberation Sans',sans-serif" font-size="17.5" font-weight="normal" fill="#1a1a1a" text-anchor="start" textLength="11" lengthAdjust="spacingAndGlyphs" stroke="#1a1a1a" stroke-width="0.45">8</text>
<text x="886.6" y="914.6" font-family="'Liberation Sans',sans-serif" font-size="36" font-weight="normal" fill="#e6b400" text-anchor="start" textLength="30.8" lengthAdjust="spacingAndGlyphs">N</text>
<text x="547.7" y="960.6" font-family="'Liberation Sans',sans-serif" font-size="20.5" font-weight="bold" fill="#000" text-anchor="start" textLength="34.3" lengthAdjust="spacingAndGlyphs">2.0</text>
<text x="547.7" y="1096" font-family="'Liberation Sans',sans-serif" font-size="20.5" font-weight="bold" fill="#000" text-anchor="start" textLength="34.3" lengthAdjust="spacingAndGlyphs">1.0</text>
<text x="547.7" y="1231.5" font-family="'Liberation Sans',sans-serif" font-size="20.5" font-weight="bold" fill="#000" text-anchor="start" textLength="34.3" lengthAdjust="spacingAndGlyphs">0.0</text>
<text x="571.7" y="1291" font-family="'Liberation Sans',sans-serif" font-size="20.5" font-weight="bold" fill="#000" text-anchor="start" textLength="41" lengthAdjust="spacingAndGlyphs">394</text>
<text x="639.9" y="1291" font-family="'Liberation Sans',sans-serif" font-size="20.5" font-weight="bold" fill="#000" text-anchor="start" textLength="41" lengthAdjust="spacingAndGlyphs">396</text>
<text x="708.1" y="1291" font-family="'Liberation Sans',sans-serif" font-size="20.5" font-weight="bold" fill="#000" text-anchor="start" textLength="41" lengthAdjust="spacingAndGlyphs">398</text>
<text x="776.3" y="1291" font-family="'Liberation Sans',sans-serif" font-size="20.5" font-weight="bold" fill="#000" text-anchor="start" textLength="41" lengthAdjust="spacingAndGlyphs">400</text>
<text x="844.5" y="1291" font-family="'Liberation Sans',sans-serif" font-size="20.5" font-weight="bold" fill="#000" text-anchor="start" textLength="41" lengthAdjust="spacingAndGlyphs">402</text>
<text x="912.7" y="1291" font-family="'Liberation Sans',sans-serif" font-size="20.5" font-weight="bold" fill="#000" text-anchor="start" textLength="41" lengthAdjust="spacingAndGlyphs">404</text>
<text x="620.6" y="1331" font-family="'Liberation Sans',sans-serif" font-size="24" font-weight="bold" fill="#000" text-anchor="start" textLength="283" lengthAdjust="spacingAndGlyphs">Binding Energy (eV)</text>
<text x="519.5" y="1148.5" transform="rotate(-90 519.5 1148.5)" font-family="'Liberation Sans',sans-serif" font-size="31" font-weight="bold" fill="#000" textLength="119.5" lengthAdjust="spacingAndGlyphs">C/S (X10<tspan font-size="18" dy="-16.5">4</tspan><tspan dy="16.5">)</tspan></text>
<rect x="591.5" y="873.2" width="67.3" height="75.7" fill="#000"/>
<text x="625.5" y="932.6" font-family="'Liberation Serif',serif" font-size="60" font-weight="bold" fill="#fff" text-anchor="middle">e</text>
<rect x="1083.9" y="873.2" width="342.8" height="393" fill="none" stroke="#505050" stroke-width="2.3"/>
<g stroke="#505050" stroke-width="1.8">
<line x1="1119.3" y1="1266.2" x2="1119.3" y2="1258.2"/>
<line x1="1187.5" y1="1266.2" x2="1187.5" y2="1258.2"/>
<line x1="1255.7" y1="1266.2" x2="1255.7" y2="1258.2"/>
<line x1="1323.9" y1="1266.2" x2="1323.9" y2="1258.2"/>
<line x1="1392.1" y1="1266.2" x2="1392.1" y2="1258.2"/>
<line x1="1153.4" y1="1266.2" x2="1153.4" y2="1261.7"/>
<line x1="1221.6" y1="1266.2" x2="1221.6" y2="1261.7"/>
<line x1="1289.8" y1="1266.2" x2="1289.8" y2="1261.7"/>
<line x1="1358" y1="1266.2" x2="1358" y2="1261.7"/>
<line x1="1083.9" y1="901.5" x2="1091.9" y2="901.5"/>
<line x1="1083.9" y1="957.8" x2="1091.9" y2="957.8"/>
<line x1="1083.9" y1="1013.8" x2="1091.9" y2="1013.8"/>
<line x1="1083.9" y1="1070" x2="1091.9" y2="1070"/>
<line x1="1083.9" y1="1126" x2="1091.9" y2="1126"/>
<line x1="1083.9" y1="1182.5" x2="1091.9" y2="1182.5"/>
<line x1="1083.9" y1="1239" x2="1091.9" y2="1239"/>
<line x1="1083.9" y1="929.6" x2="1088.4" y2="929.6"/>
<line x1="1083.9" y1="985.8" x2="1088.4" y2="985.8"/>
<line x1="1083.9" y1="1041.9" x2="1088.4" y2="1041.9"/>
<line x1="1083.9" y1="1098" x2="1088.4" y2="1098"/>
<line x1="1083.9" y1="1154.2" x2="1088.4" y2="1154.2"/>
<line x1="1083.9" y1="1210.7" x2="1088.4" y2="1210.7"/>
</g>
<path d="M1119.3 1239C1122.7 1239 1133.2 1239.8 1139.5 1239C1145.9 1238.3 1152.4 1236.1 1157.4 1234.6C1162.3 1233.1 1165.8 1231.6 1169.3 1230.1C1172.8 1228.6 1175.5 1225.7 1178.2 1225.7C1180.9 1225.7 1182.7 1230.6 1185.7 1230.1C1188.6 1229.6 1192.4 1225.2 1196.1 1222.7C1199.8 1220.2 1204 1218 1208 1215.2C1211.9 1212.5 1215.9 1209 1219.9 1206.3C1223.8 1203.6 1228.3 1200.5 1231.8 1198.9C1235.3 1197.3 1237.2 1196.8 1240.7 1196.8C1244.2 1196.8 1249.1 1198.2 1252.6 1198.9C1256.1 1199.6 1258.6 1199.2 1261.5 1201C1264.5 1202.7 1267 1206.9 1270.5 1209.3C1273.9 1211.7 1278.4 1213.5 1282.4 1215.2C1286.3 1217 1290.3 1218 1294.3 1219.7C1298.3 1221.4 1302.7 1224 1306.2 1225.7C1309.7 1227.3 1311.2 1228.8 1315.1 1229.5C1319.1 1230.3 1324.5 1229.5 1330 1230.1C1335.5 1230.7 1341.9 1232 1347.9 1233.1C1353.8 1234.2 1360.8 1235.9 1365.7 1236.7C1370.7 1237.4 1373.3 1237.7 1377.6 1237.6C1382 1237.5 1389.5 1236.3 1391.9 1236.1" fill="none" stroke="#e2e2e4" stroke-width="2.1" stroke-linejoin="round" stroke-linecap="round"/>
<path d="M1119.3 1239C1121.7 1239.4 1127.7 1241.4 1133.6 1241.4C1139.4 1241.4 1148.5 1240.7 1154.4 1239C1160.4 1237.4 1164.3 1235.3 1169.3 1231.6C1174.2 1227.9 1179.2 1222.9 1184.2 1216.7C1189.1 1210.5 1194.6 1201.6 1199 1194.4C1203.5 1187.2 1207 1180 1211 1173.6C1214.9 1167.1 1218.9 1160.7 1222.9 1155.7C1226.8 1150.8 1231.3 1146.6 1234.8 1143.8C1238.2 1141 1241.5 1139.7 1243.7 1138.8C1245.9 1137.8 1246.2 1137.5 1248.2 1137.9C1250.1 1138.2 1252.9 1138.4 1255.6 1140.8C1258.3 1143.3 1261.5 1148.3 1264.5 1152.7C1267.5 1157.2 1270.5 1162.2 1273.5 1167.6C1276.4 1173.1 1279.4 1180.1 1282.4 1185.5C1285.4 1190.8 1288.3 1196.8 1291.3 1199.8C1294.3 1202.7 1297.3 1201.7 1300.2 1203.3C1303.2 1204.9 1306.2 1206.8 1309.2 1209.3C1312.1 1211.8 1314.6 1215.5 1318.1 1218.2C1321.6 1220.9 1326 1223.4 1330 1225.7C1334 1227.9 1337.9 1230.5 1341.9 1231.6C1345.9 1232.7 1349.8 1232.8 1353.8 1232.5C1357.8 1232.2 1361.7 1229.3 1365.7 1229.5C1369.7 1229.7 1373.3 1232.8 1377.6 1233.7C1382 1234.5 1389.5 1234.4 1391.9 1234.6" fill="none" stroke="#c8c8ee" stroke-width="2.1" stroke-linejoin="round" stroke-linecap="round"/>
<path d="M1119.3 1237.6C1122.7 1236.6 1133.7 1233.8 1139.5 1231.6C1145.4 1229.4 1149.9 1228.4 1154.4 1224.2C1158.9 1220 1162.3 1214.2 1166.3 1206.3C1170.3 1198.4 1174.2 1188.9 1178.2 1176.5C1182.2 1164.1 1186.2 1148.3 1190.1 1131.9C1194.1 1115.5 1198.1 1096.2 1202 1078.3C1206 1060.5 1210 1041.1 1213.9 1024.8C1217.9 1008.4 1222.4 992.3 1225.8 980.1C1229.3 968 1232.3 958.4 1234.8 951.8C1237.2 945.3 1239 943.2 1240.7 940.8C1242.5 938.5 1243.2 937.5 1245.2 937.9C1247.2 938.2 1249.9 938.4 1252.6 942.9C1255.3 947.5 1258.6 955.1 1261.5 965.2C1264.5 975.4 1267.5 990.5 1270.5 1003.9C1273.5 1017.3 1276.4 1032.2 1279.4 1045.6C1282.4 1059 1285.4 1072.4 1288.3 1084.3C1291.3 1096.2 1294.3 1107.1 1297.3 1117C1300.2 1126.9 1303.2 1135.4 1306.2 1143.8C1309.2 1152.2 1312.1 1161.2 1315.1 1167.6C1318.1 1174.1 1320.6 1178.5 1324 1182.5C1327.5 1186.5 1332 1188 1336 1191.4C1339.9 1194.9 1343.9 1199.9 1347.9 1203.3C1351.8 1206.8 1355.8 1209.3 1359.8 1212.3C1363.7 1215.2 1366.3 1219.2 1371.7 1221.2C1377 1223.2 1388.5 1223.7 1391.9 1224.2" fill="none" stroke="#8e8ccc" stroke-width="2.4" stroke-linejoin="round" stroke-linecap="round"/>
<path d="M1119.3 1237.6C1121.7 1236.6 1128.7 1233.3 1133.6 1231.6C1138.4 1229.9 1144.5 1229.6 1148.5 1227.1C1152.4 1224.7 1154.2 1222.2 1157.4 1216.7C1160.6 1211.3 1164.3 1203.1 1167.8 1194.4C1171.3 1185.7 1174.5 1177.5 1178.2 1164.6C1181.9 1151.7 1186.2 1135.4 1190.1 1117C1194.1 1098.7 1198.1 1075.9 1202 1054.5C1206 1033.2 1210 1008.9 1213.9 989C1217.9 969.2 1222.4 948.6 1225.8 935.5C1229.3 922.3 1232 915.4 1234.8 910.2C1237.5 905 1239.7 904.5 1242.2 904.2C1244.7 904 1246.9 904 1249.6 908.7C1252.4 913.4 1255.6 921.6 1258.6 932.5C1261.5 943.4 1264.5 959.3 1267.5 974.2C1270.5 989 1273.5 1005.9 1276.4 1021.8C1279.4 1037.7 1282.4 1054.5 1285.4 1069.4C1288.3 1084.3 1291.3 1099.2 1294.3 1111.1C1297.3 1123 1300.2 1131.9 1303.2 1140.8C1306.2 1149.8 1309.2 1157.7 1312.1 1164.6C1315.1 1171.6 1317.6 1177.5 1321.1 1182.5C1324.5 1187.5 1329 1190.4 1333 1194.4C1336.9 1198.4 1340.9 1202.8 1344.9 1206.3C1348.8 1209.8 1352.8 1212.3 1356.8 1215.2C1360.8 1218.2 1362.8 1222.9 1368.7 1224.2C1374.5 1225.4 1388 1222.9 1391.9 1222.7" fill="none" stroke="#7472c0" stroke-width="2.4" stroke-linejoin="round" stroke-linecap="round"/>
<path d="M1119.3 1237.6C1121.2 1236.3 1126.2 1231.9 1130.6 1230.1C1135 1228.4 1141.3 1229.6 1145.5 1227.1C1149.7 1224.7 1152.4 1220.7 1155.9 1215.2C1159.4 1209.8 1162.6 1203.3 1166.3 1194.4C1170 1185.5 1174.2 1174.6 1178.2 1161.7C1182.2 1148.8 1186.2 1133.4 1190.1 1117C1194.1 1100.7 1198.1 1081.3 1202 1063.5C1206 1045.6 1210.2 1025.8 1213.9 1009.9C1217.6 994 1221.4 978 1224.3 968.2C1227.3 958.4 1229.8 954.3 1231.8 951C1233.8 947.6 1234.3 947.8 1236.2 948C1238.2 948.1 1241 949 1243.7 951.8C1246.4 954.7 1249.6 959 1252.6 965.2C1255.6 971.4 1258.6 980.1 1261.5 989C1264.5 998 1267.5 1008.4 1270.5 1018.8C1273.5 1029.2 1276.4 1040.1 1279.4 1051.5C1282.4 1063 1285.4 1075.9 1288.3 1087.3C1291.3 1098.7 1294.3 1110.1 1297.3 1120C1300.2 1129.9 1303.2 1138.4 1306.2 1146.8C1309.2 1155.2 1312.1 1164.4 1315.1 1170.6C1318.1 1176.8 1320.6 1180 1324 1184C1327.5 1188 1332 1190.7 1336 1194.4C1339.9 1198.1 1343.9 1202.6 1347.9 1206.3C1351.8 1210 1355.8 1213.5 1359.8 1216.7C1363.7 1220 1366.3 1224.2 1371.7 1225.7C1377 1227.1 1388.5 1225.7 1391.9 1225.7" fill="none" stroke="#6060b2" stroke-width="2.4" stroke-linejoin="round" stroke-linecap="round"/>
<path d="M1119.3 1237.6C1121.7 1236.3 1128.7 1231.9 1133.6 1230.1C1138.4 1228.4 1144.2 1229.6 1148.5 1227.1C1152.7 1224.7 1155.4 1220.2 1158.9 1215.2C1162.3 1210.3 1165.6 1205.3 1169.3 1197.4C1173 1189.4 1177.2 1179 1181.2 1167.6C1185.2 1156.2 1189.1 1143.8 1193.1 1128.9C1197.1 1114 1201 1095.2 1205 1078.3C1209 1061.5 1212.9 1043.1 1216.9 1027.7C1220.9 1012.4 1225.1 996.2 1228.8 986.1C1232.5 975.9 1236.5 970.6 1239.2 966.7C1242 962.9 1242.7 962.4 1245.2 962.9C1247.7 963.4 1251.1 965.3 1254.1 969.7C1257.1 974.1 1260.1 980.9 1263 989C1266 997.2 1269 1007.9 1272 1018.8C1274.9 1029.7 1277.9 1042.6 1280.9 1054.5C1283.9 1066.4 1286.8 1078.8 1289.8 1090.2C1292.8 1101.6 1295.8 1113.1 1298.8 1123C1301.7 1132.9 1304.5 1141.6 1307.7 1149.8C1310.9 1157.9 1314.4 1166.1 1318.1 1172.1C1321.8 1178 1326 1181.3 1330 1185.5C1334 1189.7 1337.9 1193.4 1341.9 1197.4C1345.9 1201.3 1349.8 1205.6 1353.8 1209.3C1357.8 1213 1361.7 1217.2 1365.7 1219.7C1369.7 1222.2 1373.3 1222.9 1377.6 1224.2C1382 1225.4 1389.5 1226.6 1391.9 1227.1" fill="none" stroke="#5050a8" stroke-width="2.7" stroke-linejoin="round" stroke-linecap="round"/>
<path d="M1119.3 1237.6C1121.7 1236.6 1128.7 1233.1 1133.6 1231.6C1138.4 1230.1 1144 1230.9 1148.5 1228.6C1152.9 1226.4 1156.4 1222.9 1160.4 1218.2C1164.3 1213.5 1168.3 1208.3 1172.3 1200.4C1176.2 1192.4 1180.2 1182 1184.2 1170.6C1188.1 1159.2 1192.1 1146.3 1196.1 1131.9C1200 1117.5 1204 1100.2 1208 1084.3C1211.9 1068.4 1215.9 1051.1 1219.9 1036.7C1223.8 1022.3 1228.1 1007.4 1231.8 998C1235.5 988.6 1239.5 983.6 1242.2 980.1C1244.9 976.6 1245.9 976.9 1248.2 977.1C1250.4 977.4 1252.9 978.1 1255.6 981.6C1258.3 985.1 1261.5 990.8 1264.5 998C1267.5 1005.2 1270.5 1014.3 1273.5 1024.8C1276.4 1035.2 1279.4 1048.6 1282.4 1060.5C1285.4 1072.4 1288.3 1085.3 1291.3 1096.2C1294.3 1107.1 1297.3 1116.5 1300.2 1126C1303.2 1135.4 1306.2 1145.3 1309.2 1152.7C1312.1 1160.2 1314.6 1165.6 1318.1 1170.6C1321.6 1175.6 1326 1178.5 1330 1182.5C1334 1186.5 1337.9 1190.4 1341.9 1194.4C1345.9 1198.4 1349.8 1202.8 1353.8 1206.3C1357.8 1209.8 1361.7 1212.9 1365.7 1215.2C1369.7 1217.6 1373.3 1219 1377.6 1220.6C1382 1222.2 1389.5 1224.1 1391.9 1224.8" fill="none" stroke="#4040a0" stroke-width="2.7" stroke-linejoin="round" stroke-linecap="round"/>
<path d="M1119.3 1237.6C1121.7 1236.8 1128.7 1234.3 1133.6 1233.1C1138.4 1231.9 1143.5 1232.1 1148.5 1230.1C1153.4 1228.1 1158.9 1225.2 1163.3 1221.2C1167.8 1217.2 1171.3 1213.3 1175.2 1206.3C1179.2 1199.4 1183.2 1190.4 1187.1 1179.5C1191.1 1168.6 1195.1 1155.2 1199 1140.8C1203 1126.4 1207 1109.1 1211 1093.2C1214.9 1077.3 1218.9 1059.5 1222.9 1045.6C1226.8 1031.7 1231.3 1018.1 1234.8 1009.9C1238.2 1001.7 1241.5 999 1243.7 996.5C1245.9 994 1246.2 994.5 1248.2 995C1250.1 995.5 1252.9 997.5 1255.6 999.5C1258.3 1001.4 1261.5 1001.7 1264.5 1006.9C1267.5 1012.1 1270.5 1021.3 1273.5 1030.7C1276.4 1040.1 1279.4 1052 1282.4 1063.5C1285.4 1074.9 1288.3 1088.3 1291.3 1099.2C1294.3 1110.1 1297.3 1119.5 1300.2 1128.9C1303.2 1138.4 1306.2 1148.3 1309.2 1155.7C1312.1 1163.2 1314.6 1168.6 1318.1 1173.6C1321.6 1178.5 1326 1181.5 1330 1185.5C1334 1189.4 1337.9 1193.4 1341.9 1197.4C1345.9 1201.3 1349.8 1206.1 1353.8 1209.3C1357.8 1212.5 1361.7 1214.7 1365.7 1216.7C1369.7 1218.7 1373.3 1219.7 1377.6 1221.2C1382 1222.7 1389.5 1224.9 1391.9 1225.7" fill="none" stroke="#38389c" stroke-width="2.7" stroke-linejoin="round" stroke-linecap="round"/>
<line x1="1341.3" y1="940.5" x2="1392.2" y2="940.5" stroke="#38389c" stroke-width="3.2"/>
<text x="1397" y="946.8" font-family="'Liberation Sans',sans-serif" font-size="17.5" font-weight="normal" fill="#1a1a1a" text-anchor="start" textLength="11" lengthAdjust="spacingAndGlyphs" stroke="#1a1a1a" stroke-width="0.45">1</text>
<line x1="1341.3" y1="962.9" x2="1392.2" y2="962.9" stroke="#4040a0" stroke-width="3.2"/>
<text x="1397" y="969.2" font-family="'Liberation Sans',sans-serif" font-size="17.5" font-weight="normal" fill="#1a1a1a" text-anchor="start" textLength="11" lengthAdjust="spacingAndGlyphs" stroke="#1a1a1a" stroke-width="0.45">2</text>
<line x1="1341.3" y1="984.6" x2="1392.2" y2="984.6" stroke="#5050a8" stroke-width="3"/>
<text x="1397" y="990.9" font-family="'Liberation Sans',sans-serif" font-size="17.5" font-weight="normal" fill="#1a1a1a" text-anchor="start" textLength="11" lengthAdjust="spacingAndGlyphs" stroke="#1a1a1a" stroke-width="0.45">3</text>
<line x1="1341.3" y1="1006.9" x2="1392.2" y2="1006.9" stroke="#6060b2" stroke-width="3"/>
<text x="1397" y="1013.2" font-family="'Liberation Sans',sans-serif" font-size="17.5" font-weight="normal" fill="#1a1a1a" text-anchor="start" textLength="11" lengthAdjust="spacingAndGlyphs" stroke="#1a1a1a" stroke-width="0.45">4</text>
<line x1="1341.3" y1="1029.2" x2="1392.2" y2="1029.2" stroke="#7472c0" stroke-width="2.8"/>
<text x="1397" y="1035.5" font-family="'Liberation Sans',sans-serif" font-size="17.5" font-weight="normal" fill="#1a1a1a" text-anchor="start" textLength="11" lengthAdjust="spacingAndGlyphs" stroke="#1a1a1a" stroke-width="0.45">5</text>
<line x1="1341.3" y1="1051.5" x2="1392.2" y2="1051.5" stroke="#8e8ccc" stroke-width="2.6"/>
<text x="1397" y="1057.8" font-family="'Liberation Sans',sans-serif" font-size="17.5" font-weight="normal" fill="#1a1a1a" text-anchor="start" textLength="11" lengthAdjust="spacingAndGlyphs" stroke="#1a1a1a" stroke-width="0.45">6</text>
<line x1="1341.3" y1="1073.9" x2="1392.2" y2="1073.9" stroke="#c8c8ee" stroke-width="2.2"/>
<text x="1397" y="1080.2" font-family="'Liberation Sans',sans-serif" font-size="17.5" font-weight="normal" fill="#1a1a1a" text-anchor="start" textLength="11" lengthAdjust="spacingAndGlyphs" stroke="#1a1a1a" stroke-width="0.45">7</text>
<line x1="1341.3" y1="1096.2" x2="1392.2" y2="1096.2" stroke="#e2e2e4" stroke-width="2"/>
<text x="1397" y="1102.5" font-family="'Liberation Sans',sans-serif" font-size="17.5" font-weight="normal" fill="#1a1a1a" text-anchor="start" textLength="11" lengthAdjust="spacingAndGlyphs" stroke="#1a1a1a" stroke-width="0.45">8</text>
<text x="1373.5" y="917.8" font-family="'Liberation Sans',sans-serif" font-size="39.5" font-weight="normal" fill="#26268c" text-anchor="start" textLength="32" lengthAdjust="spacingAndGlyphs">C</text>
<text x="1026.5" y="907.3" font-family="'Liberation Sans',sans-serif" font-size="20.5" font-weight="bold" fill="#000" text-anchor="start" textLength="48.5" lengthAdjust="spacingAndGlyphs">12.0</text>
<text x="1026.5" y="963.6" font-family="'Liberation Sans',sans-serif" font-size="20.5" font-weight="bold" fill="#000" text-anchor="start" textLength="48.5" lengthAdjust="spacingAndGlyphs">10.0</text>
<text x="1040.5" y="1019.6" font-family="'Liberation Sans',sans-serif" font-size="20.5" font-weight="bold" fill="#000" text-anchor="start" textLength="34.5" lengthAdjust="spacingAndGlyphs">8.0</text>
<text x="1040.5" y="1075.8" font-family="'Liberation Sans',sans-serif" font-size="20.5" font-weight="bold" fill="#000" text-anchor="start" textLength="34.5" lengthAdjust="spacingAndGlyphs">6.0</text>
<text x="1040.5" y="1131.8" font-family="'Liberation Sans',sans-serif" font-size="20.5" font-weight="bold" fill="#000" text-anchor="start" textLength="34.5" lengthAdjust="spacingAndGlyphs">4.0</text>
<text x="1040.5" y="1188.3" font-family="'Liberation Sans',sans-serif" font-size="20.5" font-weight="bold" fill="#000" text-anchor="start" textLength="34.5" lengthAdjust="spacingAndGlyphs">2.0</text>
<text x="1040.5" y="1244.8" font-family="'Liberation Sans',sans-serif" font-size="20.5" font-weight="bold" fill="#000" text-anchor="start" textLength="34.5" lengthAdjust="spacingAndGlyphs">0.0</text>
<text x="1098.8" y="1291" font-family="'Liberation Sans',sans-serif" font-size="20.5" font-weight="bold" fill="#000" text-anchor="start" textLength="41" lengthAdjust="spacingAndGlyphs">280</text>
<text x="1167" y="1291" font-family="'Liberation Sans',sans-serif" font-size="20.5" font-weight="bold" fill="#000" text-anchor="start" textLength="41" lengthAdjust="spacingAndGlyphs">282</text>
<text x="1235.2" y="1291" font-family="'Liberation Sans',sans-serif" font-size="20.5" font-weight="bold" fill="#000" text-anchor="start" textLength="41" lengthAdjust="spacingAndGlyphs">284</text>
<text x="1303.4" y="1291" font-family="'Liberation Sans',sans-serif" font-size="20.5" font-weight="bold" fill="#000" text-anchor="start" textLength="41" lengthAdjust="spacingAndGlyphs">286</text>
<text x="1371.6" y="1291" font-family="'Liberation Sans',sans-serif" font-size="20.5" font-weight="bold" fill="#000" text-anchor="start" textLength="41" lengthAdjust="spacingAndGlyphs">288</text>
<text x="1113.7" y="1331" font-family="'Liberation Sans',sans-serif" font-size="24" font-weight="bold" fill="#000" text-anchor="start" textLength="283" lengthAdjust="spacingAndGlyphs">Binding Energy (eV)</text>
<text x="996.8" y="1148.5" transform="rotate(-90 996.8 1148.5)" font-family="'Liberation Sans',sans-serif" font-size="31" font-weight="bold" fill="#000" textLength="119.5" lengthAdjust="spacingAndGlyphs">C/S (X10<tspan font-size="18" dy="-16.5">3</tspan><tspan dy="16.5">)</tspan></text>
<rect x="1083.9" y="873.2" width="66.6" height="75.7" fill="#000"/>
<text x="1117" y="932.6" font-family="'Liberation Serif',serif" font-size="60" font-weight="bold" fill="#fff" text-anchor="middle">f</text>
<rect x="1544.6" y="849.2" width="509.4" height="417.7" fill="none" stroke="#505050" stroke-width="2.6"/>
<g stroke="#505050" stroke-width="2">
<line x1="1628.4" y1="1266.9" x2="1628.4" y2="1257.9"/>
<line x1="1734.9" y1="1266.9" x2="1734.9" y2="1257.9"/>
<line x1="1841.4" y1="1266.9" x2="1841.4" y2="1257.9"/>
<line x1="1947.9" y1="1266.9" x2="1947.9" y2="1257.9"/>
<line x1="1575.2" y1="1266.9" x2="1575.2" y2="1261.9"/>
<line x1="1681.7" y1="1266.9" x2="1681.7" y2="1261.9"/>
<line x1="1788.2" y1="1266.9" x2="1788.2" y2="1261.9"/>
<line x1="1894.7" y1="1266.9" x2="1894.7" y2="1261.9"/>
<line x1="2001.2" y1="1266.9" x2="2001.2" y2="1261.9"/>
<line x1="1544.6" y1="1232.7" x2="1553.6" y2="1232.7"/>
<line x1="1544.6" y1="1093.2" x2="1553.6" y2="1093.2"/>
<line x1="1544.6" y1="953.7" x2="1553.6" y2="953.7"/>
<line x1="1544.6" y1="1163" x2="1549.6" y2="1163"/>
<line x1="1544.6" y1="1023.5" x2="1549.6" y2="1023.5"/>
<line x1="1544.6" y1="884" x2="1549.6" y2="884"/>
</g>
<clipPath id="clipG"><rect x="1544.6" y="849.2" width="509.4" height="417.7"/></clipPath>
<path d="M1564.4 1044.4C1571.5 1043.6 1592.9 1041.2 1607.2 1039.6C1621.5 1037.9 1635.7 1038.6 1650 1034.5C1664.3 1030.3 1681.1 1019.9 1692.8 1014.6C1704.5 1009.3 1713.1 1005.2 1720.2 1002.6C1727.3 1000 1730.5 998.9 1735.6 999.2C1740.7 999.5 1742.7 998.9 1751 1004.3C1759.3 1009.7 1773.7 1021.4 1785.2 1031.7C1796.8 1042 1807.3 1054 1820.2 1066C1833 1077.9 1848.1 1091.6 1862.3 1103.6C1876.4 1115.6 1890.8 1127.3 1905.1 1137.8C1919.3 1148.4 1933.6 1158.4 1947.8 1166.9C1962.1 1175.5 1977.8 1183.8 1990.6 1189.2C2003.5 1194.6 2014.3 1196.7 2024.9 1199.5C2035.4 1202.2 2049.1 1204.6 2054 1205.6" fill="none" stroke="#c2c2ee" stroke-width="1.5" stroke-dasharray="7 3" clip-path="url(#clipG)"/>
<path d="M1564.4 1044.4C1571.5 1043.6 1592.9 1039.7 1607.2 1039.6C1621.5 1039.5 1635.7 1041.3 1650 1043.7C1664.3 1046.1 1678.5 1048.5 1692.8 1054C1707.1 1059.4 1721.3 1066.8 1735.6 1076.2C1749.9 1085.6 1764.3 1099 1778.4 1110.5C1792.5 1121.9 1806.2 1134.4 1820.2 1144.7C1834.1 1155 1848.1 1164.1 1862.3 1172.1C1876.4 1180.1 1890.8 1186.9 1905.1 1192.6C1919.3 1198.3 1933.6 1202.9 1947.8 1206.3C1962.1 1209.7 1973 1211.2 1990.6 1213.2C2008.3 1215.2 2043.4 1217.4 2054 1218.3" fill="none" stroke="#f7aab2" stroke-width="1.5" stroke-dasharray="7 3" clip-path="url(#clipG)"/>
<path d="M1564.4 887.9C1571.5 890.2 1592.9 895.3 1607.2 901.6C1621.5 907.9 1635.7 915.3 1650 925.6C1664.3 935.9 1678.5 949 1692.8 963.2C1707.1 977.5 1721.3 994.1 1735.6 1011.2C1749.9 1028.3 1764.3 1048.3 1778.4 1066C1792.5 1083.6 1806.2 1102.5 1820.2 1117.3C1834.1 1132.1 1848.1 1143.8 1862.3 1155C1876.4 1166.1 1890.8 1176.1 1905.1 1184.1C1919.3 1192 1933.6 1198.2 1947.8 1202.9C1962.1 1207.6 1973 1210.2 1990.6 1212.5C2008.3 1214.8 2043.4 1215.9 2054 1216.6" fill="none" stroke="#fad6a8" stroke-width="1.5" stroke-dasharray="7 3" clip-path="url(#clipG)"/>
<rect x="1557.4" y="1035" width="14" height="14" fill="#e8192c"/>
<rect x="1600.2" y="1030.9" width="14" height="14" fill="#e8192c"/>
<rect x="1643" y="1035.7" width="14" height="14" fill="#e8192c"/>
<rect x="1685.8" y="1045.9" width="14" height="14" fill="#e8192c"/>
<rect x="1728.6" y="1065.8" width="14" height="14" fill="#e8192c"/>
<rect x="1813.2" y="1137" width="14" height="14" fill="#e8192c"/>
<rect x="1898.1" y="1183.9" width="14" height="14" fill="#e8192c"/>
<rect x="1983.6" y="1206.8" width="14" height="14" fill="#e8192c"/>
<circle cx="1564.4" cy="1044.4" r="8.5" fill="#2e3e9c"/>
<circle cx="1607.2" cy="1039.6" r="8.5" fill="#2e3e9c"/>
<circle cx="1650" cy="1032.4" r="8.5" fill="#2e3e9c"/>
<circle cx="1692.8" cy="1014.6" r="8.5" fill="#2e3e9c"/>
<circle cx="1735.6" cy="986.2" r="8.5" fill="#2e3e9c"/>
<circle cx="1820.2" cy="1060.1" r="8.5" fill="#2e3e9c"/>
<circle cx="1905.1" cy="1132.7" r="8.5" fill="#2e3e9c"/>
<circle cx="1990.6" cy="1187.5" r="8.5" fill="#2e3e9c"/>
<path d="M1564.4 874.6 L1574.7 891.6 L1554.2 891.6 Z" fill="#f0780a"/>
<path d="M1607.2 886.6 L1617.5 903.6 L1597 903.6 Z" fill="#f0780a"/>
<path d="M1650 909.6 L1660.3 926.6 L1639.8 926.6 Z" fill="#f0780a"/>
<path d="M1692.8 947.2 L1703 964.2 L1682.5 964.2 Z" fill="#f0780a"/>
<path d="M1735.6 995.5 L1745.8 1012.5 L1725.3 1012.5 Z" fill="#f0780a"/>
<path d="M1820.2 1100.6 L1830.4 1117.6 L1809.9 1117.6 Z" fill="#f0780a"/>
<path d="M1905.1 1170.8 L1915.3 1187.8 L1894.8 1187.8 Z" fill="#f0780a"/>
<path d="M1990.6 1199.9 L2000.9 1216.9 L1980.4 1216.9 Z" fill="#f0780a"/>
<line x1="1821.9" y1="906.1" x2="1882.8" y2="906.1" stroke="#c2c2ee" stroke-width="1.6" stroke-dasharray="2.5 2.5"/>
<line x1="1821.9" y1="940" x2="1882.8" y2="940" stroke="#f7aab2" stroke-width="1.6" stroke-dasharray="2.5 2.5"/>
<line x1="1821.9" y1="971.8" x2="1882.8" y2="971.8" stroke="#fad6a8" stroke-width="1.6" stroke-dasharray="2.5 2.5"/>
<circle cx="1852.7" cy="906.1" r="8.5" fill="#2e3e9c"/>
<rect x="1845.7" y="933" width="14" height="14" fill="#e8192c"/>
<path d="M1852.7 961.9 L1863 978.9 L1842.5 978.9 Z" fill="#f0780a"/>
<text x="1890.3" y="914.8" font-family="'Liberation Sans',sans-serif" font-size="27.5" font-weight="normal" fill="#000" text-anchor="start" textLength="87.5" lengthAdjust="spacingAndGlyphs">Carbon</text>
<text x="1890.3" y="948" font-family="'Liberation Sans',sans-serif" font-size="27.5" font-weight="normal" fill="#000" text-anchor="start" textLength="71.5" lengthAdjust="spacingAndGlyphs">Boron</text>
<text x="1890.3" y="981.2" font-family="'Liberation Sans',sans-serif" font-size="27.5" font-weight="normal" fill="#000" text-anchor="start" textLength="101.5" lengthAdjust="spacingAndGlyphs">Nitrogen</text>
<text x="1505" y="1239.1" font-family="'Liberation Sans',sans-serif" font-size="18.5" font-weight="bold" fill="#000" text-anchor="start" textLength="28.5" lengthAdjust="spacingAndGlyphs">0.0</text>
<text x="1505" y="1099.6" font-family="'Liberation Sans',sans-serif" font-size="18.5" font-weight="bold" fill="#000" text-anchor="start" textLength="28.5" lengthAdjust="spacingAndGlyphs">2.0</text>
<text x="1505" y="960.1" font-family="'Liberation Sans',sans-serif" font-size="18.5" font-weight="bold" fill="#000" text-anchor="start" textLength="28.5" lengthAdjust="spacingAndGlyphs">4.0</text>
<text x="1613.9" y="1291.2" font-family="'Liberation Sans',sans-serif" font-size="18" font-weight="bold" fill="#000" text-anchor="start" textLength="29" lengthAdjust="spacingAndGlyphs">0.5</text>
<text x="1720.4" y="1291.2" font-family="'Liberation Sans',sans-serif" font-size="18" font-weight="bold" fill="#000" text-anchor="start" textLength="29" lengthAdjust="spacingAndGlyphs">1.0</text>
<text x="1826.9" y="1291.2" font-family="'Liberation Sans',sans-serif" font-size="18" font-weight="bold" fill="#000" text-anchor="start" textLength="29" lengthAdjust="spacingAndGlyphs">1.5</text>
<text x="1933.4" y="1291.2" font-family="'Liberation Sans',sans-serif" font-size="18" font-weight="bold" fill="#000" text-anchor="start" textLength="29" lengthAdjust="spacingAndGlyphs">2.0</text>
<text x="2036.4" y="1291.2" font-family="'Liberation Sans',sans-serif" font-size="18" font-weight="bold" fill="#000" text-anchor="start" textLength="29" lengthAdjust="spacingAndGlyphs">2.5</text>
<text x="1686.3" y="1328" font-family="'Liberation Sans',sans-serif" font-size="21.5" font-weight="bold" fill="#000" text-anchor="start" textLength="225.3" lengthAdjust="spacingAndGlyphs">Sputter time (min)</text>
<text x="1487.2" y="1175" transform="rotate(-90 1487.2 1175)" font-family="'Liberation Sans',sans-serif" font-size="26" font-weight="bold" fill="#000" textLength="192" lengthAdjust="spacingAndGlyphs">Intensity (X10<tspan font-size="15" dy="-17">4</tspan><tspan dy="17">)</tspan></text>
<rect x="1470.3" y="855.4" width="66.7" height="73.6" fill="#000"/>
<text x="1503.8" y="913.6" font-family="'Liberation Serif',serif" font-size="61" font-weight="bold" fill="#fff" text-anchor="middle">g</text>
</g>
</svg>
</body></html>
